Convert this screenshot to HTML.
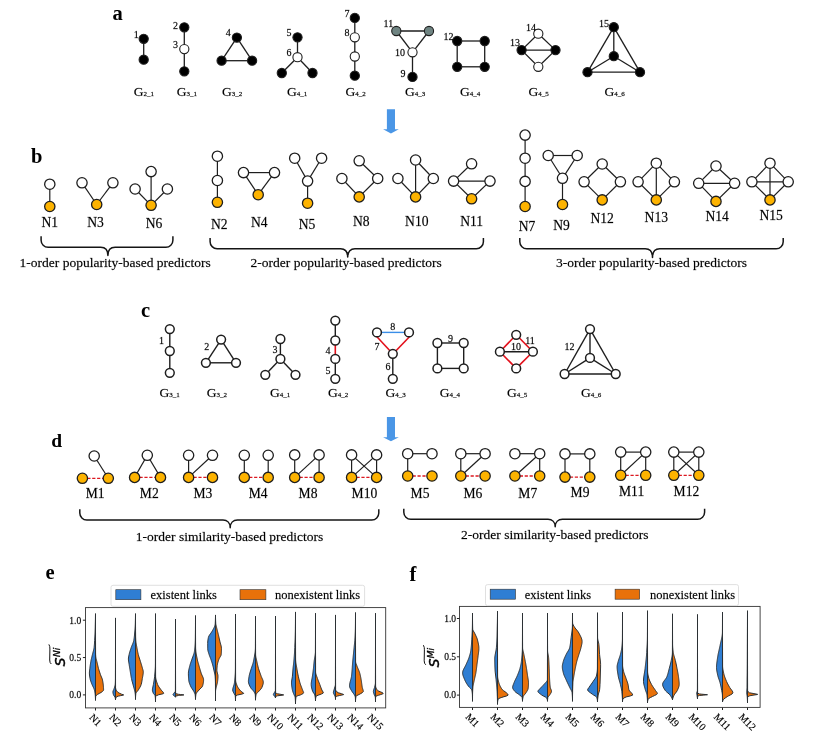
<!DOCTYPE html>
<html><head><meta charset="utf-8"><title>Figure</title>
<style>html,body{margin:0;padding:0;background:#fff;} svg{display:block;}</style></head>
<body><svg width="814" height="740" viewBox="0 0 814 740">
<rect width="814" height="740" fill="#fff"/>
<text x="112.5" y="19.7" font-size="20.5" text-anchor="start" font-weight="bold" font-family="'Liberation Serif', 'Times New Roman', serif"  >a</text>
<text x="31" y="163" font-size="20.5" text-anchor="start" font-weight="bold" font-family="'Liberation Serif', 'Times New Roman', serif"  >b</text>
<text x="141" y="316.5" font-size="20.5" text-anchor="start" font-weight="bold" font-family="'Liberation Serif', 'Times New Roman', serif"  >c</text>
<text x="51.2" y="446.6" font-size="19.5" text-anchor="start" font-weight="bold" font-family="'Liberation Serif', 'Times New Roman', serif"  >d</text>
<text x="45.5" y="579.2" font-size="20.5" text-anchor="start" font-weight="bold" font-family="'Liberation Serif', 'Times New Roman', serif"  >e</text>
<text x="409.5" y="580.9" font-size="20.5" text-anchor="start" font-weight="bold" font-family="'Liberation Serif', 'Times New Roman', serif"  >f</text>
<line x1="143.7" y1="38.8" x2="143.7" y2="59.7" stroke="#1e1e1e" stroke-width="1.3" />
<circle cx="143.7" cy="38.8" r="4.6" fill="#000" stroke="#1e1e1e" stroke-width="1.1"/>
<circle cx="143.7" cy="59.7" r="4.6" fill="#000" stroke="#1e1e1e" stroke-width="1.1"/>
<line x1="184.3" y1="27.3" x2="184.3" y2="49.1" stroke="#1e1e1e" stroke-width="1.3" />
<line x1="184.3" y1="49.1" x2="184.3" y2="71.3" stroke="#1e1e1e" stroke-width="1.3" />
<circle cx="184.3" cy="27.3" r="4.6" fill="#000" stroke="#1e1e1e" stroke-width="1.1"/>
<circle cx="184.3" cy="49.1" r="4.6" fill="#fff" stroke="#1e1e1e" stroke-width="1.1"/>
<circle cx="184.3" cy="71.3" r="4.6" fill="#000" stroke="#1e1e1e" stroke-width="1.1"/>
<line x1="236.9" y1="37.6" x2="221.6" y2="60.7" stroke="#1e1e1e" stroke-width="1.3" />
<line x1="236.9" y1="37.6" x2="252.1" y2="60.7" stroke="#1e1e1e" stroke-width="1.3" />
<line x1="221.6" y1="60.7" x2="252.1" y2="60.7" stroke="#1e1e1e" stroke-width="1.3" />
<circle cx="236.9" cy="37.6" r="4.6" fill="#000" stroke="#1e1e1e" stroke-width="1.1"/>
<circle cx="221.6" cy="60.7" r="4.6" fill="#000" stroke="#1e1e1e" stroke-width="1.1"/>
<circle cx="252.1" cy="60.7" r="4.6" fill="#000" stroke="#1e1e1e" stroke-width="1.1"/>
<line x1="297.5" y1="37.3" x2="297.5" y2="57.2" stroke="#1e1e1e" stroke-width="1.3" />
<line x1="297.5" y1="57.2" x2="281.8" y2="73" stroke="#1e1e1e" stroke-width="1.3" />
<line x1="297.5" y1="57.2" x2="312.5" y2="73" stroke="#1e1e1e" stroke-width="1.3" />
<circle cx="297.5" cy="37.3" r="4.6" fill="#000" stroke="#1e1e1e" stroke-width="1.1"/>
<circle cx="297.5" cy="57.2" r="4.6" fill="#fff" stroke="#1e1e1e" stroke-width="1.1"/>
<circle cx="281.8" cy="73" r="4.6" fill="#000" stroke="#1e1e1e" stroke-width="1.1"/>
<circle cx="312.5" cy="73" r="4.6" fill="#000" stroke="#1e1e1e" stroke-width="1.1"/>
<line x1="354.8" y1="17.9" x2="354.8" y2="37.3" stroke="#1e1e1e" stroke-width="1.3" />
<line x1="354.8" y1="37.3" x2="354.8" y2="56.5" stroke="#1e1e1e" stroke-width="1.3" />
<line x1="354.8" y1="56.5" x2="354.8" y2="75.7" stroke="#1e1e1e" stroke-width="1.3" />
<circle cx="354.8" cy="17.9" r="4.6" fill="#000" stroke="#1e1e1e" stroke-width="1.1"/>
<circle cx="354.8" cy="37.3" r="4.6" fill="#fff" stroke="#1e1e1e" stroke-width="1.1"/>
<circle cx="354.8" cy="56.5" r="4.6" fill="#fff" stroke="#1e1e1e" stroke-width="1.1"/>
<circle cx="354.8" cy="75.7" r="4.6" fill="#000" stroke="#1e1e1e" stroke-width="1.1"/>
<line x1="396.3" y1="31" x2="429" y2="31" stroke="#1e1e1e" stroke-width="1.3" />
<line x1="396.3" y1="31" x2="412.5" y2="52.3" stroke="#1e1e1e" stroke-width="1.3" />
<line x1="429" y1="31" x2="412.5" y2="52.3" stroke="#1e1e1e" stroke-width="1.3" />
<line x1="412.5" y1="52.3" x2="412.5" y2="76.9" stroke="#1e1e1e" stroke-width="1.3" />
<circle cx="396.3" cy="31" r="4.6" fill="#6f8482" stroke="#1e1e1e" stroke-width="1.1"/>
<circle cx="429" cy="31" r="4.6" fill="#6f8482" stroke="#1e1e1e" stroke-width="1.1"/>
<circle cx="412.5" cy="52.3" r="4.6" fill="#fff" stroke="#1e1e1e" stroke-width="1.1"/>
<circle cx="412.5" cy="76.9" r="4.6" fill="#000" stroke="#1e1e1e" stroke-width="1.1"/>
<line x1="457.2" y1="41" x2="484.7" y2="41" stroke="#1e1e1e" stroke-width="1.3" />
<line x1="457.2" y1="41" x2="457.2" y2="66.8" stroke="#1e1e1e" stroke-width="1.3" />
<line x1="484.7" y1="41" x2="484.7" y2="66.8" stroke="#1e1e1e" stroke-width="1.3" />
<line x1="457.2" y1="66.8" x2="484.7" y2="66.8" stroke="#1e1e1e" stroke-width="1.3" />
<circle cx="457.2" cy="41" r="4.6" fill="#000" stroke="#1e1e1e" stroke-width="1.1"/>
<circle cx="484.7" cy="41" r="4.6" fill="#000" stroke="#1e1e1e" stroke-width="1.1"/>
<circle cx="457.2" cy="66.8" r="4.6" fill="#000" stroke="#1e1e1e" stroke-width="1.1"/>
<circle cx="484.7" cy="66.8" r="4.6" fill="#000" stroke="#1e1e1e" stroke-width="1.1"/>
<line x1="538.3" y1="33.7" x2="521.6" y2="50.1" stroke="#1e1e1e" stroke-width="1.3" />
<line x1="538.3" y1="33.7" x2="555.5" y2="50.1" stroke="#1e1e1e" stroke-width="1.3" />
<line x1="521.6" y1="50.1" x2="555.5" y2="50.1" stroke="#1e1e1e" stroke-width="1.3" />
<line x1="521.6" y1="50.1" x2="538.3" y2="66.8" stroke="#1e1e1e" stroke-width="1.3" />
<line x1="555.5" y1="50.1" x2="538.3" y2="66.8" stroke="#1e1e1e" stroke-width="1.3" />
<circle cx="538.3" cy="33.7" r="4.6" fill="#fff" stroke="#1e1e1e" stroke-width="1.1"/>
<circle cx="521.6" cy="50.1" r="4.6" fill="#000" stroke="#1e1e1e" stroke-width="1.1"/>
<circle cx="555.5" cy="50.1" r="4.6" fill="#000" stroke="#1e1e1e" stroke-width="1.1"/>
<circle cx="538.3" cy="66.8" r="4.6" fill="#fff" stroke="#1e1e1e" stroke-width="1.1"/>
<line x1="613.8" y1="27.2" x2="613.8" y2="56.2" stroke="#1e1e1e" stroke-width="1.3" />
<line x1="613.8" y1="27.2" x2="587.5" y2="72.2" stroke="#1e1e1e" stroke-width="1.3" />
<line x1="613.8" y1="27.2" x2="640" y2="72.2" stroke="#1e1e1e" stroke-width="1.3" />
<line x1="613.8" y1="56.2" x2="587.5" y2="72.2" stroke="#1e1e1e" stroke-width="1.3" />
<line x1="613.8" y1="56.2" x2="640" y2="72.2" stroke="#1e1e1e" stroke-width="1.3" />
<line x1="587.5" y1="72.2" x2="640" y2="72.2" stroke="#1e1e1e" stroke-width="1.3" />
<circle cx="613.8" cy="27.2" r="4.6" fill="#000" stroke="#1e1e1e" stroke-width="1.1"/>
<circle cx="613.8" cy="56.2" r="4.6" fill="#000" stroke="#1e1e1e" stroke-width="1.1"/>
<circle cx="587.5" cy="72.2" r="4.6" fill="#000" stroke="#1e1e1e" stroke-width="1.1"/>
<circle cx="640" cy="72.2" r="4.6" fill="#000" stroke="#1e1e1e" stroke-width="1.1"/>
<text x="136.2" y="37.6" font-size="10" text-anchor="middle" font-weight="normal" font-family="'Liberation Serif', 'Times New Roman', serif" stroke="#000" stroke-width="0.28" stroke-opacity="0.55" >1</text>
<text x="175.6" y="28.5" font-size="10" text-anchor="middle" font-weight="normal" font-family="'Liberation Serif', 'Times New Roman', serif" stroke="#000" stroke-width="0.28" stroke-opacity="0.55" >2</text>
<text x="175.6" y="47.7" font-size="10" text-anchor="middle" font-weight="normal" font-family="'Liberation Serif', 'Times New Roman', serif" stroke="#000" stroke-width="0.28" stroke-opacity="0.55" >3</text>
<text x="228.3" y="36.2" font-size="10" text-anchor="middle" font-weight="normal" font-family="'Liberation Serif', 'Times New Roman', serif" stroke="#000" stroke-width="0.28" stroke-opacity="0.55" >4</text>
<text x="289" y="36.2" font-size="10" text-anchor="middle" font-weight="normal" font-family="'Liberation Serif', 'Times New Roman', serif" stroke="#000" stroke-width="0.28" stroke-opacity="0.55" >5</text>
<text x="289" y="55.8" font-size="10" text-anchor="middle" font-weight="normal" font-family="'Liberation Serif', 'Times New Roman', serif" stroke="#000" stroke-width="0.28" stroke-opacity="0.55" >6</text>
<text x="347" y="17" font-size="10" text-anchor="middle" font-weight="normal" font-family="'Liberation Serif', 'Times New Roman', serif" stroke="#000" stroke-width="0.28" stroke-opacity="0.55" >7</text>
<text x="347" y="35.5" font-size="10" text-anchor="middle" font-weight="normal" font-family="'Liberation Serif', 'Times New Roman', serif" stroke="#000" stroke-width="0.28" stroke-opacity="0.55" >8</text>
<text x="388.4" y="27.3" font-size="10" text-anchor="middle" font-weight="normal" font-family="'Liberation Serif', 'Times New Roman', serif" stroke="#000" stroke-width="0.28" stroke-opacity="0.55" >11</text>
<text x="400" y="55.8" font-size="10" text-anchor="middle" font-weight="normal" font-family="'Liberation Serif', 'Times New Roman', serif" stroke="#000" stroke-width="0.28" stroke-opacity="0.55" >10</text>
<text x="403" y="76.5" font-size="10" text-anchor="middle" font-weight="normal" font-family="'Liberation Serif', 'Times New Roman', serif" stroke="#000" stroke-width="0.28" stroke-opacity="0.55" >9</text>
<text x="448.6" y="39.5" font-size="10" text-anchor="middle" font-weight="normal" font-family="'Liberation Serif', 'Times New Roman', serif" stroke="#000" stroke-width="0.28" stroke-opacity="0.55" >12</text>
<text x="531" y="30.5" font-size="10" text-anchor="middle" font-weight="normal" font-family="'Liberation Serif', 'Times New Roman', serif" stroke="#000" stroke-width="0.28" stroke-opacity="0.55" >14</text>
<text x="515" y="45.8" font-size="10" text-anchor="middle" font-weight="normal" font-family="'Liberation Serif', 'Times New Roman', serif" stroke="#000" stroke-width="0.28" stroke-opacity="0.55" >13</text>
<text x="603.9" y="26.7" font-size="10" text-anchor="middle" font-weight="normal" font-family="'Liberation Serif', 'Times New Roman', serif" stroke="#000" stroke-width="0.28" stroke-opacity="0.55" >15</text>
<text x="133.8" y="95.7" font-family="'Liberation Serif', 'Times New Roman', serif" font-size="13.5" stroke="#000" stroke-width="0.28" stroke-opacity="0.55">G<tspan font-size="7">2_1</tspan></text>
<text x="176.7" y="95.7" font-family="'Liberation Serif', 'Times New Roman', serif" font-size="13.5" stroke="#000" stroke-width="0.28" stroke-opacity="0.55">G<tspan font-size="7">3_1</tspan></text>
<text x="222" y="95.7" font-family="'Liberation Serif', 'Times New Roman', serif" font-size="13.5" stroke="#000" stroke-width="0.28" stroke-opacity="0.55">G<tspan font-size="7">3_2</tspan></text>
<text x="287" y="95.7" font-family="'Liberation Serif', 'Times New Roman', serif" font-size="13.5" stroke="#000" stroke-width="0.28" stroke-opacity="0.55">G<tspan font-size="7">4_1</tspan></text>
<text x="345.5" y="95.7" font-family="'Liberation Serif', 'Times New Roman', serif" font-size="13.5" stroke="#000" stroke-width="0.28" stroke-opacity="0.55">G<tspan font-size="7">4_2</tspan></text>
<text x="405" y="95.7" font-family="'Liberation Serif', 'Times New Roman', serif" font-size="13.5" stroke="#000" stroke-width="0.28" stroke-opacity="0.55">G<tspan font-size="7">4_3</tspan></text>
<text x="460" y="95.7" font-family="'Liberation Serif', 'Times New Roman', serif" font-size="13.5" stroke="#000" stroke-width="0.28" stroke-opacity="0.55">G<tspan font-size="7">4_4</tspan></text>
<text x="528.5" y="95.7" font-family="'Liberation Serif', 'Times New Roman', serif" font-size="13.5" stroke="#000" stroke-width="0.28" stroke-opacity="0.55">G<tspan font-size="7">4_5</tspan></text>
<text x="604.4" y="95.7" font-family="'Liberation Serif', 'Times New Roman', serif" font-size="13.5" stroke="#000" stroke-width="0.28" stroke-opacity="0.55">G<tspan font-size="7">4_6</tspan></text>
<path d="M386.9,109.2 L395,109.2 L395,129.3 L398.8,129.3 L390.95,133.5 L383.1,129.3 L386.9,129.3 Z" fill="#4a96e6"/>
<path d="M386.9,417 L395,417 L395,437.2 L398.8,437.2 L390.95,441.2 L383.1,437.2 L386.9,437.2 Z" fill="#4a96e6"/>
<path d="M41.1,236.2 L41.1,240.3 C41.1,244.15 44.25,247.3 48.1,247.3 L100.7,247.3 C104.7,247.3 107.9,249.8 107.9,255.4 C107.9,249.8 111.1,247.3 115.1,247.3 L165.9,247.3 C169.75,247.3 172.9,244.15 172.9,240.3 L172.9,236.2" fill="none" stroke="#151515" stroke-width="1.5" stroke-linejoin="round"/>
<path d="M210.1,238 L210.1,241.7 C210.1,245.55 213.25,248.7 217.1,248.7 L340.5,248.7 C344.5,248.7 347.7,251.2 347.7,257.1 C347.7,251.2 350.9,248.7 354.9,248.7 L476.4,248.7 C480.25,248.7 483.4,245.55 483.4,241.7 L483.4,238" fill="none" stroke="#151515" stroke-width="1.5" stroke-linejoin="round"/>
<path d="M519.8,238 L519.8,241.8 C519.8,245.65 522.95,248.8 526.8,248.8 L645.3,248.8 C649.3,248.8 652.5,251.3 652.5,257.5 C652.5,251.3 655.7,248.8 659.7,248.8 L776.2,248.8 C780.05,248.8 783.2,245.65 783.2,241.8 L783.2,238" fill="none" stroke="#151515" stroke-width="1.5" stroke-linejoin="round"/>
<path d="M79.8,509.2 L79.8,513.1 C79.8,516.95 82.95,520.1 86.8,520.1 L223,520.1 C227,520.1 230.2,522.6 230.2,527.8 C230.2,522.6 233.4,520.1 237.4,520.1 L371.8,520.1 C375.65,520.1 378.8,516.95 378.8,513.1 L378.8,509.2" fill="none" stroke="#151515" stroke-width="1.5" stroke-linejoin="round"/>
<path d="M403.8,508.8 L403.8,512.3 C403.8,516.15 406.95,519.3 410.8,519.3 L548,519.3 C552,519.3 555.2,521.8 555.2,526.8 C555.2,521.8 558.4,519.3 562.4,519.3 L697.6,519.3 C701.45,519.3 704.6,516.15 704.6,512.3 L704.6,508.8" fill="none" stroke="#151515" stroke-width="1.5" stroke-linejoin="round"/>
<text x="115.2" y="266.5" font-size="13.5" text-anchor="middle" font-weight="normal" font-family="'Liberation Serif', 'Times New Roman', serif" stroke="#000" stroke-width="0.28" stroke-opacity="0.55" >1-order popularity-based predictors</text>
<text x="346.2" y="266.6" font-size="13.5" text-anchor="middle" font-weight="normal" font-family="'Liberation Serif', 'Times New Roman', serif" stroke="#000" stroke-width="0.28" stroke-opacity="0.55" >2-order popularity-based predictors</text>
<text x="651.5" y="266.8" font-size="13.5" text-anchor="middle" font-weight="normal" font-family="'Liberation Serif', 'Times New Roman', serif" stroke="#000" stroke-width="0.28" stroke-opacity="0.55" >3-order popularity-based predictors</text>
<text x="229.6" y="540.8" font-size="13.5" text-anchor="middle" font-weight="normal" font-family="'Liberation Serif', 'Times New Roman', serif" stroke="#000" stroke-width="0.28" stroke-opacity="0.55" >1-order similarity-based predictors</text>
<text x="554.8" y="539.4" font-size="13.5" text-anchor="middle" font-weight="normal" font-family="'Liberation Serif', 'Times New Roman', serif" stroke="#000" stroke-width="0.28" stroke-opacity="0.55" >2-order similarity-based predictors</text>
<line x1="49.8" y1="184.2" x2="49.8" y2="206.5" stroke="#1e1e1e" stroke-width="1.2" />
<circle cx="49.8" cy="184.2" r="5.15" fill="#fff" stroke="#1e1e1e" stroke-width="1.3"/>
<circle cx="49.8" cy="206.5" r="5.15" fill="#fdb300" stroke="#1e1e1e" stroke-width="1.3"/>
<line x1="96.7" y1="204.5" x2="82" y2="182.8" stroke="#1e1e1e" stroke-width="1.2" />
<line x1="96.7" y1="204.5" x2="112.9" y2="182.8" stroke="#1e1e1e" stroke-width="1.2" />
<circle cx="96.7" cy="204.5" r="5.15" fill="#fdb300" stroke="#1e1e1e" stroke-width="1.3"/>
<circle cx="82" cy="182.8" r="5.15" fill="#fff" stroke="#1e1e1e" stroke-width="1.3"/>
<circle cx="112.9" cy="182.8" r="5.15" fill="#fff" stroke="#1e1e1e" stroke-width="1.3"/>
<line x1="151.1" y1="205.3" x2="151.1" y2="171.6" stroke="#1e1e1e" stroke-width="1.2" />
<line x1="151.1" y1="205.3" x2="135.1" y2="189" stroke="#1e1e1e" stroke-width="1.2" />
<line x1="151.1" y1="205.3" x2="167.4" y2="189" stroke="#1e1e1e" stroke-width="1.2" />
<circle cx="151.1" cy="205.3" r="5.15" fill="#fdb300" stroke="#1e1e1e" stroke-width="1.3"/>
<circle cx="151.1" cy="171.6" r="5.15" fill="#fff" stroke="#1e1e1e" stroke-width="1.3"/>
<circle cx="135.1" cy="189" r="5.15" fill="#fff" stroke="#1e1e1e" stroke-width="1.3"/>
<circle cx="167.4" cy="189" r="5.15" fill="#fff" stroke="#1e1e1e" stroke-width="1.3"/>
<line x1="217.4" y1="156.2" x2="217.4" y2="180.5" stroke="#1e1e1e" stroke-width="1.2" />
<line x1="217.4" y1="180.5" x2="217.4" y2="202.3" stroke="#1e1e1e" stroke-width="1.2" />
<circle cx="217.4" cy="156.2" r="5.15" fill="#fff" stroke="#1e1e1e" stroke-width="1.3"/>
<circle cx="217.4" cy="180.5" r="5.15" fill="#fff" stroke="#1e1e1e" stroke-width="1.3"/>
<circle cx="217.4" cy="202.3" r="5.15" fill="#fdb300" stroke="#1e1e1e" stroke-width="1.3"/>
<line x1="243.5" y1="172.6" x2="274.5" y2="172.6" stroke="#1e1e1e" stroke-width="1.2" />
<line x1="243.5" y1="172.6" x2="258.2" y2="194.7" stroke="#1e1e1e" stroke-width="1.2" />
<line x1="274.5" y1="172.6" x2="258.2" y2="194.7" stroke="#1e1e1e" stroke-width="1.2" />
<circle cx="243.5" cy="172.6" r="5.15" fill="#fff" stroke="#1e1e1e" stroke-width="1.3"/>
<circle cx="274.5" cy="172.6" r="5.15" fill="#fff" stroke="#1e1e1e" stroke-width="1.3"/>
<circle cx="258.2" cy="194.7" r="5.15" fill="#fdb300" stroke="#1e1e1e" stroke-width="1.3"/>
<line x1="294.7" y1="158.2" x2="307.6" y2="181.1" stroke="#1e1e1e" stroke-width="1.2" />
<line x1="321.6" y1="158.2" x2="307.6" y2="181.1" stroke="#1e1e1e" stroke-width="1.2" />
<line x1="307.6" y1="181.1" x2="307.6" y2="203.2" stroke="#1e1e1e" stroke-width="1.2" />
<circle cx="294.7" cy="158.2" r="5.15" fill="#fff" stroke="#1e1e1e" stroke-width="1.3"/>
<circle cx="321.6" cy="158.2" r="5.15" fill="#fff" stroke="#1e1e1e" stroke-width="1.3"/>
<circle cx="307.6" cy="181.1" r="5.15" fill="#fff" stroke="#1e1e1e" stroke-width="1.3"/>
<circle cx="307.6" cy="203.2" r="5.15" fill="#fdb300" stroke="#1e1e1e" stroke-width="1.3"/>
<line x1="359.2" y1="196.9" x2="341.9" y2="178.5" stroke="#1e1e1e" stroke-width="1.2" />
<line x1="359.2" y1="196.9" x2="377.7" y2="178.5" stroke="#1e1e1e" stroke-width="1.2" />
<line x1="377.7" y1="178.5" x2="359.2" y2="160.8" stroke="#1e1e1e" stroke-width="1.2" />
<circle cx="359.2" cy="160.8" r="5.15" fill="#fff" stroke="#1e1e1e" stroke-width="1.3"/>
<circle cx="341.9" cy="178.5" r="5.15" fill="#fff" stroke="#1e1e1e" stroke-width="1.3"/>
<circle cx="377.7" cy="178.5" r="5.15" fill="#fff" stroke="#1e1e1e" stroke-width="1.3"/>
<circle cx="359.2" cy="196.9" r="5.15" fill="#fdb300" stroke="#1e1e1e" stroke-width="1.3"/>
<line x1="415.6" y1="196.9" x2="397.9" y2="178.5" stroke="#1e1e1e" stroke-width="1.2" />
<line x1="415.6" y1="196.9" x2="415.6" y2="160" stroke="#1e1e1e" stroke-width="1.2" />
<line x1="415.6" y1="196.9" x2="433.3" y2="178.5" stroke="#1e1e1e" stroke-width="1.2" />
<line x1="433.3" y1="178.5" x2="415.6" y2="160" stroke="#1e1e1e" stroke-width="1.2" />
<circle cx="415.6" cy="160" r="5.15" fill="#fff" stroke="#1e1e1e" stroke-width="1.3"/>
<circle cx="397.9" cy="178.5" r="5.15" fill="#fff" stroke="#1e1e1e" stroke-width="1.3"/>
<circle cx="433.3" cy="178.5" r="5.15" fill="#fff" stroke="#1e1e1e" stroke-width="1.3"/>
<circle cx="415.6" cy="196.9" r="5.15" fill="#fdb300" stroke="#1e1e1e" stroke-width="1.3"/>
<line x1="471.6" y1="163.8" x2="453.6" y2="181.1" stroke="#1e1e1e" stroke-width="1.2" />
<line x1="453.6" y1="181.1" x2="490" y2="181.1" stroke="#1e1e1e" stroke-width="1.2" />
<line x1="453.6" y1="181.1" x2="471.6" y2="198.8" stroke="#1e1e1e" stroke-width="1.2" />
<line x1="490" y1="181.1" x2="471.6" y2="198.8" stroke="#1e1e1e" stroke-width="1.2" />
<circle cx="471.6" cy="163.8" r="5.15" fill="#fff" stroke="#1e1e1e" stroke-width="1.3"/>
<circle cx="453.6" cy="181.1" r="5.15" fill="#fff" stroke="#1e1e1e" stroke-width="1.3"/>
<circle cx="490" cy="181.1" r="5.15" fill="#fff" stroke="#1e1e1e" stroke-width="1.3"/>
<circle cx="471.6" cy="198.8" r="5.15" fill="#fdb300" stroke="#1e1e1e" stroke-width="1.3"/>
<line x1="525.1" y1="135.1" x2="525.1" y2="158.2" stroke="#1e1e1e" stroke-width="1.2" />
<line x1="525.1" y1="158.2" x2="525.1" y2="181.4" stroke="#1e1e1e" stroke-width="1.2" />
<line x1="525.1" y1="181.4" x2="525.1" y2="206.5" stroke="#1e1e1e" stroke-width="1.2" />
<circle cx="525.1" cy="135.1" r="5.15" fill="#fff" stroke="#1e1e1e" stroke-width="1.3"/>
<circle cx="525.1" cy="158.2" r="5.15" fill="#fff" stroke="#1e1e1e" stroke-width="1.3"/>
<circle cx="525.1" cy="181.4" r="5.15" fill="#fff" stroke="#1e1e1e" stroke-width="1.3"/>
<circle cx="525.1" cy="206.5" r="5.15" fill="#fdb300" stroke="#1e1e1e" stroke-width="1.3"/>
<line x1="548.2" y1="155.5" x2="577.2" y2="155.5" stroke="#1e1e1e" stroke-width="1.2" />
<line x1="548.2" y1="155.5" x2="562.5" y2="178.3" stroke="#1e1e1e" stroke-width="1.2" />
<line x1="577.2" y1="155.5" x2="562.5" y2="178.3" stroke="#1e1e1e" stroke-width="1.2" />
<line x1="562.5" y1="178.3" x2="562.5" y2="204.5" stroke="#1e1e1e" stroke-width="1.2" />
<circle cx="548.2" cy="155.5" r="5.15" fill="#fff" stroke="#1e1e1e" stroke-width="1.3"/>
<circle cx="577.2" cy="155.5" r="5.15" fill="#fff" stroke="#1e1e1e" stroke-width="1.3"/>
<circle cx="562.5" cy="178.3" r="5.15" fill="#fff" stroke="#1e1e1e" stroke-width="1.3"/>
<circle cx="562.5" cy="204.5" r="5.15" fill="#fdb300" stroke="#1e1e1e" stroke-width="1.3"/>
<line x1="602.2" y1="164" x2="584.1" y2="181.8" stroke="#1e1e1e" stroke-width="1.2" />
<line x1="602.2" y1="164" x2="620.4" y2="181.8" stroke="#1e1e1e" stroke-width="1.2" />
<line x1="584.1" y1="181.8" x2="602.2" y2="199.9" stroke="#1e1e1e" stroke-width="1.2" />
<line x1="620.4" y1="181.8" x2="602.2" y2="199.9" stroke="#1e1e1e" stroke-width="1.2" />
<circle cx="602.2" cy="164" r="5.15" fill="#fff" stroke="#1e1e1e" stroke-width="1.3"/>
<circle cx="584.1" cy="181.8" r="5.15" fill="#fff" stroke="#1e1e1e" stroke-width="1.3"/>
<circle cx="620.4" cy="181.8" r="5.15" fill="#fff" stroke="#1e1e1e" stroke-width="1.3"/>
<circle cx="602.2" cy="199.9" r="5.15" fill="#fdb300" stroke="#1e1e1e" stroke-width="1.3"/>
<line x1="656.3" y1="163.2" x2="638.1" y2="181.8" stroke="#1e1e1e" stroke-width="1.2" />
<line x1="656.3" y1="163.2" x2="674.4" y2="181.8" stroke="#1e1e1e" stroke-width="1.2" />
<line x1="638.1" y1="181.8" x2="656.3" y2="199.9" stroke="#1e1e1e" stroke-width="1.2" />
<line x1="674.4" y1="181.8" x2="656.3" y2="199.9" stroke="#1e1e1e" stroke-width="1.2" />
<line x1="656.3" y1="163.2" x2="656.3" y2="199.9" stroke="#1e1e1e" stroke-width="1.2" />
<circle cx="656.3" cy="163.2" r="5.15" fill="#fff" stroke="#1e1e1e" stroke-width="1.3"/>
<circle cx="638.1" cy="181.8" r="5.15" fill="#fff" stroke="#1e1e1e" stroke-width="1.3"/>
<circle cx="674.4" cy="181.8" r="5.15" fill="#fff" stroke="#1e1e1e" stroke-width="1.3"/>
<circle cx="656.3" cy="199.9" r="5.15" fill="#fdb300" stroke="#1e1e1e" stroke-width="1.3"/>
<line x1="716" y1="166" x2="698.7" y2="183.3" stroke="#1e1e1e" stroke-width="1.2" />
<line x1="716" y1="166" x2="734.6" y2="183.3" stroke="#1e1e1e" stroke-width="1.2" />
<line x1="698.7" y1="183.3" x2="716" y2="201.4" stroke="#1e1e1e" stroke-width="1.2" />
<line x1="734.6" y1="183.3" x2="716" y2="201.4" stroke="#1e1e1e" stroke-width="1.2" />
<line x1="698.7" y1="183.3" x2="734.6" y2="183.3" stroke="#1e1e1e" stroke-width="1.2" />
<circle cx="716" cy="166" r="5.15" fill="#fff" stroke="#1e1e1e" stroke-width="1.3"/>
<circle cx="698.7" cy="183.3" r="5.15" fill="#fff" stroke="#1e1e1e" stroke-width="1.3"/>
<circle cx="734.6" cy="183.3" r="5.15" fill="#fff" stroke="#1e1e1e" stroke-width="1.3"/>
<circle cx="716" cy="201.4" r="5.15" fill="#fdb300" stroke="#1e1e1e" stroke-width="1.3"/>
<line x1="770" y1="163.2" x2="751.9" y2="181.8" stroke="#1e1e1e" stroke-width="1.2" />
<line x1="770" y1="163.2" x2="788.2" y2="181.8" stroke="#1e1e1e" stroke-width="1.2" />
<line x1="751.9" y1="181.8" x2="770" y2="199.9" stroke="#1e1e1e" stroke-width="1.2" />
<line x1="788.2" y1="181.8" x2="770" y2="199.9" stroke="#1e1e1e" stroke-width="1.2" />
<line x1="751.9" y1="181.8" x2="788.2" y2="181.8" stroke="#1e1e1e" stroke-width="1.2" />
<line x1="770" y1="163.2" x2="770" y2="199.9" stroke="#1e1e1e" stroke-width="1.2" />
<circle cx="770" cy="163.2" r="5.15" fill="#fff" stroke="#1e1e1e" stroke-width="1.3"/>
<circle cx="751.9" cy="181.8" r="5.15" fill="#fff" stroke="#1e1e1e" stroke-width="1.3"/>
<circle cx="788.2" cy="181.8" r="5.15" fill="#fff" stroke="#1e1e1e" stroke-width="1.3"/>
<circle cx="770" cy="199.9" r="5.15" fill="#fdb300" stroke="#1e1e1e" stroke-width="1.3"/>
<text x="49.7" y="226.7" font-size="13.6" text-anchor="middle" font-weight="normal" font-family="'Liberation Serif', 'Times New Roman', serif" stroke="#000" stroke-width="0.28" stroke-opacity="0.55" >N1</text>
<text x="95.5" y="227.2" font-size="13.6" text-anchor="middle" font-weight="normal" font-family="'Liberation Serif', 'Times New Roman', serif" stroke="#000" stroke-width="0.28" stroke-opacity="0.55" >N3</text>
<text x="154" y="227.6" font-size="13.6" text-anchor="middle" font-weight="normal" font-family="'Liberation Serif', 'Times New Roman', serif" stroke="#000" stroke-width="0.28" stroke-opacity="0.55" >N6</text>
<text x="219.3" y="229" font-size="13.6" text-anchor="middle" font-weight="normal" font-family="'Liberation Serif', 'Times New Roman', serif" stroke="#000" stroke-width="0.28" stroke-opacity="0.55" >N2</text>
<text x="259.3" y="227.3" font-size="13.6" text-anchor="middle" font-weight="normal" font-family="'Liberation Serif', 'Times New Roman', serif" stroke="#000" stroke-width="0.28" stroke-opacity="0.55" >N4</text>
<text x="307.1" y="229" font-size="13.6" text-anchor="middle" font-weight="normal" font-family="'Liberation Serif', 'Times New Roman', serif" stroke="#000" stroke-width="0.28" stroke-opacity="0.55" >N5</text>
<text x="361.2" y="225.8" font-size="13.6" text-anchor="middle" font-weight="normal" font-family="'Liberation Serif', 'Times New Roman', serif" stroke="#000" stroke-width="0.28" stroke-opacity="0.55" >N8</text>
<text x="416.8" y="225.9" font-size="13.6" text-anchor="middle" font-weight="normal" font-family="'Liberation Serif', 'Times New Roman', serif" stroke="#000" stroke-width="0.28" stroke-opacity="0.55" >N10</text>
<text x="471.6" y="225.9" font-size="13.6" text-anchor="middle" font-weight="normal" font-family="'Liberation Serif', 'Times New Roman', serif" stroke="#000" stroke-width="0.28" stroke-opacity="0.55" >N11</text>
<text x="527" y="231" font-size="13.6" text-anchor="middle" font-weight="normal" font-family="'Liberation Serif', 'Times New Roman', serif" stroke="#000" stroke-width="0.28" stroke-opacity="0.55" >N7</text>
<text x="561.5" y="229.6" font-size="13.6" text-anchor="middle" font-weight="normal" font-family="'Liberation Serif', 'Times New Roman', serif" stroke="#000" stroke-width="0.28" stroke-opacity="0.55" >N9</text>
<text x="602.2" y="222.6" font-size="13.6" text-anchor="middle" font-weight="normal" font-family="'Liberation Serif', 'Times New Roman', serif" stroke="#000" stroke-width="0.28" stroke-opacity="0.55" >N12</text>
<text x="656.3" y="221.7" font-size="13.6" text-anchor="middle" font-weight="normal" font-family="'Liberation Serif', 'Times New Roman', serif" stroke="#000" stroke-width="0.28" stroke-opacity="0.55" >N13</text>
<text x="717.2" y="221.3" font-size="13.6" text-anchor="middle" font-weight="normal" font-family="'Liberation Serif', 'Times New Roman', serif" stroke="#000" stroke-width="0.28" stroke-opacity="0.55" >N14</text>
<text x="771.2" y="220.3" font-size="13.6" text-anchor="middle" font-weight="normal" font-family="'Liberation Serif', 'Times New Roman', serif" stroke="#000" stroke-width="0.28" stroke-opacity="0.55" >N15</text>
<line x1="376.2" y1="336" x2="390.4" y2="351.3" stroke="#e3101b" stroke-width="1.6" />
<line x1="410.2" y1="336" x2="395.5" y2="351.3" stroke="#e3101b" stroke-width="1.6" />
<line x1="169.8" y1="329.1" x2="169.8" y2="351" stroke="#1e1e1e" stroke-width="1.4" />
<line x1="169.8" y1="351" x2="169.8" y2="372.8" stroke="#1e1e1e" stroke-width="1.4" />
<circle cx="169.8" cy="329.1" r="4.4" fill="#fff" stroke="#1e1e1e" stroke-width="1.5"/>
<circle cx="169.8" cy="351" r="4.4" fill="#fff" stroke="#1e1e1e" stroke-width="1.5"/>
<circle cx="169.8" cy="372.8" r="4.4" fill="#fff" stroke="#1e1e1e" stroke-width="1.5"/>
<line x1="221.1" y1="339.6" x2="205.9" y2="362.8" stroke="#1e1e1e" stroke-width="1.4" />
<line x1="221.1" y1="339.6" x2="236" y2="362.8" stroke="#1e1e1e" stroke-width="1.4" />
<line x1="205.9" y1="362.8" x2="236" y2="362.8" stroke="#1e1e1e" stroke-width="1.4" />
<circle cx="221.1" cy="339.6" r="4.4" fill="#fff" stroke="#1e1e1e" stroke-width="1.5"/>
<circle cx="205.9" cy="362.8" r="4.4" fill="#fff" stroke="#1e1e1e" stroke-width="1.5"/>
<circle cx="236" cy="362.8" r="4.4" fill="#fff" stroke="#1e1e1e" stroke-width="1.5"/>
<line x1="280.4" y1="339" x2="280.4" y2="358.9" stroke="#1e1e1e" stroke-width="1.4" />
<line x1="280.4" y1="358.9" x2="265.3" y2="374.8" stroke="#1e1e1e" stroke-width="1.4" />
<line x1="280.4" y1="358.9" x2="295.5" y2="374.8" stroke="#1e1e1e" stroke-width="1.4" />
<circle cx="280.4" cy="339" r="4.4" fill="#fff" stroke="#1e1e1e" stroke-width="1.5"/>
<circle cx="280.4" cy="358.9" r="4.4" fill="#fff" stroke="#1e1e1e" stroke-width="1.5"/>
<circle cx="265.3" cy="374.8" r="4.4" fill="#fff" stroke="#1e1e1e" stroke-width="1.5"/>
<circle cx="295.5" cy="374.8" r="4.4" fill="#fff" stroke="#1e1e1e" stroke-width="1.5"/>
<line x1="335.3" y1="320.6" x2="335.3" y2="340.5" stroke="#1e1e1e" stroke-width="1.4" />
<line x1="335.3" y1="340.5" x2="335.3" y2="358.9" stroke="#e3101b" stroke-width="1.6" />
<line x1="335.3" y1="358.9" x2="335.3" y2="378.8" stroke="#1e1e1e" stroke-width="1.4" />
<circle cx="335.3" cy="320.6" r="4.4" fill="#fff" stroke="#1e1e1e" stroke-width="1.5"/>
<circle cx="335.3" cy="340.5" r="4.4" fill="#fff" stroke="#1e1e1e" stroke-width="1.5"/>
<circle cx="335.3" cy="358.9" r="4.4" fill="#fff" stroke="#1e1e1e" stroke-width="1.5"/>
<circle cx="335.3" cy="378.8" r="4.4" fill="#fff" stroke="#1e1e1e" stroke-width="1.5"/>
<line x1="377" y1="332.4" x2="409" y2="332.4" stroke="#3a8ee8" stroke-width="1.4" />
<line x1="392.8" y1="353.8" x2="392.8" y2="378.8" stroke="#1e1e1e" stroke-width="1.4" />
<circle cx="377" cy="332.4" r="4.4" fill="#fff" stroke="#1e1e1e" stroke-width="1.5"/>
<circle cx="409" cy="332.4" r="4.4" fill="#fff" stroke="#1e1e1e" stroke-width="1.5"/>
<circle cx="392.8" cy="353.8" r="4.4" fill="#fff" stroke="#1e1e1e" stroke-width="1.5"/>
<circle cx="392.8" cy="378.8" r="4.4" fill="#fff" stroke="#1e1e1e" stroke-width="1.5"/>
<line x1="437.4" y1="343" x2="463.7" y2="343" stroke="#1e1e1e" stroke-width="1.4" />
<line x1="437.4" y1="343" x2="437.4" y2="368.4" stroke="#1e1e1e" stroke-width="1.4" />
<line x1="463.7" y1="343" x2="463.7" y2="368.4" stroke="#1e1e1e" stroke-width="1.4" />
<line x1="437.4" y1="368.4" x2="463.7" y2="368.4" stroke="#1e1e1e" stroke-width="1.4" />
<circle cx="437.4" cy="343" r="4.4" fill="#fff" stroke="#1e1e1e" stroke-width="1.5"/>
<circle cx="463.7" cy="343" r="4.4" fill="#fff" stroke="#1e1e1e" stroke-width="1.5"/>
<circle cx="437.4" cy="368.4" r="4.4" fill="#fff" stroke="#1e1e1e" stroke-width="1.5"/>
<circle cx="463.7" cy="368.4" r="4.4" fill="#fff" stroke="#1e1e1e" stroke-width="1.5"/>
<line x1="516.2" y1="334.8" x2="499.9" y2="351.7" stroke="#e3101b" stroke-width="1.6" />
<line x1="516.2" y1="334.8" x2="532.9" y2="351.7" stroke="#e3101b" stroke-width="1.6" />
<line x1="499.9" y1="351.7" x2="532.9" y2="351.7" stroke="#1e1e1e" stroke-width="1.4" />
<line x1="499.9" y1="351.7" x2="516.2" y2="368.4" stroke="#e3101b" stroke-width="1.6" />
<line x1="532.9" y1="351.7" x2="516.2" y2="368.4" stroke="#e3101b" stroke-width="1.6" />
<circle cx="516.2" cy="334.8" r="4.4" fill="#fff" stroke="#1e1e1e" stroke-width="1.5"/>
<circle cx="499.9" cy="351.7" r="4.4" fill="#fff" stroke="#1e1e1e" stroke-width="1.5"/>
<circle cx="532.9" cy="351.7" r="4.4" fill="#fff" stroke="#1e1e1e" stroke-width="1.5"/>
<circle cx="516.2" cy="368.4" r="4.4" fill="#fff" stroke="#1e1e1e" stroke-width="1.5"/>
<line x1="590" y1="329.1" x2="590" y2="357.9" stroke="#1e1e1e" stroke-width="1.4" />
<line x1="590" y1="329.1" x2="564.6" y2="374" stroke="#1e1e1e" stroke-width="1.4" />
<line x1="590" y1="329.1" x2="615.7" y2="374" stroke="#1e1e1e" stroke-width="1.4" />
<line x1="590" y1="357.9" x2="564.6" y2="374" stroke="#1e1e1e" stroke-width="1.4" />
<line x1="590" y1="357.9" x2="615.7" y2="374" stroke="#1e1e1e" stroke-width="1.4" />
<line x1="564.6" y1="374" x2="615.7" y2="374" stroke="#1e1e1e" stroke-width="1.4" />
<circle cx="590" cy="329.1" r="4.4" fill="#fff" stroke="#1e1e1e" stroke-width="1.5"/>
<circle cx="590" cy="357.9" r="4.4" fill="#fff" stroke="#1e1e1e" stroke-width="1.5"/>
<circle cx="564.6" cy="374" r="4.4" fill="#fff" stroke="#1e1e1e" stroke-width="1.5"/>
<circle cx="615.7" cy="374" r="4.4" fill="#fff" stroke="#1e1e1e" stroke-width="1.5"/>
<text x="161.6" y="344" font-size="10" text-anchor="middle" font-weight="normal" font-family="'Liberation Serif', 'Times New Roman', serif" stroke="#000" stroke-width="0.28" stroke-opacity="0.55" >1</text>
<text x="206.7" y="349.8" font-size="10" text-anchor="middle" font-weight="normal" font-family="'Liberation Serif', 'Times New Roman', serif" stroke="#000" stroke-width="0.28" stroke-opacity="0.55" >2</text>
<text x="274.9" y="352.5" font-size="10" text-anchor="middle" font-weight="normal" font-family="'Liberation Serif', 'Times New Roman', serif" stroke="#000" stroke-width="0.28" stroke-opacity="0.55" >3</text>
<text x="328" y="353.5" font-size="10" text-anchor="middle" font-weight="normal" font-family="'Liberation Serif', 'Times New Roman', serif" stroke="#000" stroke-width="0.28" stroke-opacity="0.55" >4</text>
<text x="328" y="373.5" font-size="10" text-anchor="middle" font-weight="normal" font-family="'Liberation Serif', 'Times New Roman', serif" stroke="#000" stroke-width="0.28" stroke-opacity="0.55" >5</text>
<text x="392.8" y="330.4" font-size="10" text-anchor="middle" font-weight="normal" font-family="'Liberation Serif', 'Times New Roman', serif" stroke="#000" stroke-width="0.28" stroke-opacity="0.55" >8</text>
<text x="377" y="349.5" font-size="10" text-anchor="middle" font-weight="normal" font-family="'Liberation Serif', 'Times New Roman', serif" stroke="#000" stroke-width="0.28" stroke-opacity="0.55" >7</text>
<text x="388" y="369.8" font-size="10" text-anchor="middle" font-weight="normal" font-family="'Liberation Serif', 'Times New Roman', serif" stroke="#000" stroke-width="0.28" stroke-opacity="0.55" >6</text>
<text x="450.4" y="341.5" font-size="10" text-anchor="middle" font-weight="normal" font-family="'Liberation Serif', 'Times New Roman', serif" stroke="#000" stroke-width="0.28" stroke-opacity="0.55" >9</text>
<text x="516" y="350.1" font-size="10" text-anchor="middle" font-weight="normal" font-family="'Liberation Serif', 'Times New Roman', serif" stroke="#000" stroke-width="0.28" stroke-opacity="0.55" >10</text>
<text x="530" y="343.5" font-size="10" text-anchor="middle" font-weight="normal" font-family="'Liberation Serif', 'Times New Roman', serif" stroke="#000" stroke-width="0.28" stroke-opacity="0.55" >11</text>
<text x="569.6" y="350.1" font-size="10" text-anchor="middle" font-weight="normal" font-family="'Liberation Serif', 'Times New Roman', serif" stroke="#000" stroke-width="0.28" stroke-opacity="0.55" >12</text>
<text x="159.5" y="397.2" font-family="'Liberation Serif', 'Times New Roman', serif" font-size="13.5" stroke="#000" stroke-width="0.28" stroke-opacity="0.55">G<tspan font-size="7">3_1</tspan></text>
<text x="206.7" y="397.2" font-family="'Liberation Serif', 'Times New Roman', serif" font-size="13.5" stroke="#000" stroke-width="0.28" stroke-opacity="0.55">G<tspan font-size="7">3_2</tspan></text>
<text x="270" y="397.2" font-family="'Liberation Serif', 'Times New Roman', serif" font-size="13.5" stroke="#000" stroke-width="0.28" stroke-opacity="0.55">G<tspan font-size="7">4_1</tspan></text>
<text x="328" y="397.2" font-family="'Liberation Serif', 'Times New Roman', serif" font-size="13.5" stroke="#000" stroke-width="0.28" stroke-opacity="0.55">G<tspan font-size="7">4_2</tspan></text>
<text x="385.4" y="397.2" font-family="'Liberation Serif', 'Times New Roman', serif" font-size="13.5" stroke="#000" stroke-width="0.28" stroke-opacity="0.55">G<tspan font-size="7">4_3</tspan></text>
<text x="439.7" y="397.2" font-family="'Liberation Serif', 'Times New Roman', serif" font-size="13.5" stroke="#000" stroke-width="0.28" stroke-opacity="0.55">G<tspan font-size="7">4_4</tspan></text>
<text x="507" y="397.2" font-family="'Liberation Serif', 'Times New Roman', serif" font-size="13.5" stroke="#000" stroke-width="0.28" stroke-opacity="0.55">G<tspan font-size="7">4_5</tspan></text>
<text x="581" y="397.2" font-family="'Liberation Serif', 'Times New Roman', serif" font-size="13.5" stroke="#000" stroke-width="0.28" stroke-opacity="0.55">G<tspan font-size="7">4_6</tspan></text>
<line x1="82.4" y1="478.3" x2="108.3" y2="478.3" stroke="#dc1820" stroke-width="1.3" stroke-dasharray="3.2,1.7"/>
<line x1="94.2" y1="456" x2="108.3" y2="478.3" stroke="#1e1e1e" stroke-width="1.2" />
<circle cx="94.2" cy="456" r="5.15" fill="#fff" stroke="#1e1e1e" stroke-width="1.3"/>
<circle cx="82.4" cy="478.3" r="5.15" fill="#fdb300" stroke="#1e1e1e" stroke-width="1.3"/>
<circle cx="108.3" cy="478.3" r="5.15" fill="#fdb300" stroke="#1e1e1e" stroke-width="1.3"/>
<line x1="134.6" y1="477.4" x2="160.5" y2="477.4" stroke="#dc1820" stroke-width="1.3" stroke-dasharray="3.2,1.7"/>
<line x1="147.3" y1="455.3" x2="134.6" y2="477.4" stroke="#1e1e1e" stroke-width="1.2" />
<line x1="147.3" y1="455.3" x2="160.5" y2="477.4" stroke="#1e1e1e" stroke-width="1.2" />
<circle cx="147.3" cy="455.3" r="5.15" fill="#fff" stroke="#1e1e1e" stroke-width="1.3"/>
<circle cx="134.6" cy="477.4" r="5.15" fill="#fdb300" stroke="#1e1e1e" stroke-width="1.3"/>
<circle cx="160.5" cy="477.4" r="5.15" fill="#fdb300" stroke="#1e1e1e" stroke-width="1.3"/>
<line x1="188.6" y1="477.4" x2="212.5" y2="477.4" stroke="#dc1820" stroke-width="1.3" stroke-dasharray="3.2,1.7"/>
<line x1="188.6" y1="455.3" x2="188.6" y2="477.4" stroke="#1e1e1e" stroke-width="1.2" />
<line x1="212.5" y1="455.3" x2="188.6" y2="477.4" stroke="#1e1e1e" stroke-width="1.2" />
<circle cx="188.6" cy="455.3" r="5.15" fill="#fff" stroke="#1e1e1e" stroke-width="1.3"/>
<circle cx="212.5" cy="455.3" r="5.15" fill="#fff" stroke="#1e1e1e" stroke-width="1.3"/>
<circle cx="188.6" cy="477.4" r="5.15" fill="#fdb300" stroke="#1e1e1e" stroke-width="1.3"/>
<circle cx="212.5" cy="477.4" r="5.15" fill="#fdb300" stroke="#1e1e1e" stroke-width="1.3"/>
<line x1="244.3" y1="477.4" x2="268.2" y2="477.4" stroke="#dc1820" stroke-width="1.3" stroke-dasharray="3.2,1.7"/>
<line x1="244.3" y1="455.3" x2="244.3" y2="477.4" stroke="#1e1e1e" stroke-width="1.2" />
<line x1="268.2" y1="455.3" x2="268.2" y2="477.4" stroke="#1e1e1e" stroke-width="1.2" />
<circle cx="244.3" cy="455.3" r="5.15" fill="#fff" stroke="#1e1e1e" stroke-width="1.3"/>
<circle cx="268.2" cy="455.3" r="5.15" fill="#fff" stroke="#1e1e1e" stroke-width="1.3"/>
<circle cx="244.3" cy="477.4" r="5.15" fill="#fdb300" stroke="#1e1e1e" stroke-width="1.3"/>
<circle cx="268.2" cy="477.4" r="5.15" fill="#fdb300" stroke="#1e1e1e" stroke-width="1.3"/>
<line x1="294.7" y1="477.4" x2="319.1" y2="477.4" stroke="#dc1820" stroke-width="1.3" stroke-dasharray="3.2,1.7"/>
<line x1="294.7" y1="454.9" x2="294.7" y2="477.4" stroke="#1e1e1e" stroke-width="1.2" />
<line x1="319.1" y1="454.9" x2="319.1" y2="477.4" stroke="#1e1e1e" stroke-width="1.2" />
<line x1="319.1" y1="454.9" x2="294.7" y2="477.4" stroke="#1e1e1e" stroke-width="1.2" />
<circle cx="294.7" cy="454.9" r="5.15" fill="#fff" stroke="#1e1e1e" stroke-width="1.3"/>
<circle cx="319.1" cy="454.9" r="5.15" fill="#fff" stroke="#1e1e1e" stroke-width="1.3"/>
<circle cx="294.7" cy="477.4" r="5.15" fill="#fdb300" stroke="#1e1e1e" stroke-width="1.3"/>
<circle cx="319.1" cy="477.4" r="5.15" fill="#fdb300" stroke="#1e1e1e" stroke-width="1.3"/>
<line x1="351.6" y1="477.4" x2="376.6" y2="477.4" stroke="#dc1820" stroke-width="1.3" stroke-dasharray="3.2,1.7"/>
<line x1="351.6" y1="454.9" x2="351.6" y2="477.4" stroke="#1e1e1e" stroke-width="1.2" />
<line x1="376.6" y1="454.9" x2="376.6" y2="477.4" stroke="#1e1e1e" stroke-width="1.2" />
<line x1="376.6" y1="454.9" x2="351.6" y2="477.4" stroke="#1e1e1e" stroke-width="1.2" />
<line x1="351.6" y1="454.9" x2="376.6" y2="477.4" stroke="#1e1e1e" stroke-width="1.2" />
<circle cx="351.6" cy="454.9" r="5.15" fill="#fff" stroke="#1e1e1e" stroke-width="1.3"/>
<circle cx="376.6" cy="454.9" r="5.15" fill="#fff" stroke="#1e1e1e" stroke-width="1.3"/>
<circle cx="351.6" cy="477.4" r="5.15" fill="#fdb300" stroke="#1e1e1e" stroke-width="1.3"/>
<circle cx="376.6" cy="477.4" r="5.15" fill="#fdb300" stroke="#1e1e1e" stroke-width="1.3"/>
<line x1="407.7" y1="476" x2="432" y2="476" stroke="#dc1820" stroke-width="1.3" stroke-dasharray="3.2,1.7"/>
<line x1="407.7" y1="453.7" x2="432" y2="453.7" stroke="#1e1e1e" stroke-width="1.2" />
<line x1="407.7" y1="453.7" x2="407.7" y2="476" stroke="#1e1e1e" stroke-width="1.2" />
<circle cx="407.7" cy="453.7" r="5.15" fill="#fff" stroke="#1e1e1e" stroke-width="1.3"/>
<circle cx="432" cy="453.7" r="5.15" fill="#fff" stroke="#1e1e1e" stroke-width="1.3"/>
<circle cx="407.7" cy="476" r="5.15" fill="#fdb300" stroke="#1e1e1e" stroke-width="1.3"/>
<circle cx="432" cy="476" r="5.15" fill="#fdb300" stroke="#1e1e1e" stroke-width="1.3"/>
<line x1="460.8" y1="476" x2="485.1" y2="476" stroke="#dc1820" stroke-width="1.3" stroke-dasharray="3.2,1.7"/>
<line x1="460.8" y1="453.7" x2="485.1" y2="453.7" stroke="#1e1e1e" stroke-width="1.2" />
<line x1="460.8" y1="453.7" x2="460.8" y2="476" stroke="#1e1e1e" stroke-width="1.2" />
<line x1="485.1" y1="453.7" x2="460.8" y2="476" stroke="#1e1e1e" stroke-width="1.2" />
<circle cx="460.8" cy="453.7" r="5.15" fill="#fff" stroke="#1e1e1e" stroke-width="1.3"/>
<circle cx="485.1" cy="453.7" r="5.15" fill="#fff" stroke="#1e1e1e" stroke-width="1.3"/>
<circle cx="460.8" cy="476" r="5.15" fill="#fdb300" stroke="#1e1e1e" stroke-width="1.3"/>
<circle cx="485.1" cy="476" r="5.15" fill="#fdb300" stroke="#1e1e1e" stroke-width="1.3"/>
<line x1="514.9" y1="476" x2="539.7" y2="476" stroke="#dc1820" stroke-width="1.3" stroke-dasharray="3.2,1.7"/>
<line x1="514.9" y1="453.7" x2="539.7" y2="453.7" stroke="#1e1e1e" stroke-width="1.2" />
<line x1="539.7" y1="453.7" x2="539.7" y2="476" stroke="#1e1e1e" stroke-width="1.2" />
<line x1="539.7" y1="453.7" x2="514.9" y2="476" stroke="#1e1e1e" stroke-width="1.2" />
<circle cx="514.9" cy="453.7" r="5.15" fill="#fff" stroke="#1e1e1e" stroke-width="1.3"/>
<circle cx="539.7" cy="453.7" r="5.15" fill="#fff" stroke="#1e1e1e" stroke-width="1.3"/>
<circle cx="514.9" cy="476" r="5.15" fill="#fdb300" stroke="#1e1e1e" stroke-width="1.3"/>
<circle cx="539.7" cy="476" r="5.15" fill="#fdb300" stroke="#1e1e1e" stroke-width="1.3"/>
<line x1="565" y1="477.1" x2="589.8" y2="477.1" stroke="#dc1820" stroke-width="1.3" stroke-dasharray="3.2,1.7"/>
<line x1="565" y1="453.9" x2="589.8" y2="453.9" stroke="#1e1e1e" stroke-width="1.2" />
<line x1="565" y1="453.9" x2="565" y2="477.1" stroke="#1e1e1e" stroke-width="1.2" />
<line x1="589.8" y1="453.9" x2="589.8" y2="477.1" stroke="#1e1e1e" stroke-width="1.2" />
<circle cx="565" cy="453.9" r="5.15" fill="#fff" stroke="#1e1e1e" stroke-width="1.3"/>
<circle cx="589.8" cy="453.9" r="5.15" fill="#fff" stroke="#1e1e1e" stroke-width="1.3"/>
<circle cx="565" cy="477.1" r="5.15" fill="#fdb300" stroke="#1e1e1e" stroke-width="1.3"/>
<circle cx="589.8" cy="477.1" r="5.15" fill="#fdb300" stroke="#1e1e1e" stroke-width="1.3"/>
<line x1="620.7" y1="475.3" x2="645.7" y2="475.3" stroke="#dc1820" stroke-width="1.3" stroke-dasharray="3.2,1.7"/>
<line x1="620.7" y1="452.1" x2="645.7" y2="452.1" stroke="#1e1e1e" stroke-width="1.2" />
<line x1="620.7" y1="452.1" x2="620.7" y2="475.3" stroke="#1e1e1e" stroke-width="1.2" />
<line x1="645.7" y1="452.1" x2="645.7" y2="475.3" stroke="#1e1e1e" stroke-width="1.2" />
<line x1="645.7" y1="452.1" x2="620.7" y2="475.3" stroke="#1e1e1e" stroke-width="1.2" />
<circle cx="620.7" cy="452.1" r="5.15" fill="#fff" stroke="#1e1e1e" stroke-width="1.3"/>
<circle cx="645.7" cy="452.1" r="5.15" fill="#fff" stroke="#1e1e1e" stroke-width="1.3"/>
<circle cx="620.7" cy="475.3" r="5.15" fill="#fdb300" stroke="#1e1e1e" stroke-width="1.3"/>
<circle cx="645.7" cy="475.3" r="5.15" fill="#fdb300" stroke="#1e1e1e" stroke-width="1.3"/>
<line x1="673.8" y1="475.3" x2="698.8" y2="475.3" stroke="#dc1820" stroke-width="1.3" stroke-dasharray="3.2,1.7"/>
<line x1="673.8" y1="452.1" x2="698.8" y2="452.1" stroke="#1e1e1e" stroke-width="1.2" />
<line x1="673.8" y1="452.1" x2="673.8" y2="475.3" stroke="#1e1e1e" stroke-width="1.2" />
<line x1="698.8" y1="452.1" x2="698.8" y2="475.3" stroke="#1e1e1e" stroke-width="1.2" />
<line x1="698.8" y1="452.1" x2="673.8" y2="475.3" stroke="#1e1e1e" stroke-width="1.2" />
<line x1="673.8" y1="452.1" x2="698.8" y2="475.3" stroke="#1e1e1e" stroke-width="1.2" />
<circle cx="673.8" cy="452.1" r="5.15" fill="#fff" stroke="#1e1e1e" stroke-width="1.3"/>
<circle cx="698.8" cy="452.1" r="5.15" fill="#fff" stroke="#1e1e1e" stroke-width="1.3"/>
<circle cx="673.8" cy="475.3" r="5.15" fill="#fdb300" stroke="#1e1e1e" stroke-width="1.3"/>
<circle cx="698.8" cy="475.3" r="5.15" fill="#fdb300" stroke="#1e1e1e" stroke-width="1.3"/>
<text x="95.2" y="498" font-size="13.6" text-anchor="middle" font-weight="normal" font-family="'Liberation Serif', 'Times New Roman', serif" stroke="#000" stroke-width="0.28" stroke-opacity="0.55" >M1</text>
<text x="149.3" y="498" font-size="13.6" text-anchor="middle" font-weight="normal" font-family="'Liberation Serif', 'Times New Roman', serif" stroke="#000" stroke-width="0.28" stroke-opacity="0.55" >M2</text>
<text x="202.9" y="498" font-size="13.6" text-anchor="middle" font-weight="normal" font-family="'Liberation Serif', 'Times New Roman', serif" stroke="#000" stroke-width="0.28" stroke-opacity="0.55" >M3</text>
<text x="258.2" y="498.4" font-size="13.6" text-anchor="middle" font-weight="normal" font-family="'Liberation Serif', 'Times New Roman', serif" stroke="#000" stroke-width="0.28" stroke-opacity="0.55" >M4</text>
<text x="308" y="498.4" font-size="13.6" text-anchor="middle" font-weight="normal" font-family="'Liberation Serif', 'Times New Roman', serif" stroke="#000" stroke-width="0.28" stroke-opacity="0.55" >M8</text>
<text x="364.4" y="498.4" font-size="13.6" text-anchor="middle" font-weight="normal" font-family="'Liberation Serif', 'Times New Roman', serif" stroke="#000" stroke-width="0.28" stroke-opacity="0.55" >M10</text>
<text x="420" y="498.2" font-size="13.6" text-anchor="middle" font-weight="normal" font-family="'Liberation Serif', 'Times New Roman', serif" stroke="#000" stroke-width="0.28" stroke-opacity="0.55" >M5</text>
<text x="472.9" y="498.2" font-size="13.6" text-anchor="middle" font-weight="normal" font-family="'Liberation Serif', 'Times New Roman', serif" stroke="#000" stroke-width="0.28" stroke-opacity="0.55" >M6</text>
<text x="527.8" y="498.2" font-size="13.6" text-anchor="middle" font-weight="normal" font-family="'Liberation Serif', 'Times New Roman', serif" stroke="#000" stroke-width="0.28" stroke-opacity="0.55" >M7</text>
<text x="580" y="497.2" font-size="13.6" text-anchor="middle" font-weight="normal" font-family="'Liberation Serif', 'Times New Roman', serif" stroke="#000" stroke-width="0.28" stroke-opacity="0.55" >M9</text>
<text x="631.6" y="495.9" font-size="13.6" text-anchor="middle" font-weight="normal" font-family="'Liberation Serif', 'Times New Roman', serif" stroke="#000" stroke-width="0.28" stroke-opacity="0.55" >M11</text>
<text x="686.4" y="495.9" font-size="13.6" text-anchor="middle" font-weight="normal" font-family="'Liberation Serif', 'Times New Roman', serif" stroke="#000" stroke-width="0.28" stroke-opacity="0.55" >M12</text>
<path d="M95.50,700.28 L95.50,700.28 L95.49,699.31 L95.45,698.33 L95.40,697.36 L95.34,696.39 L95.30,695.80 L95.27,695.42 L95.18,694.45 L95.05,693.47 L94.90,692.50 L94.72,691.53 L94.52,690.56 L94.40,690.04 L94.28,689.59 L93.93,688.62 L93.50,687.64 L93.02,686.67 L92.54,685.70 L92.11,684.73 L92.00,684.44 L91.74,683.76 L91.36,682.78 L90.99,681.81 L90.65,680.84 L90.35,679.87 L90.12,678.90 L90.10,678.76 L89.95,677.92 L89.78,676.95 L89.63,675.98 L89.51,675.01 L89.43,674.04 L89.40,673.09 L89.40,673.06 L89.43,672.09 L89.52,671.12 L89.63,670.15 L89.75,669.18 L89.80,668.75 L89.86,668.20 L89.98,667.23 L90.10,666.26 L90.23,665.29 L90.37,664.32 L90.52,663.34 L90.68,662.37 L90.80,661.66 L90.85,661.40 L91.03,660.43 L91.24,659.46 L91.47,658.49 L91.70,657.51 L91.94,656.54 L92.18,655.57 L92.40,654.64 L92.41,654.60 L92.65,653.63 L92.92,652.65 L93.19,651.68 L93.45,650.71 L93.70,649.74 L93.91,648.77 L94.07,647.79 L94.10,647.54 L94.18,646.82 L94.28,645.85 L94.36,644.88 L94.44,643.91 L94.50,642.93 L94.57,641.96 L94.62,640.99 L94.65,640.52 L94.68,640.02 L94.73,639.05 L94.78,638.07 L94.83,637.10 L94.88,636.13 L94.92,635.16 L94.97,634.19 L95.01,633.21 L95.05,632.24 L95.08,631.27 L95.12,630.30 L95.15,629.33 L95.18,628.35 L95.20,627.67 L95.21,627.38 L95.24,626.41 L95.26,625.44 L95.29,624.47 L95.31,623.50 L95.34,622.52 L95.36,621.55 L95.38,620.58 L95.41,619.61 L95.43,618.64 L95.44,617.66 L95.46,616.69 L95.48,615.72 L95.49,614.75 L95.50,613.78 L95.50,613.78 Z" fill="#2f7ed3" stroke="#2b3034" stroke-width="1.0" stroke-linejoin="round"/>
<path d="M95.50,700.28 L95.50,700.28 L95.51,699.31 L95.55,698.33 L95.61,697.36 L95.70,696.39 L95.70,696.39 L96.35,695.42 L96.90,694.90 L97.48,694.45 L99.22,693.47 L101.05,692.50 L101.90,691.91 L102.36,691.53 L103.40,690.56 L103.60,690.04 L103.60,689.59 L103.56,688.62 L103.51,687.64 L103.50,687.43 L103.45,686.67 L103.37,685.70 L103.27,684.73 L103.15,683.76 L103.01,682.78 L102.85,681.81 L102.67,680.84 L102.50,679.96 L102.48,679.87 L102.21,678.90 L101.84,677.92 L101.42,676.95 L100.99,675.98 L100.60,675.01 L100.50,674.73 L100.26,674.04 L99.93,673.06 L99.61,672.09 L99.30,671.12 L99.00,670.15 L98.72,669.18 L98.60,668.75 L98.45,668.20 L98.20,667.23 L97.97,666.26 L97.74,665.29 L97.52,664.32 L97.30,663.34 L97.07,662.37 L96.90,661.66 L96.84,661.40 L96.57,660.43 L96.30,659.46 L96.06,658.49 L95.90,657.55 L95.90,657.51 L95.78,656.54 L95.69,655.57 L95.62,654.60 L95.60,653.82 L95.60,653.63 L95.59,652.65 L95.59,651.68 L95.58,650.71 L95.58,649.74 L95.57,648.77 L95.57,647.79 L95.56,646.82 L95.56,645.85 L95.55,644.88 L95.55,643.91 L95.54,642.93 L95.54,641.96 L95.54,640.99 L95.53,640.02 L95.53,639.05 L95.53,638.07 L95.53,637.10 L95.52,636.13 L95.52,635.16 L95.52,634.19 L95.52,633.21 L95.51,632.24 L95.51,631.27 L95.51,630.30 L95.51,629.33 L95.51,628.35 L95.51,627.38 L95.51,626.41 L95.50,625.44 L95.50,624.47 L95.50,623.50 L95.50,622.52 L95.50,621.55 L95.50,620.58 L95.50,619.61 L95.50,618.64 L95.50,617.66 L95.50,616.69 L95.50,615.72 L95.50,614.75 L95.50,613.78 L95.50,613.78 Z" fill="#e8710a" stroke="#2b3034" stroke-width="1.0" stroke-linejoin="round"/>
<line x1="95.50" y1="707.90" x2="95.50" y2="710.50" stroke="#222" stroke-width="1.0"/>
<text transform="translate(95.50,719.98) rotate(45)" font-family="'Liberation Serif', 'Times New Roman', serif" font-size="10.2" text-anchor="middle" dominant-baseline="central" stroke="#000" stroke-width="0.28" stroke-opacity="0.55">N1</text>
<path d="M115.50,699.76 L115.50,699.76 L115.42,698.84 L115.22,697.92 L115.00,697.14 L114.95,697.00 L114.30,696.08 L113.61,695.16 L113.50,694.90 L113.30,694.24 L113.06,693.32 L112.92,692.40 L112.90,691.91 L112.94,691.48 L113.26,690.56 L113.71,689.65 L114.00,688.92 L114.06,688.73 L114.37,687.81 L114.67,686.89 L114.93,685.97 L115.13,685.05 L115.20,684.44 L115.22,684.13 L115.29,683.21 L115.34,682.29 L115.37,681.37 L115.40,680.46 L115.40,679.96 L115.40,679.54 L115.41,678.62 L115.41,677.70 L115.41,676.78 L115.42,675.86 L115.42,674.94 L115.42,674.02 L115.43,673.10 L115.43,672.18 L115.43,671.26 L115.44,670.35 L115.44,669.43 L115.44,668.51 L115.44,667.59 L115.45,666.67 L115.45,665.75 L115.45,664.83 L115.45,663.91 L115.46,662.99 L115.46,662.07 L115.46,661.15 L115.46,660.24 L115.46,659.32 L115.47,658.40 L115.47,657.48 L115.47,656.56 L115.47,655.64 L115.47,654.72 L115.48,653.80 L115.48,652.88 L115.48,651.96 L115.48,651.05 L115.48,650.13 L115.48,649.21 L115.48,648.29 L115.49,647.37 L115.49,646.45 L115.49,645.53 L115.49,644.61 L115.49,643.69 L115.49,642.77 L115.49,641.85 L115.49,640.94 L115.49,640.02 L115.49,639.10 L115.49,638.18 L115.49,637.26 L115.50,636.34 L115.50,635.42 L115.50,634.50 L115.50,633.58 L115.50,632.66 L115.50,631.74 L115.50,630.83 L115.50,629.91 L115.50,628.99 L115.50,628.07 L115.50,627.15 L115.50,626.23 L115.50,625.31 L115.50,624.39 L115.50,623.47 L115.50,622.55 L115.50,621.64 L115.50,620.72 L115.50,619.80 L115.50,618.88 L115.50,617.96 L115.50,617.96 Z" fill="#2f7ed3" stroke="#2b3034" stroke-width="1.0" stroke-linejoin="round"/>
<path d="M115.50,699.76 L115.50,699.76 L115.59,698.84 L115.87,697.92 L116.35,697.00 L116.50,696.77 L118.61,696.08 L120.50,695.65 L123.04,695.16 L123.70,694.90 L121.74,694.24 L121.50,694.15 L119.67,693.32 L118.06,692.40 L117.50,691.91 L117.14,691.48 L116.50,690.56 L116.03,689.65 L115.80,688.92 L115.75,688.73 L115.57,687.81 L115.55,687.43 L115.55,686.89 L115.55,685.97 L115.55,685.05 L115.54,684.13 L115.54,683.21 L115.54,682.29 L115.54,681.37 L115.54,680.46 L115.54,679.54 L115.53,678.62 L115.53,677.70 L115.53,676.78 L115.53,675.86 L115.53,674.94 L115.53,674.02 L115.53,673.10 L115.52,672.18 L115.52,671.26 L115.52,670.35 L115.52,669.43 L115.52,668.51 L115.52,667.59 L115.52,666.67 L115.52,665.75 L115.52,664.83 L115.52,663.91 L115.51,662.99 L115.51,662.07 L115.51,661.15 L115.51,660.24 L115.51,659.32 L115.51,658.40 L115.51,657.48 L115.51,656.56 L115.51,655.64 L115.51,654.72 L115.51,653.80 L115.51,652.88 L115.51,651.96 L115.51,651.05 L115.51,650.13 L115.51,649.21 L115.50,648.29 L115.50,647.37 L115.50,646.45 L115.50,645.53 L115.50,644.61 L115.50,643.69 L115.50,642.77 L115.50,641.85 L115.50,640.94 L115.50,640.02 L115.50,639.10 L115.50,638.18 L115.50,637.26 L115.50,636.34 L115.50,635.42 L115.50,634.50 L115.50,633.58 L115.50,632.66 L115.50,631.74 L115.50,630.83 L115.50,629.91 L115.50,628.99 L115.50,628.07 L115.50,627.15 L115.50,626.23 L115.50,625.31 L115.50,624.39 L115.50,623.47 L115.50,622.55 L115.50,621.64 L115.50,620.72 L115.50,619.80 L115.50,618.88 L115.50,617.96 L115.50,617.96 Z" fill="#e8710a" stroke="#2b3034" stroke-width="1.0" stroke-linejoin="round"/>
<line x1="115.50" y1="707.90" x2="115.50" y2="710.50" stroke="#222" stroke-width="1.0"/>
<text transform="translate(115.50,719.98) rotate(45)" font-family="'Liberation Serif', 'Times New Roman', serif" font-size="10.2" text-anchor="middle" dominant-baseline="central" stroke="#000" stroke-width="0.28" stroke-opacity="0.55">N2</text>
<path d="M135.50,699.38 L135.50,699.38 L135.49,698.42 L135.47,697.46 L135.44,696.50 L135.40,695.65 L135.39,695.53 L135.32,694.57 L135.20,693.61 L135.10,692.88 L135.07,692.65 L134.89,691.69 L134.68,690.73 L134.44,689.76 L134.18,688.80 L133.91,687.84 L133.65,686.88 L133.40,685.94 L133.39,685.92 L133.14,684.95 L132.87,683.99 L132.60,683.03 L132.33,682.07 L132.06,681.11 L131.82,680.14 L131.59,679.18 L131.50,678.76 L131.39,678.22 L131.21,677.26 L131.04,676.30 L130.88,675.34 L130.72,674.37 L130.57,673.41 L130.42,672.45 L130.30,671.74 L130.26,671.49 L130.10,670.53 L129.94,669.56 L129.78,668.60 L129.62,667.64 L129.47,666.68 L129.32,665.72 L129.17,664.75 L129.10,664.27 L129.03,663.79 L128.86,662.83 L128.69,661.87 L128.54,660.91 L128.44,659.95 L128.40,659.04 L128.40,658.98 L128.46,658.02 L128.59,657.06 L128.78,656.10 L128.98,655.14 L129.10,654.56 L129.18,654.17 L129.41,653.21 L129.67,652.25 L129.96,651.29 L130.27,650.33 L130.59,649.36 L130.91,648.40 L131.20,647.54 L131.23,647.44 L131.58,646.48 L131.97,645.52 L132.38,644.56 L132.79,643.59 L133.16,642.63 L133.49,641.67 L133.74,640.71 L133.80,640.37 L133.90,639.75 L134.05,638.78 L134.19,637.82 L134.31,636.86 L134.42,635.90 L134.52,634.94 L134.62,633.98 L134.70,633.01 L134.78,632.05 L134.86,631.09 L134.93,630.13 L135.00,629.17 L135.00,629.16 L135.07,628.20 L135.13,627.24 L135.19,626.28 L135.24,625.32 L135.29,624.36 L135.30,623.94 L135.32,623.39 L135.35,622.43 L135.37,621.47 L135.40,620.51 L135.42,619.55 L135.45,618.59 L135.46,617.62 L135.48,616.66 L135.49,615.70 L135.50,614.74 L135.50,613.78 L135.50,613.78 Z" fill="#2f7ed3" stroke="#2b3034" stroke-width="1.0" stroke-linejoin="round"/>
<path d="M135.50,699.38 L135.50,699.38 L135.51,698.42 L135.54,697.46 L135.59,696.50 L135.67,695.53 L135.76,694.57 L135.87,693.61 L135.90,693.41 L136.19,692.65 L136.93,691.69 L137.80,690.73 L138.30,690.04 L138.47,689.76 L139.06,688.80 L139.64,687.84 L140.18,686.88 L140.65,685.92 L141.04,684.95 L141.20,684.44 L141.32,683.99 L141.55,683.03 L141.75,682.07 L141.92,681.11 L142.08,680.14 L142.23,679.18 L142.30,678.76 L142.39,678.22 L142.57,677.26 L142.76,676.30 L142.93,675.34 L143.09,674.37 L143.21,673.41 L143.28,672.45 L143.30,671.74 L143.29,671.49 L143.12,670.53 L142.84,669.56 L142.60,668.75 L142.56,668.60 L142.30,667.64 L142.03,666.68 L141.74,665.72 L141.45,664.75 L141.16,663.79 L140.86,662.83 L140.56,661.87 L140.50,661.66 L140.27,660.91 L139.95,659.95 L139.64,658.98 L139.32,658.02 L139.01,657.06 L138.71,656.10 L138.45,655.14 L138.30,654.56 L138.21,654.17 L137.99,653.21 L137.78,652.25 L137.59,651.29 L137.40,650.33 L137.22,649.36 L137.05,648.40 L136.90,647.54 L136.88,647.44 L136.71,646.48 L136.53,645.52 L136.35,644.56 L136.19,643.59 L136.04,642.63 L135.91,641.67 L135.82,640.71 L135.80,640.37 L135.76,639.75 L135.71,638.78 L135.67,637.82 L135.64,636.86 L135.61,635.90 L135.60,635.14 L135.60,634.94 L135.59,633.98 L135.58,633.01 L135.57,632.05 L135.56,631.09 L135.56,630.13 L135.55,629.17 L135.54,628.20 L135.54,627.24 L135.53,626.28 L135.53,625.32 L135.52,624.36 L135.52,623.39 L135.52,622.43 L135.51,621.47 L135.51,620.51 L135.51,619.55 L135.50,618.59 L135.50,617.62 L135.50,616.66 L135.50,615.70 L135.50,614.74 L135.50,613.78 L135.50,613.78 Z" fill="#e8710a" stroke="#2b3034" stroke-width="1.0" stroke-linejoin="round"/>
<line x1="135.50" y1="707.90" x2="135.50" y2="710.50" stroke="#222" stroke-width="1.0"/>
<text transform="translate(135.50,719.98) rotate(45)" font-family="'Liberation Serif', 'Times New Roman', serif" font-size="10.2" text-anchor="middle" dominant-baseline="central" stroke="#000" stroke-width="0.28" stroke-opacity="0.55">N3</text>
<path d="M155.50,701.62 L155.50,701.62 L155.49,700.64 L155.46,699.65 L155.41,698.66 L155.33,697.67 L155.23,696.69 L155.11,695.70 L155.10,695.65 L154.52,694.71 L153.59,693.73 L153.40,693.41 L153.11,692.74 L152.72,691.75 L152.46,690.77 L152.40,690.04 L152.40,689.78 L152.49,688.79 L152.66,687.80 L152.88,686.82 L153.12,685.83 L153.33,684.84 L153.40,684.44 L153.50,683.86 L153.67,682.87 L153.84,681.88 L154.01,680.90 L154.17,679.91 L154.32,678.92 L154.46,677.93 L154.58,676.95 L154.65,676.23 L154.67,675.96 L154.76,674.97 L154.85,673.99 L154.94,673.00 L155.02,672.01 L155.10,671.02 L155.17,670.04 L155.23,669.05 L155.29,668.06 L155.33,667.08 L155.37,666.09 L155.39,665.10 L155.40,664.27 L155.40,664.12 L155.41,663.13 L155.41,662.14 L155.41,661.15 L155.42,660.17 L155.42,659.18 L155.43,658.19 L155.43,657.21 L155.43,656.22 L155.44,655.23 L155.44,654.24 L155.44,653.26 L155.45,652.27 L155.45,651.28 L155.45,650.30 L155.46,649.31 L155.46,648.32 L155.46,647.34 L155.46,646.35 L155.47,645.36 L155.47,644.37 L155.47,643.39 L155.47,642.40 L155.48,641.41 L155.48,640.43 L155.48,639.44 L155.48,638.45 L155.48,637.46 L155.48,636.48 L155.49,635.49 L155.49,634.50 L155.49,633.52 L155.49,632.53 L155.49,631.54 L155.49,630.56 L155.49,629.57 L155.49,628.58 L155.49,627.59 L155.50,626.61 L155.50,625.62 L155.50,624.63 L155.50,623.65 L155.50,622.66 L155.50,621.67 L155.50,620.69 L155.50,619.70 L155.50,618.71 L155.50,617.72 L155.50,616.74 L155.50,615.75 L155.50,614.76 L155.50,613.78 L155.50,613.78 Z" fill="#2f7ed3" stroke="#2b3034" stroke-width="1.0" stroke-linejoin="round"/>
<path d="M155.50,701.62 L155.50,701.62 L155.50,700.64 L155.52,699.65 L155.55,698.66 L155.60,697.67 L155.67,696.69 L155.70,696.39 L156.47,695.70 L158.30,694.90 L158.87,694.71 L163.19,693.73 L163.70,693.41 L163.52,692.74 L162.77,691.75 L161.80,690.77 L161.20,690.04 L161.01,689.78 L160.30,688.79 L159.57,687.80 L158.88,686.82 L158.26,685.83 L157.76,684.84 L157.60,684.44 L157.39,683.86 L157.04,682.87 L156.70,681.88 L156.39,680.90 L156.12,679.91 L155.89,678.92 L155.73,677.93 L155.63,676.95 L155.60,676.23 L155.60,675.96 L155.59,674.97 L155.59,673.99 L155.59,673.00 L155.58,672.01 L155.58,671.02 L155.58,670.04 L155.57,669.05 L155.57,668.06 L155.57,667.08 L155.56,666.09 L155.56,665.10 L155.56,664.12 L155.55,663.13 L155.55,662.14 L155.55,661.15 L155.55,660.17 L155.54,659.18 L155.54,658.19 L155.54,657.21 L155.54,656.22 L155.53,655.23 L155.53,654.24 L155.53,653.26 L155.53,652.27 L155.53,651.28 L155.52,650.30 L155.52,649.31 L155.52,648.32 L155.52,647.34 L155.52,646.35 L155.52,645.36 L155.52,644.37 L155.51,643.39 L155.51,642.40 L155.51,641.41 L155.51,640.43 L155.51,639.44 L155.51,638.45 L155.51,637.46 L155.51,636.48 L155.51,635.49 L155.51,634.50 L155.51,633.52 L155.50,632.53 L155.50,631.54 L155.50,630.56 L155.50,629.57 L155.50,628.58 L155.50,627.59 L155.50,626.61 L155.50,625.62 L155.50,624.63 L155.50,623.65 L155.50,622.66 L155.50,621.67 L155.50,620.69 L155.50,619.70 L155.50,618.71 L155.50,617.72 L155.50,616.74 L155.50,615.75 L155.50,614.76 L155.50,613.78 L155.50,613.78 Z" fill="#e8710a" stroke="#2b3034" stroke-width="1.0" stroke-linejoin="round"/>
<line x1="155.50" y1="707.90" x2="155.50" y2="710.50" stroke="#222" stroke-width="1.0"/>
<text transform="translate(155.50,719.98) rotate(45)" font-family="'Liberation Serif', 'Times New Roman', serif" font-size="10.2" text-anchor="middle" dominant-baseline="central" stroke="#000" stroke-width="0.28" stroke-opacity="0.55">N4</text>
<path d="M175.50,697.14 L175.50,697.14 L174.75,696.27 L174.50,696.02 L173.48,695.39 L173.00,694.90 L173.07,694.51 L173.58,693.64 L174.00,693.03 L174.20,692.76 L175.04,691.89 L175.40,691.16 L175.40,691.01 L175.40,690.14 L175.41,689.26 L175.41,688.39 L175.41,687.51 L175.42,686.64 L175.42,685.76 L175.42,684.89 L175.43,684.01 L175.43,683.13 L175.43,682.26 L175.43,681.38 L175.44,680.51 L175.44,679.63 L175.44,678.76 L175.44,677.88 L175.45,677.01 L175.45,676.13 L175.45,675.26 L175.45,674.38 L175.46,673.50 L175.46,672.63 L175.46,671.75 L175.46,670.88 L175.46,670.00 L175.47,669.13 L175.47,668.25 L175.47,667.38 L175.47,666.50 L175.47,665.63 L175.47,664.75 L175.47,663.88 L175.48,663.00 L175.48,662.12 L175.48,661.25 L175.48,660.37 L175.48,659.50 L175.48,658.62 L175.48,657.75 L175.48,656.87 L175.49,656.00 L175.49,655.12 L175.49,654.25 L175.49,653.37 L175.49,652.49 L175.49,651.62 L175.49,650.74 L175.49,649.87 L175.49,648.99 L175.49,648.12 L175.49,647.24 L175.49,646.37 L175.49,645.49 L175.49,644.62 L175.50,643.74 L175.50,642.87 L175.50,641.99 L175.50,641.11 L175.50,640.24 L175.50,639.36 L175.50,638.49 L175.50,637.61 L175.50,636.74 L175.50,635.86 L175.50,634.99 L175.50,634.11 L175.50,633.24 L175.50,632.36 L175.50,631.48 L175.50,630.61 L175.50,629.73 L175.50,628.86 L175.50,627.98 L175.50,627.11 L175.50,626.23 L175.50,625.36 L175.50,624.48 L175.50,623.61 L175.50,622.73 L175.50,621.86 L175.50,620.98 L175.50,620.10 L175.50,619.23 L175.50,619.23 Z" fill="#2f7ed3" stroke="#2b3034" stroke-width="1.0" stroke-linejoin="round"/>
<path d="M175.50,697.14 L175.50,697.14 L175.68,696.27 L175.80,696.02 L178.50,695.50 L179.43,695.39 L183.90,694.90 L180.50,694.51 L178.50,694.30 L175.87,693.64 L175.60,693.41 L175.60,692.76 L175.59,691.89 L175.59,691.01 L175.59,690.14 L175.58,689.26 L175.58,688.39 L175.58,687.51 L175.58,686.64 L175.57,685.76 L175.57,684.89 L175.57,684.01 L175.56,683.13 L175.56,682.26 L175.56,681.38 L175.56,680.51 L175.55,679.63 L175.55,678.76 L175.55,677.88 L175.55,677.01 L175.55,676.13 L175.54,675.26 L175.54,674.38 L175.54,673.50 L175.54,672.63 L175.54,671.75 L175.53,670.88 L175.53,670.00 L175.53,669.13 L175.53,668.25 L175.53,667.38 L175.53,666.50 L175.53,665.63 L175.52,664.75 L175.52,663.88 L175.52,663.00 L175.52,662.12 L175.52,661.25 L175.52,660.37 L175.52,659.50 L175.52,658.62 L175.51,657.75 L175.51,656.87 L175.51,656.00 L175.51,655.12 L175.51,654.25 L175.51,653.37 L175.51,652.49 L175.51,651.62 L175.51,650.74 L175.51,649.87 L175.51,648.99 L175.51,648.12 L175.51,647.24 L175.51,646.37 L175.50,645.49 L175.50,644.62 L175.50,643.74 L175.50,642.87 L175.50,641.99 L175.50,641.11 L175.50,640.24 L175.50,639.36 L175.50,638.49 L175.50,637.61 L175.50,636.74 L175.50,635.86 L175.50,634.99 L175.50,634.11 L175.50,633.24 L175.50,632.36 L175.50,631.48 L175.50,630.61 L175.50,629.73 L175.50,628.86 L175.50,627.98 L175.50,627.11 L175.50,626.23 L175.50,625.36 L175.50,624.48 L175.50,623.61 L175.50,622.73 L175.50,621.86 L175.50,620.98 L175.50,620.10 L175.50,619.23 L175.50,619.23 Z" fill="#e8710a" stroke="#2b3034" stroke-width="1.0" stroke-linejoin="round"/>
<line x1="175.50" y1="707.90" x2="175.50" y2="710.50" stroke="#222" stroke-width="1.0"/>
<text transform="translate(175.50,719.98) rotate(45)" font-family="'Liberation Serif', 'Times New Roman', serif" font-size="10.2" text-anchor="middle" dominant-baseline="central" stroke="#000" stroke-width="0.28" stroke-opacity="0.55">N5</text>
<path d="M195.50,699.38 L195.50,699.38 L195.48,698.44 L195.44,697.50 L195.37,696.56 L195.28,695.62 L195.20,694.90 L195.17,694.68 L194.89,693.74 L194.47,692.80 L194.00,691.86 L193.80,691.46 L193.52,690.92 L192.95,689.98 L192.33,689.04 L191.70,688.10 L191.11,687.16 L190.62,686.22 L190.50,685.94 L190.24,685.28 L189.86,684.34 L189.51,683.40 L189.20,682.46 L188.95,681.52 L188.77,680.58 L188.70,679.96 L188.68,679.64 L188.61,678.70 L188.55,677.76 L188.49,676.82 L188.45,675.88 L188.42,674.94 L188.40,674.00 L188.40,673.24 L188.40,673.06 L188.45,672.12 L188.56,671.18 L188.72,670.24 L188.92,669.30 L189.15,668.36 L189.38,667.42 L189.62,666.48 L189.80,665.77 L189.86,665.54 L190.11,664.60 L190.40,663.66 L190.72,662.72 L191.05,661.78 L191.38,660.84 L191.71,659.90 L192.00,659.04 L192.03,658.96 L192.35,658.02 L192.71,657.08 L193.07,656.14 L193.42,655.20 L193.75,654.26 L194.03,653.32 L194.26,652.38 L194.40,651.57 L194.42,651.44 L194.54,650.50 L194.65,649.56 L194.76,648.62 L194.86,647.68 L194.95,646.74 L195.03,645.80 L195.10,644.86 L195.16,643.92 L195.21,642.98 L195.25,642.04 L195.28,641.10 L195.30,640.37 L195.30,640.16 L195.32,639.22 L195.33,638.28 L195.35,637.34 L195.36,636.40 L195.37,635.46 L195.38,634.52 L195.40,633.58 L195.41,632.64 L195.42,631.70 L195.43,630.76 L195.44,629.82 L195.44,628.88 L195.45,627.94 L195.46,627.00 L195.47,626.06 L195.47,625.12 L195.48,624.18 L195.48,623.24 L195.49,622.30 L195.49,621.36 L195.49,620.42 L195.50,619.48 L195.50,618.54 L195.50,617.60 L195.50,616.66 L195.50,615.72 L195.50,615.72 Z" fill="#2f7ed3" stroke="#2b3034" stroke-width="1.0" stroke-linejoin="round"/>
<path d="M195.50,699.38 L195.50,699.38 L195.52,698.44 L195.57,697.50 L195.66,696.56 L195.77,695.62 L195.91,694.68 L196.00,694.15 L196.11,693.74 L196.63,692.80 L197.39,691.86 L198.24,690.92 L199.00,690.04 L199.05,689.98 L199.94,689.04 L200.94,688.10 L201.86,687.16 L202.49,686.22 L202.60,685.94 L202.79,685.28 L203.03,684.34 L203.23,683.40 L203.40,682.46 L203.52,681.52 L203.59,680.58 L203.60,679.96 L203.59,679.64 L203.44,678.70 L203.15,677.76 L202.77,676.82 L202.34,675.88 L201.89,674.94 L201.48,674.00 L201.20,673.24 L201.14,673.06 L200.85,672.12 L200.56,671.18 L200.28,670.24 L200.00,669.30 L199.73,668.36 L199.46,667.42 L199.20,666.48 L199.00,665.77 L198.94,665.54 L198.66,664.60 L198.39,663.66 L198.11,662.72 L197.85,661.78 L197.60,660.84 L197.38,659.90 L197.20,659.04 L197.18,658.96 L197.00,658.02 L196.82,657.08 L196.64,656.14 L196.47,655.20 L196.30,654.26 L196.14,653.32 L196.00,652.38 L195.87,651.44 L195.77,650.50 L195.69,649.56 L195.63,648.62 L195.60,647.68 L195.60,647.54 L195.59,646.74 L195.59,645.80 L195.58,644.86 L195.58,643.92 L195.57,642.98 L195.56,642.04 L195.56,641.10 L195.55,640.16 L195.55,639.22 L195.55,638.28 L195.54,637.34 L195.54,636.40 L195.53,635.46 L195.53,634.52 L195.53,633.58 L195.52,632.64 L195.52,631.70 L195.52,630.76 L195.52,629.82 L195.51,628.88 L195.51,627.94 L195.51,627.00 L195.51,626.06 L195.51,625.12 L195.51,624.18 L195.50,623.24 L195.50,622.30 L195.50,621.36 L195.50,620.42 L195.50,619.48 L195.50,618.54 L195.50,617.60 L195.50,616.66 L195.50,615.72 L195.50,615.72 Z" fill="#e8710a" stroke="#2b3034" stroke-width="1.0" stroke-linejoin="round"/>
<line x1="195.50" y1="707.90" x2="195.50" y2="710.50" stroke="#222" stroke-width="1.0"/>
<text transform="translate(195.50,719.98) rotate(45)" font-family="'Liberation Serif', 'Times New Roman', serif" font-size="10.2" text-anchor="middle" dominant-baseline="central" stroke="#000" stroke-width="0.28" stroke-opacity="0.55">N6</text>
<path d="M215.50,700.88 L215.50,700.88 L215.50,699.91 L215.50,698.95 L215.50,697.98 L215.50,697.02 L215.50,696.05 L215.49,695.08 L215.49,694.12 L215.49,693.15 L215.49,692.19 L215.49,691.22 L215.48,690.26 L215.48,689.29 L215.47,688.33 L215.47,687.36 L215.47,686.40 L215.46,685.43 L215.45,684.47 L215.45,683.69 L215.45,683.50 L215.43,682.54 L215.41,681.57 L215.37,680.61 L215.33,679.64 L215.27,678.68 L215.21,677.71 L215.14,676.75 L215.10,676.23 L215.06,675.78 L214.92,674.81 L214.74,673.85 L214.53,672.88 L214.30,671.92 L214.10,671.00 L214.09,670.95 L213.89,669.99 L213.67,669.02 L213.46,668.06 L213.23,667.09 L212.99,666.13 L212.74,665.16 L212.70,665.02 L212.47,664.20 L212.18,663.23 L211.88,662.27 L211.57,661.30 L211.24,660.34 L210.91,659.37 L210.80,659.04 L210.57,658.41 L210.18,657.44 L209.79,656.48 L209.41,655.51 L209.10,654.56 L209.10,654.55 L208.80,653.58 L208.49,652.61 L208.20,651.65 L207.96,650.68 L207.78,649.72 L207.70,648.75 L207.70,648.59 L207.70,647.79 L207.70,646.82 L207.70,645.86 L207.70,644.89 L207.70,643.93 L207.70,643.36 L207.70,642.96 L207.75,642.00 L207.83,641.03 L207.94,640.07 L208.09,639.10 L208.26,638.14 L208.40,637.38 L208.45,637.17 L208.81,636.21 L209.36,635.24 L210.02,634.28 L210.73,633.31 L211.42,632.35 L212.00,631.41 L212.01,631.38 L212.56,630.41 L213.11,629.45 L213.65,628.48 L214.14,627.52 L214.55,626.55 L214.80,625.80 L214.86,625.59 L215.10,624.62 L215.20,623.94 L215.22,623.66 L215.28,622.69 L215.33,621.73 L215.38,620.76 L215.42,619.80 L215.45,618.83 L215.47,617.87 L215.49,616.90 L215.50,615.94 L215.50,614.97 L215.50,614.97 Z" fill="#2f7ed3" stroke="#2b3034" stroke-width="1.0" stroke-linejoin="round"/>
<path d="M215.50,700.88 L215.50,700.88 L215.50,699.91 L215.50,698.95 L215.50,697.98 L215.51,697.02 L215.51,696.05 L215.52,695.08 L215.52,694.12 L215.53,693.15 L215.54,692.19 L215.55,691.22 L215.55,691.16 L215.62,690.26 L215.79,689.29 L216.00,688.33 L216.20,687.43 L216.21,687.36 L216.43,686.40 L216.69,685.43 L216.96,684.47 L217.21,683.50 L217.43,682.54 L217.59,681.57 L217.60,681.45 L217.70,680.61 L217.80,679.64 L217.89,678.68 L217.96,677.71 L217.99,676.75 L218.00,676.23 L217.98,675.78 L217.85,674.81 L217.62,673.85 L217.35,672.88 L217.11,671.92 L216.94,670.95 L216.90,670.25 L216.90,669.99 L216.93,669.02 L216.99,668.06 L217.07,667.09 L217.16,666.13 L217.20,665.77 L217.28,665.16 L217.44,664.20 L217.67,663.23 L217.93,662.27 L218.23,661.30 L218.55,660.34 L218.88,659.37 L219.00,659.04 L219.28,658.41 L219.84,657.44 L220.45,656.48 L220.95,655.51 L221.20,654.56 L221.20,654.55 L221.29,653.58 L221.36,652.61 L221.42,651.65 L221.46,650.68 L221.49,649.72 L221.50,648.75 L221.50,648.59 L221.46,647.79 L221.32,646.82 L221.11,645.86 L220.85,644.89 L220.56,643.93 L220.28,642.96 L220.03,642.00 L220.00,641.86 L219.81,641.03 L219.60,640.07 L219.38,639.10 L219.16,638.14 L218.94,637.17 L218.72,636.21 L218.50,635.24 L218.30,634.39 L218.27,634.28 L218.04,633.31 L217.80,632.35 L217.56,631.38 L217.32,630.41 L217.08,629.45 L216.84,628.48 L216.60,627.52 L216.37,626.55 L216.20,625.80 L216.15,625.59 L215.91,624.62 L215.80,623.94 L215.78,623.66 L215.72,622.69 L215.67,621.73 L215.62,620.76 L215.58,619.80 L215.55,618.83 L215.53,617.87 L215.51,616.90 L215.50,615.94 L215.50,614.97 L215.50,614.97 Z" fill="#e8710a" stroke="#2b3034" stroke-width="1.0" stroke-linejoin="round"/>
<line x1="215.50" y1="707.90" x2="215.50" y2="710.50" stroke="#222" stroke-width="1.0"/>
<text transform="translate(215.50,719.98) rotate(45)" font-family="'Liberation Serif', 'Times New Roman', serif" font-size="10.2" text-anchor="middle" dominant-baseline="central" stroke="#000" stroke-width="0.28" stroke-opacity="0.55">N7</text>
<path d="M235.50,700.88 L235.50,700.88 L235.49,699.90 L235.46,698.93 L235.41,697.96 L235.33,696.98 L235.24,696.01 L235.20,695.65 L235.00,695.03 L234.38,694.06 L234.00,693.41 L233.85,693.09 L233.35,692.11 L232.91,691.14 L232.70,690.17 L232.70,690.04 L232.76,689.19 L232.94,688.22 L233.21,687.25 L233.52,686.27 L233.84,685.30 L234.13,684.32 L234.34,683.35 L234.40,682.95 L234.47,682.38 L234.57,681.40 L234.68,680.43 L234.78,679.46 L234.87,678.48 L234.96,677.51 L235.04,676.54 L235.12,675.56 L235.19,674.59 L235.25,673.61 L235.30,672.64 L235.34,671.67 L235.37,670.69 L235.39,669.72 L235.40,668.75 L235.40,668.75 L235.40,667.77 L235.41,666.80 L235.41,665.83 L235.42,664.85 L235.42,663.88 L235.42,662.90 L235.43,661.93 L235.43,660.96 L235.43,659.98 L235.44,659.01 L235.44,658.04 L235.44,657.06 L235.45,656.09 L235.45,655.12 L235.45,654.14 L235.45,653.17 L235.46,652.20 L235.46,651.22 L235.46,650.25 L235.46,649.27 L235.47,648.30 L235.47,647.33 L235.47,646.35 L235.47,645.38 L235.47,644.41 L235.48,643.43 L235.48,642.46 L235.48,641.49 L235.48,640.51 L235.48,639.54 L235.48,638.56 L235.49,637.59 L235.49,636.62 L235.49,635.64 L235.49,634.67 L235.49,633.70 L235.49,632.72 L235.49,631.75 L235.49,630.78 L235.49,629.80 L235.49,628.83 L235.50,627.85 L235.50,626.88 L235.50,625.91 L235.50,624.93 L235.50,623.96 L235.50,622.99 L235.50,622.01 L235.50,621.04 L235.50,620.07 L235.50,619.09 L235.50,618.12 L235.50,617.14 L235.50,616.17 L235.50,615.20 L235.50,614.22 L235.50,614.22 Z" fill="#2f7ed3" stroke="#2b3034" stroke-width="1.0" stroke-linejoin="round"/>
<path d="M235.50,700.88 L235.50,700.88 L235.51,699.90 L235.53,698.93 L235.57,697.96 L235.64,696.98 L235.70,696.39 L235.91,696.01 L236.90,695.27 L237.49,695.03 L242.01,694.06 L243.70,693.41 L243.56,693.09 L242.13,692.11 L241.20,691.46 L240.89,691.14 L240.00,690.17 L239.18,689.19 L238.46,688.22 L237.84,687.25 L237.34,686.27 L237.20,685.94 L236.95,685.30 L236.58,684.32 L236.24,683.35 L235.95,682.38 L235.73,681.40 L235.62,680.43 L235.60,679.96 L235.60,679.46 L235.59,678.48 L235.59,677.51 L235.59,676.54 L235.58,675.56 L235.58,674.59 L235.58,673.61 L235.57,672.64 L235.57,671.67 L235.57,670.69 L235.56,669.72 L235.56,668.75 L235.56,667.77 L235.55,666.80 L235.55,665.83 L235.55,664.85 L235.55,663.88 L235.54,662.90 L235.54,661.93 L235.54,660.96 L235.54,659.98 L235.54,659.01 L235.53,658.04 L235.53,657.06 L235.53,656.09 L235.53,655.12 L235.53,654.14 L235.52,653.17 L235.52,652.20 L235.52,651.22 L235.52,650.25 L235.52,649.27 L235.52,648.30 L235.52,647.33 L235.51,646.35 L235.51,645.38 L235.51,644.41 L235.51,643.43 L235.51,642.46 L235.51,641.49 L235.51,640.51 L235.51,639.54 L235.51,638.56 L235.51,637.59 L235.51,636.62 L235.51,635.64 L235.50,634.67 L235.50,633.70 L235.50,632.72 L235.50,631.75 L235.50,630.78 L235.50,629.80 L235.50,628.83 L235.50,627.85 L235.50,626.88 L235.50,625.91 L235.50,624.93 L235.50,623.96 L235.50,622.99 L235.50,622.01 L235.50,621.04 L235.50,620.07 L235.50,619.09 L235.50,618.12 L235.50,617.14 L235.50,616.17 L235.50,615.20 L235.50,614.22 L235.50,614.22 Z" fill="#e8710a" stroke="#2b3034" stroke-width="1.0" stroke-linejoin="round"/>
<line x1="235.50" y1="707.90" x2="235.50" y2="710.50" stroke="#222" stroke-width="1.0"/>
<text transform="translate(235.50,719.98) rotate(45)" font-family="'Liberation Serif', 'Times New Roman', serif" font-size="10.2" text-anchor="middle" dominant-baseline="central" stroke="#000" stroke-width="0.28" stroke-opacity="0.55">N8</text>
<path d="M255.50,700.13 L255.50,700.13 L255.49,699.19 L255.47,698.25 L255.44,697.31 L255.40,696.37 L255.34,695.43 L255.30,694.90 L255.24,694.49 L254.93,693.55 L254.47,692.61 L254.10,691.91 L253.96,691.67 L253.26,690.73 L252.40,689.79 L251.52,688.85 L250.78,687.91 L250.50,687.43 L250.27,686.97 L249.80,686.03 L249.35,685.09 L248.96,684.15 L248.66,683.21 L248.46,682.27 L248.40,681.45 L248.40,681.33 L248.44,680.39 L248.55,679.45 L248.69,678.51 L248.85,677.57 L249.03,676.63 L249.10,676.23 L249.20,675.69 L249.41,674.75 L249.66,673.81 L249.93,672.87 L250.21,671.93 L250.51,670.99 L250.81,670.05 L251.09,669.11 L251.20,668.75 L251.38,668.17 L251.69,667.23 L252.01,666.29 L252.33,665.35 L252.65,664.41 L252.94,663.47 L253.20,662.53 L253.40,661.66 L253.41,661.59 L253.61,660.65 L253.80,659.71 L253.98,658.77 L254.17,657.83 L254.35,656.89 L254.52,655.95 L254.68,655.01 L254.83,654.07 L254.96,653.13 L255.09,652.19 L255.19,651.25 L255.28,650.31 L255.34,649.37 L255.38,648.43 L255.40,647.54 L255.40,647.49 L255.41,646.55 L255.41,645.61 L255.42,644.67 L255.43,643.73 L255.43,642.79 L255.44,641.85 L255.44,640.91 L255.45,639.97 L255.45,639.03 L255.45,638.09 L255.46,637.15 L255.46,636.21 L255.47,635.27 L255.47,634.33 L255.47,633.39 L255.48,632.45 L255.48,631.51 L255.48,630.57 L255.48,629.63 L255.49,628.69 L255.49,627.75 L255.49,626.81 L255.49,625.87 L255.49,624.93 L255.50,623.99 L255.50,623.05 L255.50,622.11 L255.50,621.17 L255.50,620.23 L255.50,619.29 L255.50,618.35 L255.50,617.41 L255.50,616.47 L255.50,616.47 Z" fill="#2f7ed3" stroke="#2b3034" stroke-width="1.0" stroke-linejoin="round"/>
<path d="M255.50,700.13 L255.50,700.13 L255.52,699.19 L255.57,698.25 L255.65,697.31 L255.78,696.37 L255.93,695.43 L256.12,694.49 L256.20,694.15 L256.55,693.55 L257.56,692.61 L258.30,691.91 L258.52,691.67 L259.39,690.73 L260.26,689.79 L261.04,688.85 L261.67,687.91 L261.90,687.43 L262.09,686.97 L262.45,686.03 L262.78,685.09 L263.05,684.15 L263.23,683.21 L263.30,682.27 L263.30,682.20 L263.22,681.33 L262.97,680.39 L262.61,679.45 L262.19,678.51 L261.75,677.57 L261.35,676.63 L261.20,676.23 L261.01,675.69 L260.67,674.75 L260.32,673.81 L259.98,672.87 L259.63,671.93 L259.31,670.99 L258.99,670.05 L258.70,669.11 L258.60,668.75 L258.44,668.17 L258.18,667.23 L257.95,666.29 L257.72,665.35 L257.50,664.41 L257.29,663.47 L257.08,662.53 L256.90,661.66 L256.89,661.59 L256.67,660.65 L256.45,659.71 L256.22,658.77 L256.01,657.83 L255.83,656.89 L255.69,655.95 L255.61,655.01 L255.60,654.56 L255.60,654.07 L255.59,653.13 L255.58,652.19 L255.58,651.25 L255.57,650.31 L255.57,649.37 L255.56,648.43 L255.56,647.49 L255.56,646.55 L255.55,645.61 L255.55,644.67 L255.54,643.73 L255.54,642.79 L255.54,641.85 L255.53,640.91 L255.53,639.97 L255.53,639.03 L255.52,638.09 L255.52,637.15 L255.52,636.21 L255.52,635.27 L255.52,634.33 L255.51,633.39 L255.51,632.45 L255.51,631.51 L255.51,630.57 L255.51,629.63 L255.51,628.69 L255.51,627.75 L255.50,626.81 L255.50,625.87 L255.50,624.93 L255.50,623.99 L255.50,623.05 L255.50,622.11 L255.50,621.17 L255.50,620.23 L255.50,619.29 L255.50,618.35 L255.50,617.41 L255.50,616.47 L255.50,616.47 Z" fill="#e8710a" stroke="#2b3034" stroke-width="1.0" stroke-linejoin="round"/>
<line x1="255.50" y1="707.90" x2="255.50" y2="710.50" stroke="#222" stroke-width="1.0"/>
<text transform="translate(255.50,719.98) rotate(45)" font-family="'Liberation Serif', 'Times New Roman', serif" font-size="10.2" text-anchor="middle" dominant-baseline="central" stroke="#000" stroke-width="0.28" stroke-opacity="0.55">N9</text>
<path d="M275.50,697.89 L275.50,697.89 L275.03,696.97 L274.70,696.39 L274.45,696.05 L273.64,695.13 L273.40,694.53 L273.45,694.21 L273.92,693.29 L274.30,692.66 L274.45,692.37 L275.04,691.45 L275.39,690.54 L275.40,690.42 L275.40,689.62 L275.41,688.70 L275.41,687.78 L275.41,686.86 L275.42,685.94 L275.42,685.02 L275.42,684.10 L275.43,683.18 L275.43,682.26 L275.43,681.34 L275.43,680.43 L275.44,679.51 L275.44,678.59 L275.44,677.67 L275.44,676.75 L275.45,675.83 L275.45,674.91 L275.45,673.99 L275.45,673.07 L275.46,672.15 L275.46,671.24 L275.46,670.32 L275.46,669.40 L275.46,668.48 L275.47,667.56 L275.47,666.64 L275.47,665.72 L275.47,664.80 L275.47,663.88 L275.47,662.96 L275.47,662.04 L275.48,661.13 L275.48,660.21 L275.48,659.29 L275.48,658.37 L275.48,657.45 L275.48,656.53 L275.48,655.61 L275.48,654.69 L275.49,653.77 L275.49,652.85 L275.49,651.93 L275.49,651.02 L275.49,650.10 L275.49,649.18 L275.49,648.26 L275.49,647.34 L275.49,646.42 L275.49,645.50 L275.49,644.58 L275.49,643.66 L275.49,642.74 L275.50,641.83 L275.50,640.91 L275.50,639.99 L275.50,639.07 L275.50,638.15 L275.50,637.23 L275.50,636.31 L275.50,635.39 L275.50,634.47 L275.50,633.55 L275.50,632.63 L275.50,631.72 L275.50,630.80 L275.50,629.88 L275.50,628.96 L275.50,628.04 L275.50,627.12 L275.50,626.20 L275.50,625.28 L275.50,624.36 L275.50,623.44 L275.50,622.52 L275.50,621.61 L275.50,620.69 L275.50,619.77 L275.50,618.85 L275.50,617.93 L275.50,617.01 L275.50,616.09 L275.50,616.09 Z" fill="#2f7ed3" stroke="#2b3034" stroke-width="1.0" stroke-linejoin="round"/>
<path d="M275.50,697.89 L275.50,697.89 L275.57,696.97 L275.60,696.77 L276.76,696.05 L277.50,695.80 L282.81,695.13 L283.70,694.90 L279.98,694.21 L277.50,693.78 L276.33,693.29 L275.60,692.66 L275.60,692.37 L275.60,691.45 L275.59,690.54 L275.59,689.62 L275.59,688.70 L275.58,687.78 L275.58,686.86 L275.58,685.94 L275.57,685.02 L275.57,684.10 L275.57,683.18 L275.57,682.26 L275.56,681.34 L275.56,680.43 L275.56,679.51 L275.55,678.59 L275.55,677.67 L275.55,676.75 L275.55,675.83 L275.55,674.91 L275.54,673.99 L275.54,673.07 L275.54,672.15 L275.54,671.24 L275.54,670.32 L275.53,669.40 L275.53,668.48 L275.53,667.56 L275.53,666.64 L275.53,665.72 L275.53,664.80 L275.53,663.88 L275.52,662.96 L275.52,662.04 L275.52,661.13 L275.52,660.21 L275.52,659.29 L275.52,658.37 L275.52,657.45 L275.52,656.53 L275.51,655.61 L275.51,654.69 L275.51,653.77 L275.51,652.85 L275.51,651.93 L275.51,651.02 L275.51,650.10 L275.51,649.18 L275.51,648.26 L275.51,647.34 L275.51,646.42 L275.51,645.50 L275.51,644.58 L275.51,643.66 L275.50,642.74 L275.50,641.83 L275.50,640.91 L275.50,639.99 L275.50,639.07 L275.50,638.15 L275.50,637.23 L275.50,636.31 L275.50,635.39 L275.50,634.47 L275.50,633.55 L275.50,632.63 L275.50,631.72 L275.50,630.80 L275.50,629.88 L275.50,628.96 L275.50,628.04 L275.50,627.12 L275.50,626.20 L275.50,625.28 L275.50,624.36 L275.50,623.44 L275.50,622.52 L275.50,621.61 L275.50,620.69 L275.50,619.77 L275.50,618.85 L275.50,617.93 L275.50,617.01 L275.50,616.09 L275.50,616.09 Z" fill="#e8710a" stroke="#2b3034" stroke-width="1.0" stroke-linejoin="round"/>
<line x1="275.50" y1="707.90" x2="275.50" y2="710.50" stroke="#222" stroke-width="1.0"/>
<text transform="translate(275.50,721.78) rotate(45)" font-family="'Liberation Serif', 'Times New Roman', serif" font-size="10.2" text-anchor="middle" dominant-baseline="central" stroke="#000" stroke-width="0.28" stroke-opacity="0.55">N10</text>
<path d="M295.50,703.86 L295.50,703.86 L295.49,702.83 L295.46,701.80 L295.42,700.77 L295.35,699.73 L295.27,698.70 L295.16,697.67 L295.10,697.14 L294.97,696.64 L294.45,695.61 L294.10,694.90 L293.97,694.57 L293.55,693.54 L293.14,692.51 L292.77,691.48 L292.48,690.44 L292.40,690.04 L292.28,689.41 L292.09,688.38 L291.91,687.35 L291.75,686.31 L291.63,685.28 L291.54,684.25 L291.50,683.22 L291.50,682.95 L291.52,682.18 L291.62,681.15 L291.77,680.12 L291.95,679.09 L292.14,678.05 L292.30,677.02 L292.40,676.23 L292.42,675.99 L292.52,674.96 L292.60,673.93 L292.68,672.89 L292.75,671.86 L292.83,670.83 L292.91,669.80 L293.00,668.76 L293.00,668.75 L293.10,667.73 L293.22,666.70 L293.35,665.67 L293.47,664.63 L293.60,663.60 L293.71,662.57 L293.80,661.66 L293.81,661.54 L293.90,660.50 L293.99,659.47 L294.08,658.44 L294.16,657.41 L294.25,656.37 L294.33,655.34 L294.40,654.31 L294.48,653.28 L294.55,652.25 L294.61,651.21 L294.67,650.18 L294.73,649.15 L294.77,648.12 L294.80,647.54 L294.82,647.08 L294.86,646.05 L294.90,645.02 L294.95,643.99 L294.98,642.95 L295.02,641.92 L295.06,640.89 L295.10,639.86 L295.13,638.82 L295.16,637.79 L295.20,636.76 L295.23,635.73 L295.25,634.70 L295.28,633.66 L295.30,632.63 L295.33,631.60 L295.35,630.57 L295.36,629.53 L295.38,628.50 L295.39,627.47 L295.40,626.92 L295.41,626.44 L295.42,625.40 L295.43,624.37 L295.44,623.34 L295.45,622.31 L295.46,621.27 L295.46,620.24 L295.47,619.21 L295.48,618.18 L295.48,617.14 L295.49,616.11 L295.49,615.08 L295.50,614.05 L295.50,613.02 L295.50,611.98 L295.50,611.98 Z" fill="#2f7ed3" stroke="#2b3034" stroke-width="1.0" stroke-linejoin="round"/>
<path d="M295.50,703.86 L295.50,703.86 L295.51,702.83 L295.54,701.80 L295.59,700.77 L295.67,699.73 L295.79,698.70 L295.94,697.67 L296.15,696.64 L296.20,696.39 L298.17,695.61 L300.50,694.90 L301.19,694.57 L303.12,693.54 L303.60,692.88 L303.57,692.51 L303.23,691.48 L302.76,690.44 L302.60,690.04 L302.37,689.41 L301.98,688.38 L301.58,687.35 L301.18,686.31 L300.79,685.28 L300.42,684.25 L300.08,683.22 L300.00,682.95 L299.78,682.18 L299.49,681.15 L299.22,680.12 L298.96,679.09 L298.71,678.05 L298.47,677.02 L298.30,676.23 L298.25,675.99 L298.03,674.96 L297.82,673.93 L297.62,672.89 L297.43,671.86 L297.24,670.83 L297.07,669.80 L296.90,668.76 L296.90,668.75 L296.73,667.73 L296.55,666.70 L296.37,665.67 L296.19,664.63 L296.02,663.60 L295.87,662.57 L295.75,661.54 L295.66,660.50 L295.61,659.47 L295.60,659.04 L295.60,658.44 L295.59,657.41 L295.59,656.37 L295.58,655.34 L295.58,654.31 L295.57,653.28 L295.57,652.25 L295.56,651.21 L295.56,650.18 L295.56,649.15 L295.55,648.12 L295.55,647.08 L295.55,646.05 L295.54,645.02 L295.54,643.99 L295.54,642.95 L295.53,641.92 L295.53,640.89 L295.53,639.86 L295.53,638.82 L295.52,637.79 L295.52,636.76 L295.52,635.73 L295.52,634.70 L295.52,633.66 L295.51,632.63 L295.51,631.60 L295.51,630.57 L295.51,629.53 L295.51,628.50 L295.51,627.47 L295.51,626.44 L295.51,625.40 L295.50,624.37 L295.50,623.34 L295.50,622.31 L295.50,621.27 L295.50,620.24 L295.50,619.21 L295.50,618.18 L295.50,617.14 L295.50,616.11 L295.50,615.08 L295.50,614.05 L295.50,613.02 L295.50,611.98 L295.50,611.98 Z" fill="#e8710a" stroke="#2b3034" stroke-width="1.0" stroke-linejoin="round"/>
<line x1="295.50" y1="707.90" x2="295.50" y2="710.50" stroke="#222" stroke-width="1.0"/>
<text transform="translate(295.50,721.67) rotate(45)" font-family="'Liberation Serif', 'Times New Roman', serif" font-size="10.2" text-anchor="middle" dominant-baseline="central" stroke="#000" stroke-width="0.28" stroke-opacity="0.55">N11</text>
<path d="M315.50,700.88 L315.50,700.88 L315.48,699.89 L315.41,698.91 L315.31,697.93 L315.18,696.95 L315.01,695.97 L314.82,694.98 L314.80,694.90 L314.40,694.00 L313.68,693.02 L312.97,692.04 L312.70,691.46 L312.56,691.06 L312.25,690.07 L311.95,689.09 L311.69,688.11 L311.48,687.13 L311.32,686.15 L311.22,685.16 L311.20,684.44 L311.20,684.18 L311.25,683.20 L311.35,682.22 L311.50,681.24 L311.67,680.25 L311.86,679.27 L312.05,678.29 L312.23,677.31 L312.39,676.33 L312.40,676.23 L312.52,675.34 L312.66,674.36 L312.80,673.38 L312.94,672.40 L313.07,671.42 L313.20,670.43 L313.32,669.45 L313.40,668.75 L313.43,668.47 L313.54,667.49 L313.63,666.51 L313.72,665.52 L313.81,664.54 L313.91,663.56 L314.00,662.58 L314.10,661.66 L314.11,661.60 L314.23,660.61 L314.38,659.63 L314.54,658.65 L314.71,657.67 L314.87,656.69 L315.03,655.70 L315.16,654.72 L315.28,653.74 L315.36,652.76 L315.40,651.78 L315.40,651.57 L315.40,650.79 L315.41,649.81 L315.42,648.83 L315.42,647.85 L315.43,646.87 L315.43,645.88 L315.44,644.90 L315.44,643.92 L315.45,642.94 L315.45,641.96 L315.45,640.97 L315.46,639.99 L315.46,639.01 L315.46,638.03 L315.47,637.05 L315.47,636.06 L315.47,635.08 L315.48,634.10 L315.48,633.12 L315.48,632.14 L315.48,631.15 L315.49,630.17 L315.49,629.19 L315.49,628.21 L315.49,627.23 L315.49,626.24 L315.49,625.26 L315.49,624.28 L315.50,623.30 L315.50,622.32 L315.50,621.33 L315.50,620.35 L315.50,619.37 L315.50,618.39 L315.50,617.41 L315.50,616.42 L315.50,615.44 L315.50,614.46 L315.50,613.48 L315.50,613.48 Z" fill="#2f7ed3" stroke="#2b3034" stroke-width="1.0" stroke-linejoin="round"/>
<path d="M315.50,700.88 L315.50,700.88 L315.52,699.89 L315.59,698.91 L315.73,697.93 L315.93,696.95 L316.20,696.02 L316.23,695.97 L318.79,694.98 L319.00,694.90 L321.44,694.00 L323.26,693.02 L323.30,692.88 L323.08,692.04 L322.49,691.06 L321.91,690.07 L321.90,690.04 L321.51,689.09 L321.13,688.11 L320.77,687.13 L320.42,686.15 L320.07,685.16 L319.80,684.44 L319.70,684.18 L319.31,683.20 L318.91,682.22 L318.52,681.24 L318.13,680.25 L317.77,679.27 L317.60,678.76 L317.44,678.29 L317.08,677.31 L316.70,676.33 L316.35,675.34 L316.03,674.36 L315.78,673.38 L315.63,672.40 L315.60,671.74 L315.60,671.42 L315.59,670.43 L315.59,669.45 L315.59,668.47 L315.58,667.49 L315.58,666.51 L315.57,665.52 L315.57,664.54 L315.57,663.56 L315.56,662.58 L315.56,661.60 L315.56,660.61 L315.55,659.63 L315.55,658.65 L315.55,657.67 L315.55,656.69 L315.54,655.70 L315.54,654.72 L315.54,653.74 L315.54,652.76 L315.53,651.78 L315.53,650.79 L315.53,649.81 L315.53,648.83 L315.53,647.85 L315.52,646.87 L315.52,645.88 L315.52,644.90 L315.52,643.92 L315.52,642.94 L315.52,641.96 L315.51,640.97 L315.51,639.99 L315.51,639.01 L315.51,638.03 L315.51,637.05 L315.51,636.06 L315.51,635.08 L315.51,634.10 L315.51,633.12 L315.51,632.14 L315.50,631.15 L315.50,630.17 L315.50,629.19 L315.50,628.21 L315.50,627.23 L315.50,626.24 L315.50,625.26 L315.50,624.28 L315.50,623.30 L315.50,622.32 L315.50,621.33 L315.50,620.35 L315.50,619.37 L315.50,618.39 L315.50,617.41 L315.50,616.42 L315.50,615.44 L315.50,614.46 L315.50,613.48 L315.50,613.48 Z" fill="#e8710a" stroke="#2b3034" stroke-width="1.0" stroke-linejoin="round"/>
<line x1="315.50" y1="707.90" x2="315.50" y2="710.50" stroke="#222" stroke-width="1.0"/>
<text transform="translate(315.50,721.78) rotate(45)" font-family="'Liberation Serif', 'Times New Roman', serif" font-size="10.2" text-anchor="middle" dominant-baseline="central" stroke="#000" stroke-width="0.28" stroke-opacity="0.55">N12</text>
<path d="M335.50,699.38 L335.50,699.38 L335.46,698.43 L335.35,697.49 L335.30,697.14 L335.12,696.54 L334.64,695.59 L334.30,694.90 L334.18,694.64 L333.69,693.69 L333.40,692.74 L333.40,692.66 L333.48,691.79 L333.72,690.85 L334.02,689.90 L334.29,688.95 L334.30,688.92 L334.56,688.00 L334.87,687.05 L335.15,686.10 L335.35,685.16 L335.40,684.44 L335.40,684.21 L335.40,683.26 L335.41,682.31 L335.41,681.36 L335.42,680.41 L335.42,679.46 L335.42,678.52 L335.43,677.57 L335.43,676.62 L335.43,675.67 L335.43,674.72 L335.44,673.77 L335.44,672.83 L335.44,671.88 L335.45,670.93 L335.45,669.98 L335.45,669.03 L335.45,668.08 L335.45,667.14 L335.46,666.19 L335.46,665.24 L335.46,664.29 L335.46,663.34 L335.47,662.39 L335.47,661.44 L335.47,660.50 L335.47,659.55 L335.47,658.60 L335.47,657.65 L335.48,656.70 L335.48,655.75 L335.48,654.81 L335.48,653.86 L335.48,652.91 L335.48,651.96 L335.48,651.01 L335.48,650.06 L335.49,649.11 L335.49,648.17 L335.49,647.22 L335.49,646.27 L335.49,645.32 L335.49,644.37 L335.49,643.42 L335.49,642.48 L335.49,641.53 L335.49,640.58 L335.49,639.63 L335.49,638.68 L335.50,637.73 L335.50,636.79 L335.50,635.84 L335.50,634.89 L335.50,633.94 L335.50,632.99 L335.50,632.04 L335.50,631.09 L335.50,630.15 L335.50,629.20 L335.50,628.25 L335.50,627.30 L335.50,626.35 L335.50,625.40 L335.50,624.46 L335.50,623.51 L335.50,622.56 L335.50,621.61 L335.50,620.66 L335.50,619.71 L335.50,618.76 L335.50,617.82 L335.50,616.87 L335.50,615.92 L335.50,614.97 L335.50,614.97 Z" fill="#2f7ed3" stroke="#2b3034" stroke-width="1.0" stroke-linejoin="round"/>
<path d="M335.50,699.38 L335.50,699.38 L335.52,698.43 L335.57,697.49 L335.60,697.14 L336.32,696.54 L337.50,696.02 L339.27,695.59 L343.62,694.64 L343.70,694.53 L341.57,693.69 L338.14,692.74 L338.00,692.66 L336.93,691.79 L336.05,690.85 L335.62,689.90 L335.60,689.67 L335.60,688.95 L335.59,688.00 L335.59,687.05 L335.59,686.10 L335.58,685.16 L335.58,684.21 L335.58,683.26 L335.57,682.31 L335.57,681.36 L335.57,680.41 L335.57,679.46 L335.56,678.52 L335.56,677.57 L335.56,676.62 L335.56,675.67 L335.55,674.72 L335.55,673.77 L335.55,672.83 L335.55,671.88 L335.54,670.93 L335.54,669.98 L335.54,669.03 L335.54,668.08 L335.54,667.14 L335.53,666.19 L335.53,665.24 L335.53,664.29 L335.53,663.34 L335.53,662.39 L335.53,661.44 L335.52,660.50 L335.52,659.55 L335.52,658.60 L335.52,657.65 L335.52,656.70 L335.52,655.75 L335.52,654.81 L335.52,653.86 L335.51,652.91 L335.51,651.96 L335.51,651.01 L335.51,650.06 L335.51,649.11 L335.51,648.17 L335.51,647.22 L335.51,646.27 L335.51,645.32 L335.51,644.37 L335.51,643.42 L335.51,642.48 L335.51,641.53 L335.50,640.58 L335.50,639.63 L335.50,638.68 L335.50,637.73 L335.50,636.79 L335.50,635.84 L335.50,634.89 L335.50,633.94 L335.50,632.99 L335.50,632.04 L335.50,631.09 L335.50,630.15 L335.50,629.20 L335.50,628.25 L335.50,627.30 L335.50,626.35 L335.50,625.40 L335.50,624.46 L335.50,623.51 L335.50,622.56 L335.50,621.61 L335.50,620.66 L335.50,619.71 L335.50,618.76 L335.50,617.82 L335.50,616.87 L335.50,615.92 L335.50,614.97 L335.50,614.97 Z" fill="#e8710a" stroke="#2b3034" stroke-width="1.0" stroke-linejoin="round"/>
<line x1="335.50" y1="707.90" x2="335.50" y2="710.50" stroke="#222" stroke-width="1.0"/>
<text transform="translate(335.50,721.78) rotate(45)" font-family="'Liberation Serif', 'Times New Roman', serif" font-size="10.2" text-anchor="middle" dominant-baseline="central" stroke="#000" stroke-width="0.28" stroke-opacity="0.55">N13</text>
<path d="M355.50,701.62 L355.50,701.62 L355.49,700.62 L355.46,699.63 L355.41,698.63 L355.34,697.63 L355.30,697.14 L355.20,696.63 L354.78,695.63 L354.40,694.90 L354.25,694.63 L353.57,693.63 L352.80,692.63 L352.10,691.64 L352.00,691.46 L351.51,690.64 L350.90,689.64 L350.33,688.64 L349.86,687.64 L349.57,686.64 L349.50,685.94 L349.50,685.64 L349.58,684.64 L349.73,683.64 L349.94,682.65 L350.20,681.65 L350.47,680.65 L350.76,679.65 L351.02,678.65 L351.26,677.65 L351.44,676.65 L351.50,676.23 L351.57,675.65 L351.68,674.66 L351.78,673.66 L351.87,672.66 L351.95,671.66 L352.03,670.66 L352.11,669.66 L352.18,668.66 L352.25,667.66 L352.31,666.67 L352.38,665.67 L352.46,664.67 L352.53,663.67 L352.61,662.67 L352.70,661.67 L352.70,661.66 L352.79,660.67 L352.88,659.67 L352.98,658.67 L353.08,657.68 L353.18,656.68 L353.28,655.68 L353.38,654.68 L353.48,653.68 L353.58,652.68 L353.68,651.68 L353.78,650.68 L353.89,649.69 L353.99,648.69 L354.09,647.69 L354.10,647.54 L354.19,646.69 L354.29,645.69 L354.40,644.69 L354.51,643.69 L354.61,642.69 L354.70,641.70 L354.78,640.70 L354.80,640.37 L354.84,639.70 L354.90,638.70 L354.97,637.70 L355.02,636.70 L355.08,635.70 L355.13,634.70 L355.18,633.70 L355.23,632.71 L355.27,631.71 L355.31,630.71 L355.34,629.71 L355.37,628.71 L355.39,627.71 L355.40,626.92 L355.40,626.71 L355.41,625.71 L355.43,624.72 L355.44,623.72 L355.45,622.72 L355.46,621.72 L355.46,620.72 L355.47,619.72 L355.48,618.72 L355.49,617.72 L355.49,616.73 L355.49,615.73 L355.50,614.73 L355.50,613.73 L355.50,612.73 L355.50,612.73 Z" fill="#2f7ed3" stroke="#2b3034" stroke-width="1.0" stroke-linejoin="round"/>
<path d="M355.50,701.62 L355.50,701.62 L355.52,700.62 L355.58,699.63 L355.68,698.63 L355.84,697.63 L356.04,696.63 L356.20,696.02 L356.57,695.63 L358.82,694.63 L359.80,694.15 L360.67,693.63 L362.34,692.63 L363.28,691.64 L363.30,691.46 L363.22,690.64 L362.96,689.64 L362.63,688.64 L362.34,687.64 L362.30,687.43 L362.16,686.64 L362.00,685.64 L361.86,684.64 L361.73,683.64 L361.60,682.65 L361.46,681.65 L361.31,680.65 L361.20,679.96 L361.15,679.65 L360.97,678.65 L360.79,677.65 L360.59,676.65 L360.38,675.65 L360.16,674.66 L359.91,673.66 L359.80,673.24 L359.63,672.66 L359.29,671.66 L358.91,670.66 L358.49,669.66 L358.06,668.66 L357.63,667.66 L357.23,666.67 L356.90,665.77 L356.86,665.67 L356.47,664.67 L356.06,663.67 L355.74,662.67 L355.60,661.67 L355.60,661.66 L355.59,660.67 L355.59,659.67 L355.58,658.67 L355.58,657.68 L355.57,656.68 L355.57,655.68 L355.57,654.68 L355.56,653.68 L355.56,652.68 L355.55,651.68 L355.55,650.68 L355.55,649.69 L355.54,648.69 L355.54,647.69 L355.54,646.69 L355.53,645.69 L355.53,644.69 L355.53,643.69 L355.53,642.69 L355.52,641.70 L355.52,640.70 L355.52,639.70 L355.52,638.70 L355.52,637.70 L355.51,636.70 L355.51,635.70 L355.51,634.70 L355.51,633.70 L355.51,632.71 L355.51,631.71 L355.51,630.71 L355.51,629.71 L355.51,628.71 L355.50,627.71 L355.50,626.71 L355.50,625.71 L355.50,624.72 L355.50,623.72 L355.50,622.72 L355.50,621.72 L355.50,620.72 L355.50,619.72 L355.50,618.72 L355.50,617.72 L355.50,616.73 L355.50,615.73 L355.50,614.73 L355.50,613.73 L355.50,612.73 L355.50,612.73 Z" fill="#e8710a" stroke="#2b3034" stroke-width="1.0" stroke-linejoin="round"/>
<line x1="355.50" y1="707.90" x2="355.50" y2="710.50" stroke="#222" stroke-width="1.0"/>
<text transform="translate(355.50,721.78) rotate(45)" font-family="'Liberation Serif', 'Times New Roman', serif" font-size="10.2" text-anchor="middle" dominant-baseline="central" stroke="#000" stroke-width="0.28" stroke-opacity="0.55">N14</text>
<path d="M375.50,701.62 L375.50,701.62 L375.49,700.63 L375.46,699.64 L375.41,698.65 L375.34,697.66 L375.30,697.14 L375.19,696.67 L374.68,695.68 L374.30,694.90 L374.23,694.69 L373.88,693.70 L373.57,692.71 L373.41,691.72 L373.40,691.46 L373.47,690.73 L373.73,689.74 L374.09,688.75 L374.42,687.76 L374.50,687.43 L374.66,686.77 L374.93,685.78 L375.17,684.79 L375.34,683.80 L375.40,682.95 L375.40,682.81 L375.40,681.81 L375.41,680.82 L375.41,679.83 L375.42,678.84 L375.42,677.85 L375.42,676.86 L375.43,675.87 L375.43,674.88 L375.43,673.89 L375.44,672.90 L375.44,671.91 L375.44,670.92 L375.44,669.93 L375.45,668.94 L375.45,667.95 L375.45,666.96 L375.45,665.97 L375.46,664.98 L375.46,663.99 L375.46,663.00 L375.46,662.01 L375.46,661.02 L375.47,660.03 L375.47,659.04 L375.47,658.05 L375.47,657.05 L375.47,656.06 L375.48,655.07 L375.48,654.08 L375.48,653.09 L375.48,652.10 L375.48,651.11 L375.48,650.12 L375.48,649.13 L375.48,648.14 L375.49,647.15 L375.49,646.16 L375.49,645.17 L375.49,644.18 L375.49,643.19 L375.49,642.20 L375.49,641.21 L375.49,640.22 L375.49,639.23 L375.49,638.24 L375.49,637.25 L375.49,636.26 L375.50,635.27 L375.50,634.28 L375.50,633.29 L375.50,632.29 L375.50,631.30 L375.50,630.31 L375.50,629.32 L375.50,628.33 L375.50,627.34 L375.50,626.35 L375.50,625.36 L375.50,624.37 L375.50,623.38 L375.50,622.39 L375.50,621.40 L375.50,620.41 L375.50,619.42 L375.50,618.43 L375.50,617.44 L375.50,616.45 L375.50,615.46 L375.50,614.47 L375.50,613.48 L375.50,613.48 Z" fill="#2f7ed3" stroke="#2b3034" stroke-width="1.0" stroke-linejoin="round"/>
<path d="M375.50,701.62 L375.50,701.62 L375.50,700.63 L375.52,699.64 L375.55,698.65 L375.60,697.66 L375.67,696.67 L375.70,696.39 L377.25,695.68 L378.50,695.27 L380.31,694.69 L383.08,693.70 L383.30,693.41 L382.59,692.71 L380.14,691.72 L377.86,690.73 L377.50,690.42 L377.03,689.74 L376.43,688.75 L375.97,687.76 L375.68,686.77 L375.60,685.94 L375.60,685.78 L375.60,684.79 L375.59,683.80 L375.59,682.81 L375.58,681.81 L375.58,680.82 L375.58,679.83 L375.57,678.84 L375.57,677.85 L375.57,676.86 L375.57,675.87 L375.56,674.88 L375.56,673.89 L375.56,672.90 L375.55,671.91 L375.55,670.92 L375.55,669.93 L375.55,668.94 L375.55,667.95 L375.54,666.96 L375.54,665.97 L375.54,664.98 L375.54,663.99 L375.53,663.00 L375.53,662.01 L375.53,661.02 L375.53,660.03 L375.53,659.04 L375.53,658.05 L375.52,657.05 L375.52,656.06 L375.52,655.07 L375.52,654.08 L375.52,653.09 L375.52,652.10 L375.52,651.11 L375.52,650.12 L375.51,649.13 L375.51,648.14 L375.51,647.15 L375.51,646.16 L375.51,645.17 L375.51,644.18 L375.51,643.19 L375.51,642.20 L375.51,641.21 L375.51,640.22 L375.51,639.23 L375.51,638.24 L375.50,637.25 L375.50,636.26 L375.50,635.27 L375.50,634.28 L375.50,633.29 L375.50,632.29 L375.50,631.30 L375.50,630.31 L375.50,629.32 L375.50,628.33 L375.50,627.34 L375.50,626.35 L375.50,625.36 L375.50,624.37 L375.50,623.38 L375.50,622.39 L375.50,621.40 L375.50,620.41 L375.50,619.42 L375.50,618.43 L375.50,617.44 L375.50,616.45 L375.50,615.46 L375.50,614.47 L375.50,613.48 L375.50,613.48 Z" fill="#e8710a" stroke="#2b3034" stroke-width="1.0" stroke-linejoin="round"/>
<line x1="375.50" y1="707.90" x2="375.50" y2="710.50" stroke="#222" stroke-width="1.0"/>
<text transform="translate(375.50,721.78) rotate(45)" font-family="'Liberation Serif', 'Times New Roman', serif" font-size="10.2" text-anchor="middle" dominant-baseline="central" stroke="#000" stroke-width="0.28" stroke-opacity="0.55">N15</text>
<rect x="85.50" y="607.60" width="300.20" height="100.30" fill="none" stroke="#333" stroke-width="0.9"/>
<line x1="82.90" y1="694.90" x2="85.50" y2="694.90" stroke="#222" stroke-width="1.0"/>
<text x="81.2" y="698.2" font-size="9.5" text-anchor="end" font-weight="normal" font-family="'Liberation Serif', 'Times New Roman', serif" stroke="#000" stroke-width="0.28" stroke-opacity="0.55" >0.0</text>
<line x1="82.90" y1="657.55" x2="85.50" y2="657.55" stroke="#222" stroke-width="1.0"/>
<text x="81.2" y="660.85" font-size="9.5" text-anchor="end" font-weight="normal" font-family="'Liberation Serif', 'Times New Roman', serif" stroke="#000" stroke-width="0.28" stroke-opacity="0.55" >0.5</text>
<line x1="82.90" y1="620.20" x2="85.50" y2="620.20" stroke="#222" stroke-width="1.0"/>
<text x="81.2" y="623.5" font-size="9.5" text-anchor="end" font-weight="normal" font-family="'Liberation Serif', 'Times New Roman', serif" stroke="#000" stroke-width="0.28" stroke-opacity="0.55" >1.0</text>
<g transform="translate(64.50,657.00) rotate(-90)"><text x="-5" y="0" font-family="'DejaVu Sans', sans-serif" font-style="italic" font-size="13.7" text-anchor="middle" stroke="#000" stroke-width="0.45">S</text><text x="4.6" y="-5" font-family="'DejaVu Sans', sans-serif" font-style="italic" font-size="9" text-anchor="middle" stroke="#000" stroke-width="0.3">Ni</text><path d="M-7,-13.2 Q-6,-14.8 -3,-14.8 L8,-14.6 Q10.5,-14.4 12.6,-15.6" fill="none" stroke="#111" stroke-width="1.0"/></g>
<rect x="111" y="585.3" width="253.60000000000002" height="21.0" rx="2" fill="#fff" stroke="#d8d8d8" stroke-width="0.8"/>
<rect x="115.8" y="589.7" width="25.1" height="10" fill="#2f7ed3" stroke="#333" stroke-width="0.6"/>
<text x="150.5" y="599.3" font-size="12.5" text-anchor="start" font-weight="normal" font-family="'Liberation Serif', 'Times New Roman', serif" stroke="#000" stroke-width="0.28" stroke-opacity="0.55" >existent links</text>
<rect x="240" y="589.7" width="25.9" height="10" fill="#e8710a" stroke="#333" stroke-width="0.6"/>
<text x="275" y="599.3" font-size="12.5" text-anchor="start" font-weight="normal" font-family="'Liberation Serif', 'Times New Roman', serif" stroke="#000" stroke-width="0.28" stroke-opacity="0.55" >nonexistent links</text>
<path d="M472.50,701.23 L472.50,701.23 L472.50,700.24 L472.49,699.25 L472.47,698.26 L472.46,697.27 L472.43,696.28 L472.41,695.29 L472.40,695.10 L472.36,694.30 L472.28,693.31 L472.17,692.32 L472.01,691.33 L471.81,690.34 L471.80,690.27 L471.36,689.35 L470.52,688.36 L469.51,687.37 L468.56,686.38 L468.20,685.91 L467.85,685.39 L467.20,684.40 L466.57,683.41 L465.99,682.42 L465.46,681.43 L464.98,680.44 L464.70,679.78 L464.57,679.45 L464.15,678.46 L463.74,677.47 L463.36,676.48 L463.03,675.49 L462.78,674.50 L462.63,673.51 L462.60,672.89 L462.61,672.52 L462.77,671.53 L463.06,670.54 L463.48,669.56 L463.97,668.57 L464.50,667.58 L465.05,666.59 L465.57,665.60 L466.04,664.61 L466.10,664.46 L466.46,663.62 L466.90,662.63 L467.35,661.64 L467.79,660.65 L468.22,659.66 L468.61,658.67 L468.96,657.68 L469.00,657.57 L469.28,656.69 L469.59,655.70 L469.89,654.71 L470.17,653.72 L470.42,652.73 L470.63,651.74 L470.79,650.75 L470.80,650.67 L470.92,649.76 L471.04,648.77 L471.15,647.78 L471.24,646.79 L471.33,645.80 L471.42,644.81 L471.49,643.82 L471.57,642.83 L471.63,641.84 L471.70,640.85 L471.76,639.86 L471.80,639.18 L471.82,638.87 L471.88,637.88 L471.94,636.89 L472.00,635.90 L472.06,634.91 L472.11,633.92 L472.16,632.93 L472.21,631.94 L472.26,630.95 L472.30,629.96 L472.33,628.97 L472.36,627.98 L472.39,626.99 L472.40,626.16 L472.40,626.01 L472.41,625.02 L472.43,624.03 L472.44,623.04 L472.45,622.05 L472.46,621.06 L472.47,620.07 L472.48,619.08 L472.48,618.09 L472.49,617.10 L472.49,616.11 L472.50,615.12 L472.50,614.13 L472.50,613.14 L472.50,613.14 Z" fill="#2f7ed3" stroke="#2b3034" stroke-width="1.0" stroke-linejoin="round"/>
<path d="M472.50,701.23 L472.50,701.23 L472.50,700.24 L472.51,699.25 L472.51,698.26 L472.52,697.27 L472.53,696.28 L472.55,695.29 L472.55,695.10 L472.56,694.30 L472.59,693.31 L472.62,692.32 L472.66,691.33 L472.71,690.34 L472.77,689.35 L472.83,688.36 L472.90,687.44 L472.91,687.37 L473.01,686.38 L473.17,685.39 L473.36,684.40 L473.57,683.41 L473.79,682.42 L474.01,681.43 L474.20,680.55 L474.22,680.44 L474.43,679.45 L474.65,678.46 L474.88,677.47 L475.11,676.48 L475.33,675.49 L475.55,674.50 L475.75,673.51 L475.93,672.52 L476.00,672.12 L476.09,671.53 L476.24,670.54 L476.37,669.56 L476.50,668.57 L476.62,667.58 L476.74,666.59 L476.86,665.60 L476.98,664.61 L477.00,664.46 L477.11,663.62 L477.24,662.63 L477.38,661.64 L477.51,660.65 L477.65,659.66 L477.78,658.67 L477.91,657.68 L478.03,656.69 L478.15,655.70 L478.20,655.27 L478.27,654.71 L478.40,653.72 L478.53,652.73 L478.66,651.74 L478.77,650.75 L478.85,649.76 L478.90,648.77 L478.90,648.37 L478.89,647.78 L478.83,646.79 L478.72,645.80 L478.57,644.81 L478.39,643.82 L478.18,642.83 L477.96,641.84 L477.72,640.85 L477.50,639.95 L477.48,639.86 L477.19,638.87 L476.83,637.88 L476.41,636.89 L475.96,635.90 L475.49,634.91 L475.01,633.92 L474.60,633.05 L474.54,632.93 L473.96,631.94 L473.33,630.95 L472.85,629.96 L472.70,629.22 L472.69,628.97 L472.66,627.98 L472.64,626.99 L472.62,626.01 L472.60,625.02 L472.58,624.03 L472.56,623.04 L472.55,622.05 L472.54,621.06 L472.53,620.07 L472.52,619.08 L472.51,618.09 L472.51,617.10 L472.50,616.11 L472.50,615.12 L472.50,614.13 L472.50,613.14 L472.50,613.14 Z" fill="#e8710a" stroke="#2b3034" stroke-width="1.0" stroke-linejoin="round"/>
<line x1="472.50" y1="707.40" x2="472.50" y2="710.00" stroke="#222" stroke-width="1.0"/>
<text transform="translate(472.50,720.09) rotate(45)" font-family="'Liberation Serif', 'Times New Roman', serif" font-size="10.2" text-anchor="middle" dominant-baseline="central" stroke="#000" stroke-width="0.28" stroke-opacity="0.55">M1</text>
<path d="M497.50,704.29 L497.50,704.29 L497.50,703.25 L497.49,702.20 L497.47,701.16 L497.45,700.12 L497.42,699.07 L497.39,698.03 L497.36,696.98 L497.32,695.94 L497.28,694.90 L497.24,693.85 L497.20,692.81 L497.20,692.80 L497.15,691.76 L497.07,690.72 L496.99,689.68 L496.90,688.63 L496.81,687.59 L496.80,687.44 L496.73,686.54 L496.64,685.50 L496.54,684.46 L496.45,683.41 L496.35,682.37 L496.25,681.32 L496.15,680.28 L496.10,679.78 L496.05,679.24 L495.93,678.19 L495.81,677.15 L495.69,676.10 L495.56,675.06 L495.44,674.02 L495.32,672.97 L495.21,671.93 L495.12,670.88 L495.04,669.84 L495.00,669.06 L494.99,668.80 L494.94,667.75 L494.89,666.71 L494.85,665.66 L494.81,664.62 L494.78,663.58 L494.75,662.53 L494.72,661.49 L494.71,660.44 L494.70,659.40 L494.70,659.10 L494.72,658.36 L494.79,657.31 L494.92,656.27 L495.09,655.22 L495.28,654.18 L495.49,653.14 L495.70,652.09 L495.91,651.05 L496.10,650.00 L496.26,648.96 L496.37,647.92 L496.40,647.61 L496.45,646.87 L496.53,645.83 L496.59,644.78 L496.66,643.74 L496.71,642.70 L496.77,641.65 L496.82,640.61 L496.87,639.56 L496.91,638.52 L496.96,637.48 L496.99,636.43 L497.03,635.39 L497.06,634.34 L497.09,633.30 L497.10,633.05 L497.12,632.26 L497.15,631.21 L497.18,630.17 L497.21,629.12 L497.23,628.08 L497.26,627.04 L497.29,625.99 L497.31,624.95 L497.34,623.90 L497.36,622.86 L497.38,621.82 L497.40,620.77 L497.42,619.73 L497.44,618.68 L497.45,617.64 L497.47,616.60 L497.48,615.55 L497.49,614.51 L497.49,613.46 L497.50,612.42 L497.50,611.38 L497.50,611.38 Z" fill="#2f7ed3" stroke="#2b3034" stroke-width="1.0" stroke-linejoin="round"/>
<path d="M497.50,704.29 L497.50,704.29 L497.52,703.25 L497.59,702.20 L497.71,701.16 L497.90,700.12 L498.16,699.07 L498.20,698.93 L499.97,698.03 L501.80,697.40 L503.04,696.98 L506.68,695.94 L508.10,695.10 L508.08,694.90 L507.55,693.85 L506.46,692.81 L505.07,691.76 L503.62,690.72 L502.39,689.68 L501.80,688.97 L501.58,688.63 L500.95,687.59 L500.38,686.54 L499.87,685.50 L499.43,684.46 L499.07,683.41 L498.90,682.84 L498.77,682.37 L498.49,681.32 L498.22,680.28 L497.99,679.24 L497.79,678.19 L497.66,677.15 L497.60,676.10 L497.60,675.95 L497.60,675.06 L497.59,674.02 L497.59,672.97 L497.58,671.93 L497.58,670.88 L497.58,669.84 L497.57,668.80 L497.57,667.75 L497.57,666.71 L497.56,665.66 L497.56,664.62 L497.56,663.58 L497.55,662.53 L497.55,661.49 L497.55,660.44 L497.55,659.40 L497.54,658.36 L497.54,657.31 L497.54,656.27 L497.54,655.22 L497.53,654.18 L497.53,653.14 L497.53,652.09 L497.53,651.05 L497.53,650.00 L497.52,648.96 L497.52,647.92 L497.52,646.87 L497.52,645.83 L497.52,644.78 L497.52,643.74 L497.52,642.70 L497.51,641.65 L497.51,640.61 L497.51,639.56 L497.51,638.52 L497.51,637.48 L497.51,636.43 L497.51,635.39 L497.51,634.34 L497.51,633.30 L497.51,632.26 L497.50,631.21 L497.50,630.17 L497.50,629.12 L497.50,628.08 L497.50,627.04 L497.50,625.99 L497.50,624.95 L497.50,623.90 L497.50,622.86 L497.50,621.82 L497.50,620.77 L497.50,619.73 L497.50,618.68 L497.50,617.64 L497.50,616.60 L497.50,615.55 L497.50,614.51 L497.50,613.46 L497.50,612.42 L497.50,611.38 L497.50,611.38 Z" fill="#e8710a" stroke="#2b3034" stroke-width="1.0" stroke-linejoin="round"/>
<line x1="497.50" y1="707.40" x2="497.50" y2="710.00" stroke="#222" stroke-width="1.0"/>
<text transform="translate(497.50,720.09) rotate(45)" font-family="'Liberation Serif', 'Times New Roman', serif" font-size="10.2" text-anchor="middle" dominant-baseline="central" stroke="#000" stroke-width="0.28" stroke-opacity="0.55">M2</text>
<path d="M522.50,701.23 L522.50,701.23 L522.47,700.24 L522.39,699.25 L522.26,698.26 L522.10,697.40 L522.06,697.27 L521.21,696.28 L519.93,695.29 L519.70,695.10 L518.66,694.30 L517.20,693.31 L515.81,692.32 L514.75,691.33 L514.70,691.27 L513.98,690.34 L513.28,689.35 L512.78,688.36 L512.60,687.44 L512.60,687.37 L512.72,686.38 L513.00,685.39 L513.38,684.40 L513.78,683.41 L514.00,682.84 L514.16,682.42 L514.56,681.43 L515.01,680.44 L515.49,679.45 L515.98,678.46 L516.47,677.47 L516.94,676.48 L517.37,675.49 L517.50,675.18 L517.78,674.50 L518.18,673.51 L518.57,672.52 L518.95,671.53 L519.31,670.54 L519.64,669.56 L519.93,668.57 L520.00,668.29 L520.18,667.58 L520.43,666.59 L520.66,665.60 L520.88,664.61 L521.07,663.62 L521.24,662.63 L521.37,661.64 L521.40,661.40 L521.48,660.65 L521.59,659.66 L521.70,658.67 L521.80,657.68 L521.89,656.69 L521.98,655.70 L522.07,654.71 L522.14,653.72 L522.21,652.73 L522.27,651.74 L522.32,650.75 L522.36,649.76 L522.38,648.77 L522.40,647.78 L522.40,647.61 L522.41,646.79 L522.41,645.80 L522.42,644.81 L522.42,643.82 L522.43,642.83 L522.43,641.84 L522.44,640.85 L522.44,639.86 L522.45,638.87 L522.45,637.88 L522.46,636.89 L522.46,635.90 L522.46,634.91 L522.47,633.92 L522.47,632.93 L522.47,631.94 L522.48,630.95 L522.48,629.96 L522.48,628.97 L522.48,627.98 L522.49,626.99 L522.49,626.01 L522.49,625.02 L522.49,624.03 L522.49,623.04 L522.49,622.05 L522.50,621.06 L522.50,620.07 L522.50,619.08 L522.50,618.09 L522.50,617.10 L522.50,616.11 L522.50,615.12 L522.50,614.13 L522.50,613.14 L522.50,613.14 Z" fill="#2f7ed3" stroke="#2b3034" stroke-width="1.0" stroke-linejoin="round"/>
<path d="M522.50,701.23 L522.50,701.23 L522.54,700.24 L522.65,699.25 L522.82,698.26 L523.04,697.27 L523.20,696.63 L523.32,696.28 L523.96,695.29 L524.82,694.30 L525.66,693.31 L526.00,692.80 L526.29,692.32 L526.90,691.33 L527.46,690.34 L527.92,689.35 L528.18,688.36 L528.20,688.21 L528.28,687.37 L528.36,686.38 L528.43,685.39 L528.47,684.40 L528.50,683.41 L528.50,682.84 L528.49,682.42 L528.44,681.43 L528.34,680.44 L528.20,679.45 L528.04,678.46 L527.87,677.47 L527.70,676.48 L527.54,675.49 L527.50,675.18 L527.41,674.50 L527.27,673.51 L527.13,672.52 L526.99,671.53 L526.84,670.54 L526.70,669.56 L526.54,668.57 L526.50,668.29 L526.39,667.58 L526.22,666.59 L526.06,665.60 L525.88,664.61 L525.71,663.62 L525.53,662.63 L525.35,661.64 L525.30,661.40 L525.16,660.65 L524.96,659.66 L524.76,658.67 L524.55,657.68 L524.34,656.69 L524.14,655.70 L523.94,654.71 L523.90,654.50 L523.73,653.72 L523.50,652.73 L523.25,651.74 L523.02,650.75 L522.82,649.76 L522.67,648.77 L522.60,647.78 L522.60,647.61 L522.59,646.79 L522.59,645.80 L522.58,644.81 L522.57,643.82 L522.57,642.83 L522.56,641.84 L522.56,640.85 L522.55,639.86 L522.55,638.87 L522.54,637.88 L522.54,636.89 L522.54,635.90 L522.53,634.91 L522.53,633.92 L522.53,632.93 L522.52,631.94 L522.52,630.95 L522.52,629.96 L522.52,628.97 L522.51,627.98 L522.51,626.99 L522.51,626.01 L522.51,625.02 L522.51,624.03 L522.51,623.04 L522.50,622.05 L522.50,621.06 L522.50,620.07 L522.50,619.08 L522.50,618.09 L522.50,617.10 L522.50,616.11 L522.50,615.12 L522.50,614.13 L522.50,613.14 L522.50,613.14 Z" fill="#e8710a" stroke="#2b3034" stroke-width="1.0" stroke-linejoin="round"/>
<line x1="522.50" y1="707.40" x2="522.50" y2="710.00" stroke="#222" stroke-width="1.0"/>
<text transform="translate(522.50,720.09) rotate(45)" font-family="'Liberation Serif', 'Times New Roman', serif" font-size="10.2" text-anchor="middle" dominant-baseline="central" stroke="#000" stroke-width="0.28" stroke-opacity="0.55">M3</text>
<path d="M547.50,701.23 L547.50,701.23 L547.41,700.24 L547.18,699.25 L546.84,698.26 L546.80,698.16 L545.82,697.27 L543.90,696.28 L542.06,695.29 L541.80,695.10 L540.73,694.30 L539.40,693.31 L538.35,692.32 L537.90,691.33 L537.90,691.27 L538.36,690.34 L539.35,689.35 L539.70,688.97 L540.24,688.36 L541.18,687.37 L542.15,686.38 L543.10,685.39 L543.98,684.40 L544.00,684.38 L544.88,683.41 L545.85,682.42 L546.71,681.43 L547.27,680.44 L547.40,679.78 L547.40,679.45 L547.41,678.46 L547.41,677.47 L547.41,676.48 L547.42,675.49 L547.42,674.50 L547.42,673.51 L547.43,672.52 L547.43,671.53 L547.43,670.54 L547.44,669.56 L547.44,668.57 L547.44,667.58 L547.45,666.59 L547.45,665.60 L547.45,664.61 L547.45,663.62 L547.46,662.63 L547.46,661.64 L547.46,660.65 L547.46,659.66 L547.47,658.67 L547.47,657.68 L547.47,656.69 L547.47,655.70 L547.47,654.71 L547.47,653.72 L547.48,652.73 L547.48,651.74 L547.48,650.75 L547.48,649.76 L547.48,648.77 L547.48,647.78 L547.48,646.79 L547.49,645.80 L547.49,644.81 L547.49,643.82 L547.49,642.83 L547.49,641.84 L547.49,640.85 L547.49,639.86 L547.49,638.87 L547.49,637.88 L547.49,636.89 L547.49,635.90 L547.50,634.91 L547.50,633.92 L547.50,632.93 L547.50,631.94 L547.50,630.95 L547.50,629.96 L547.50,628.97 L547.50,627.98 L547.50,626.99 L547.50,626.01 L547.50,625.02 L547.50,624.03 L547.50,623.04 L547.50,622.05 L547.50,621.06 L547.50,620.07 L547.50,619.08 L547.50,618.09 L547.50,617.10 L547.50,616.11 L547.50,615.12 L547.50,614.13 L547.50,613.14 L547.50,613.14 Z" fill="#2f7ed3" stroke="#2b3034" stroke-width="1.0" stroke-linejoin="round"/>
<path d="M547.50,701.23 L547.50,701.23 L547.53,700.24 L547.61,699.25 L547.75,698.26 L547.90,697.40 L547.93,697.27 L548.61,696.28 L549.47,695.29 L549.60,695.10 L550.12,694.30 L550.76,693.31 L551.28,692.32 L551.50,691.33 L551.50,691.27 L551.35,690.34 L550.97,689.35 L550.55,688.36 L550.30,687.44 L550.29,687.37 L550.16,686.38 L550.05,685.39 L549.95,684.40 L549.87,683.41 L549.80,682.42 L549.73,681.43 L549.68,680.44 L549.62,679.45 L549.60,679.01 L549.57,678.46 L549.53,677.47 L549.49,676.48 L549.45,675.49 L549.42,674.50 L549.39,673.51 L549.35,672.52 L549.32,671.53 L549.29,670.54 L549.25,669.56 L549.21,668.57 L549.20,668.29 L549.17,667.58 L549.12,666.59 L549.08,665.60 L549.03,664.61 L548.99,663.62 L548.94,662.63 L548.88,661.64 L548.82,660.65 L548.76,659.66 L548.69,658.67 L548.61,657.68 L548.60,657.57 L548.50,656.69 L548.34,655.70 L548.15,654.71 L547.96,653.72 L547.78,652.73 L547.66,651.74 L547.60,650.75 L547.60,650.67 L547.59,649.76 L547.59,648.77 L547.58,647.78 L547.58,646.79 L547.57,645.80 L547.57,644.81 L547.56,643.82 L547.56,642.83 L547.55,641.84 L547.55,640.85 L547.54,639.86 L547.54,638.87 L547.54,637.88 L547.53,636.89 L547.53,635.90 L547.53,634.91 L547.52,633.92 L547.52,632.93 L547.52,631.94 L547.52,630.95 L547.51,629.96 L547.51,628.97 L547.51,627.98 L547.51,626.99 L547.51,626.01 L547.51,625.02 L547.51,624.03 L547.50,623.04 L547.50,622.05 L547.50,621.06 L547.50,620.07 L547.50,619.08 L547.50,618.09 L547.50,617.10 L547.50,616.11 L547.50,615.12 L547.50,614.13 L547.50,613.14 L547.50,613.14 Z" fill="#e8710a" stroke="#2b3034" stroke-width="1.0" stroke-linejoin="round"/>
<line x1="547.50" y1="707.40" x2="547.50" y2="710.00" stroke="#222" stroke-width="1.0"/>
<text transform="translate(547.50,720.09) rotate(45)" font-family="'Liberation Serif', 'Times New Roman', serif" font-size="10.2" text-anchor="middle" dominant-baseline="central" stroke="#000" stroke-width="0.28" stroke-opacity="0.55">M4</text>
<path d="M572.50,701.23 L572.50,701.23 L572.49,700.24 L572.48,699.25 L572.45,698.26 L572.41,697.27 L572.36,696.28 L572.30,695.29 L572.23,694.30 L572.15,693.31 L572.10,692.80 L572.03,692.32 L571.72,691.33 L571.26,690.34 L570.72,689.35 L570.17,688.36 L569.70,687.44 L569.67,687.37 L569.21,686.38 L568.74,685.39 L568.26,684.40 L567.78,683.41 L567.31,682.42 L566.84,681.43 L566.39,680.44 L566.10,679.78 L565.96,679.45 L565.50,678.46 L565.04,677.47 L564.59,676.48 L564.16,675.49 L563.78,674.50 L563.46,673.51 L563.30,672.89 L563.22,672.52 L562.99,671.53 L562.77,670.54 L562.57,669.56 L562.42,668.57 L562.33,667.58 L562.30,666.76 L562.30,666.59 L562.37,665.60 L562.52,664.61 L562.74,663.62 L562.98,662.63 L563.24,661.64 L563.30,661.40 L563.51,660.65 L563.84,659.66 L564.22,658.67 L564.64,657.68 L565.09,656.69 L565.55,655.70 L566.01,654.71 L566.10,654.50 L566.49,653.72 L567.06,652.73 L567.67,651.74 L568.28,650.75 L568.84,649.76 L569.32,648.77 L569.66,647.78 L569.70,647.61 L569.88,646.79 L570.07,645.80 L570.23,644.81 L570.38,643.82 L570.50,642.83 L570.62,641.84 L570.73,640.85 L570.84,639.86 L570.95,638.87 L571.07,637.88 L571.10,637.65 L571.20,636.89 L571.34,635.90 L571.48,634.91 L571.62,633.92 L571.77,632.93 L571.90,631.94 L572.03,630.95 L572.15,629.96 L572.25,628.97 L572.32,627.98 L572.38,626.99 L572.40,626.16 L572.40,626.01 L572.42,625.02 L572.43,624.03 L572.44,623.04 L572.45,622.05 L572.46,621.06 L572.47,620.07 L572.48,619.08 L572.48,618.09 L572.49,617.10 L572.49,616.11 L572.50,615.12 L572.50,614.13 L572.50,613.14 L572.50,613.14 Z" fill="#2f7ed3" stroke="#2b3034" stroke-width="1.0" stroke-linejoin="round"/>
<path d="M572.50,701.23 L572.50,701.23 L572.50,700.24 L572.50,699.25 L572.51,698.26 L572.52,697.27 L572.53,696.28 L572.54,695.29 L572.56,694.30 L572.58,693.31 L572.60,692.32 L572.62,691.33 L572.64,690.34 L572.67,689.35 L572.70,688.36 L572.73,687.37 L572.76,686.38 L572.80,685.39 L572.84,684.40 L572.88,683.41 L572.90,682.84 L572.92,682.42 L573.01,681.43 L573.13,680.44 L573.29,679.45 L573.46,678.46 L573.64,677.47 L573.81,676.48 L573.90,675.95 L573.97,675.49 L574.14,674.50 L574.31,673.51 L574.49,672.52 L574.67,671.53 L574.86,670.54 L575.05,669.56 L575.25,668.57 L575.30,668.29 L575.44,667.58 L575.64,666.59 L575.84,665.60 L576.05,664.61 L576.27,663.62 L576.50,662.63 L576.74,661.64 L576.80,661.40 L577.00,660.65 L577.28,659.66 L577.58,658.67 L577.89,657.68 L578.21,656.69 L578.53,655.70 L578.84,654.71 L578.90,654.50 L579.14,653.72 L579.47,652.73 L579.79,651.74 L580.12,650.75 L580.43,649.76 L580.71,648.77 L580.96,647.78 L581.00,647.61 L581.19,646.79 L581.43,645.80 L581.66,644.81 L581.87,643.82 L582.02,642.83 L582.09,641.84 L582.10,641.48 L582.07,640.85 L581.92,639.86 L581.65,638.87 L581.29,637.88 L580.86,636.89 L580.38,635.90 L579.87,634.91 L579.35,633.92 L578.90,633.05 L578.84,632.93 L578.24,631.94 L577.51,630.95 L576.71,629.96 L575.89,628.97 L575.10,627.98 L574.39,626.99 L573.90,626.16 L573.82,626.01 L573.26,625.02 L572.80,624.03 L572.60,623.10 L572.60,623.04 L572.58,622.05 L572.56,621.06 L572.54,620.07 L572.53,619.08 L572.52,618.09 L572.51,617.10 L572.51,616.11 L572.50,615.12 L572.50,614.13 L572.50,613.14 L572.50,613.14 Z" fill="#e8710a" stroke="#2b3034" stroke-width="1.0" stroke-linejoin="round"/>
<line x1="572.50" y1="707.40" x2="572.50" y2="710.00" stroke="#222" stroke-width="1.0"/>
<text transform="translate(572.50,720.09) rotate(45)" font-family="'Liberation Serif', 'Times New Roman', serif" font-size="10.2" text-anchor="middle" dominant-baseline="central" stroke="#000" stroke-width="0.28" stroke-opacity="0.55">M5</text>
<path d="M597.50,701.99 L597.50,701.99 L597.46,700.99 L597.36,699.99 L597.19,698.99 L596.96,697.99 L596.80,697.40 L596.56,696.98 L595.21,695.98 L593.46,694.98 L592.50,694.33 L592.05,693.98 L590.65,692.98 L589.27,691.98 L588.18,690.97 L587.62,689.97 L587.60,689.74 L587.86,688.97 L588.61,687.97 L589.00,687.44 L589.31,686.97 L589.98,685.96 L590.69,684.96 L591.40,683.96 L592.10,682.96 L592.78,681.96 L593.20,681.31 L593.43,680.96 L594.14,679.95 L594.86,678.95 L595.52,677.95 L596.06,676.95 L596.40,675.95 L596.40,675.95 L596.62,674.94 L596.81,673.94 L596.99,672.94 L597.13,671.94 L597.25,670.94 L597.34,669.94 L597.39,668.93 L597.40,668.29 L597.40,667.93 L597.41,666.93 L597.41,665.93 L597.42,664.93 L597.42,663.92 L597.42,662.92 L597.43,661.92 L597.43,660.92 L597.43,659.92 L597.44,658.92 L597.44,657.91 L597.44,656.91 L597.45,655.91 L597.45,654.91 L597.45,653.91 L597.46,652.90 L597.46,651.90 L597.46,650.90 L597.46,649.90 L597.47,648.90 L597.47,647.90 L597.47,646.89 L597.47,645.89 L597.48,644.89 L597.48,643.89 L597.48,642.89 L597.48,641.88 L597.48,640.88 L597.48,639.88 L597.49,638.88 L597.49,637.88 L597.49,636.88 L597.49,635.87 L597.49,634.87 L597.49,633.87 L597.49,632.87 L597.49,631.87 L597.49,630.86 L597.49,629.86 L597.50,628.86 L597.50,627.86 L597.50,626.86 L597.50,625.86 L597.50,624.85 L597.50,623.85 L597.50,622.85 L597.50,621.85 L597.50,620.85 L597.50,619.84 L597.50,618.84 L597.50,617.84 L597.50,616.84 L597.50,615.84 L597.50,614.84 L597.50,613.83 L597.50,612.83 L597.50,612.83 Z" fill="#2f7ed3" stroke="#2b3034" stroke-width="1.0" stroke-linejoin="round"/>
<path d="M597.50,701.99 L597.50,701.99 L597.53,700.99 L597.59,699.99 L597.68,698.99 L597.80,697.99 L597.93,696.98 L598.07,695.98 L598.20,695.10 L598.22,694.98 L598.44,693.98 L598.74,692.98 L599.06,691.98 L599.36,690.97 L599.57,689.97 L599.60,689.74 L599.68,688.97 L599.77,687.97 L599.85,686.97 L599.91,685.96 L599.97,684.96 L600.00,684.38 L600.02,683.96 L600.07,682.96 L600.11,681.96 L600.14,680.96 L600.18,679.95 L600.21,678.95 L600.24,677.95 L600.27,676.95 L600.30,675.95 L600.30,675.95 L600.33,674.94 L600.37,673.94 L600.40,672.94 L600.44,671.94 L600.47,670.94 L600.50,669.94 L600.53,668.93 L600.56,667.93 L600.58,666.93 L600.59,665.93 L600.60,664.93 L600.60,664.46 L600.59,663.92 L600.55,662.92 L600.48,661.92 L600.38,660.92 L600.26,659.92 L600.13,658.92 L599.99,657.91 L599.86,656.91 L599.74,655.91 L599.64,654.91 L599.60,654.50 L599.55,653.91 L599.48,652.90 L599.42,651.90 L599.36,650.90 L599.30,649.90 L599.24,648.90 L599.18,647.90 L599.11,646.89 L599.03,645.89 L598.94,644.89 L598.90,644.54 L598.81,643.89 L598.61,642.89 L598.37,641.88 L598.11,640.88 L597.88,639.88 L597.70,638.88 L597.61,637.88 L597.60,637.65 L597.59,636.88 L597.58,635.87 L597.58,634.87 L597.57,633.87 L597.56,632.87 L597.55,631.87 L597.55,630.86 L597.54,629.86 L597.54,628.86 L597.53,627.86 L597.53,626.86 L597.52,625.86 L597.52,624.85 L597.52,623.85 L597.51,622.85 L597.51,621.85 L597.51,620.85 L597.51,619.84 L597.50,618.84 L597.50,617.84 L597.50,616.84 L597.50,615.84 L597.50,614.84 L597.50,613.83 L597.50,612.83 L597.50,612.83 Z" fill="#e8710a" stroke="#2b3034" stroke-width="1.0" stroke-linejoin="round"/>
<line x1="597.50" y1="707.40" x2="597.50" y2="710.00" stroke="#222" stroke-width="1.0"/>
<text transform="translate(597.50,720.09) rotate(45)" font-family="'Liberation Serif', 'Times New Roman', serif" font-size="10.2" text-anchor="middle" dominant-baseline="central" stroke="#000" stroke-width="0.28" stroke-opacity="0.55">M6</text>
<path d="M622.50,701.99 L622.50,701.99 L622.49,700.99 L622.47,699.98 L622.43,698.97 L622.37,697.97 L622.31,696.96 L622.24,695.95 L622.15,694.95 L622.06,693.94 L621.97,692.93 L621.87,691.92 L621.80,691.27 L621.76,690.92 L621.62,689.91 L621.43,688.90 L621.22,687.90 L620.99,686.89 L620.75,685.88 L620.52,684.88 L620.40,684.38 L620.28,683.87 L620.02,682.86 L619.73,681.85 L619.44,680.85 L619.14,679.84 L618.85,678.83 L618.59,677.83 L618.36,676.82 L618.20,675.95 L618.18,675.81 L618.01,674.81 L617.84,673.80 L617.68,672.79 L617.52,671.78 L617.38,670.78 L617.27,669.77 L617.18,668.76 L617.12,667.76 L617.10,666.76 L617.10,666.75 L617.16,665.74 L617.33,664.74 L617.57,663.73 L617.85,662.72 L618.12,661.71 L618.20,661.40 L618.38,660.71 L618.69,659.70 L619.04,658.69 L619.39,657.69 L619.74,656.68 L620.07,655.67 L620.36,654.67 L620.40,654.50 L620.61,653.66 L620.86,652.65 L621.09,651.64 L621.31,650.64 L621.51,649.63 L621.67,648.62 L621.80,647.62 L621.80,647.61 L621.91,646.61 L622.01,645.60 L622.10,644.60 L622.19,643.59 L622.26,642.58 L622.32,641.57 L622.37,640.57 L622.40,639.56 L622.40,639.18 L622.41,638.55 L622.41,637.55 L622.42,636.54 L622.43,635.53 L622.43,634.53 L622.44,633.52 L622.45,632.51 L622.45,631.50 L622.46,630.50 L622.46,629.49 L622.47,628.48 L622.47,627.48 L622.48,626.47 L622.48,625.46 L622.48,624.46 L622.49,623.45 L622.49,622.44 L622.49,621.43 L622.49,620.43 L622.49,619.42 L622.50,618.41 L622.50,617.41 L622.50,616.40 L622.50,615.39 L622.50,614.39 L622.50,613.38 L622.50,612.37 L622.50,612.37 Z" fill="#2f7ed3" stroke="#2b3034" stroke-width="1.0" stroke-linejoin="round"/>
<path d="M622.50,701.99 L622.50,701.99 L622.54,700.99 L622.67,699.98 L622.89,698.97 L622.90,698.93 L623.99,697.97 L626.00,697.01 L626.13,696.96 L630.37,695.95 L632.70,695.10 L632.69,694.95 L632.29,693.94 L631.47,692.93 L630.47,691.92 L629.55,690.92 L628.95,689.91 L628.90,689.74 L628.73,688.90 L628.58,687.90 L628.46,686.89 L628.33,685.88 L628.20,685.14 L628.14,684.88 L627.90,683.87 L627.60,682.86 L627.27,681.85 L626.92,680.85 L626.55,679.84 L626.20,678.83 L626.00,678.25 L625.86,677.83 L625.49,676.82 L625.10,675.81 L624.70,674.81 L624.33,673.80 L623.99,672.79 L623.70,671.78 L623.60,671.35 L623.47,670.78 L623.24,669.77 L623.03,668.76 L622.84,667.76 L622.70,666.75 L622.61,665.74 L622.60,665.23 L622.60,664.74 L622.59,663.73 L622.59,662.72 L622.58,661.71 L622.58,660.71 L622.57,659.70 L622.57,658.69 L622.57,657.69 L622.56,656.68 L622.56,655.67 L622.56,654.67 L622.55,653.66 L622.55,652.65 L622.55,651.64 L622.54,650.64 L622.54,649.63 L622.54,648.62 L622.53,647.62 L622.53,646.61 L622.53,645.60 L622.53,644.60 L622.53,643.59 L622.52,642.58 L622.52,641.57 L622.52,640.57 L622.52,639.56 L622.52,638.55 L622.51,637.55 L622.51,636.54 L622.51,635.53 L622.51,634.53 L622.51,633.52 L622.51,632.51 L622.51,631.50 L622.51,630.50 L622.51,629.49 L622.50,628.48 L622.50,627.48 L622.50,626.47 L622.50,625.46 L622.50,624.46 L622.50,623.45 L622.50,622.44 L622.50,621.43 L622.50,620.43 L622.50,619.42 L622.50,618.41 L622.50,617.41 L622.50,616.40 L622.50,615.39 L622.50,614.39 L622.50,613.38 L622.50,612.37 L622.50,612.37 Z" fill="#e8710a" stroke="#2b3034" stroke-width="1.0" stroke-linejoin="round"/>
<line x1="622.50" y1="707.40" x2="622.50" y2="710.00" stroke="#222" stroke-width="1.0"/>
<text transform="translate(622.50,720.09) rotate(45)" font-family="'Liberation Serif', 'Times New Roman', serif" font-size="10.2" text-anchor="middle" dominant-baseline="central" stroke="#000" stroke-width="0.28" stroke-opacity="0.55">M7</text>
<path d="M647.50,702.76 L647.50,702.76 L647.49,701.73 L647.46,700.69 L647.40,699.66 L647.33,698.63 L647.25,697.60 L647.15,696.56 L647.05,695.53 L647.00,695.10 L646.91,694.50 L646.65,693.46 L646.30,692.43 L645.92,691.40 L645.53,690.37 L645.20,689.33 L645.10,688.97 L644.92,688.30 L644.64,687.27 L644.35,686.24 L644.07,685.20 L643.83,684.17 L643.65,683.14 L643.53,682.10 L643.50,681.31 L643.50,681.07 L643.53,680.04 L643.60,679.01 L643.69,677.97 L643.81,676.94 L643.95,675.91 L644.11,674.87 L644.27,673.84 L644.44,672.81 L644.61,671.78 L644.77,670.74 L644.92,669.71 L645.06,668.68 L645.10,668.29 L645.17,667.64 L645.29,666.61 L645.41,665.58 L645.53,664.55 L645.65,663.51 L645.77,662.48 L645.89,661.45 L646.00,660.41 L646.11,659.38 L646.22,658.35 L646.32,657.32 L646.42,656.28 L646.51,655.25 L646.59,654.22 L646.66,653.19 L646.70,652.59 L646.73,652.15 L646.79,651.12 L646.85,650.09 L646.92,649.05 L646.98,648.02 L647.04,646.99 L647.09,645.96 L647.15,644.92 L647.20,643.89 L647.24,642.86 L647.28,641.82 L647.32,640.79 L647.35,639.76 L647.37,638.73 L647.39,637.69 L647.40,636.88 L647.40,636.66 L647.41,635.63 L647.42,634.59 L647.42,633.56 L647.43,632.53 L647.44,631.50 L647.44,630.46 L647.45,629.43 L647.45,628.40 L647.46,627.36 L647.46,626.33 L647.47,625.30 L647.47,624.27 L647.48,623.23 L647.48,622.20 L647.48,621.17 L647.49,620.14 L647.49,619.10 L647.49,618.07 L647.49,617.04 L647.50,616.00 L647.50,614.97 L647.50,613.94 L647.50,612.91 L647.50,611.87 L647.50,610.84 L647.50,610.84 Z" fill="#2f7ed3" stroke="#2b3034" stroke-width="1.0" stroke-linejoin="round"/>
<path d="M647.50,702.76 L647.50,702.76 L647.56,701.73 L647.74,700.69 L648.03,699.66 L648.30,698.93 L648.52,698.63 L650.32,697.60 L652.30,696.63 L652.42,696.56 L654.57,695.53 L656.61,694.50 L657.40,693.57 L657.40,693.46 L656.98,692.43 L656.18,691.40 L655.50,690.50 L655.41,690.37 L654.73,689.33 L654.01,688.30 L653.30,687.27 L652.61,686.24 L651.96,685.20 L651.50,684.38 L651.39,684.17 L650.85,683.14 L650.32,682.10 L649.83,681.07 L649.39,680.04 L649.02,679.01 L648.80,678.25 L648.73,677.97 L648.47,676.94 L648.22,675.91 L648.00,674.87 L647.82,673.84 L647.68,672.81 L647.61,671.78 L647.60,671.35 L647.60,670.74 L647.59,669.71 L647.59,668.68 L647.58,667.64 L647.58,666.61 L647.58,665.58 L647.57,664.55 L647.57,663.51 L647.57,662.48 L647.56,661.45 L647.56,660.41 L647.56,659.38 L647.55,658.35 L647.55,657.32 L647.55,656.28 L647.54,655.25 L647.54,654.22 L647.54,653.19 L647.54,652.15 L647.53,651.12 L647.53,650.09 L647.53,649.05 L647.53,648.02 L647.53,646.99 L647.52,645.96 L647.52,644.92 L647.52,643.89 L647.52,642.86 L647.52,641.82 L647.52,640.79 L647.51,639.76 L647.51,638.73 L647.51,637.69 L647.51,636.66 L647.51,635.63 L647.51,634.59 L647.51,633.56 L647.51,632.53 L647.51,631.50 L647.51,630.46 L647.51,629.43 L647.50,628.40 L647.50,627.36 L647.50,626.33 L647.50,625.30 L647.50,624.27 L647.50,623.23 L647.50,622.20 L647.50,621.17 L647.50,620.14 L647.50,619.10 L647.50,618.07 L647.50,617.04 L647.50,616.00 L647.50,614.97 L647.50,613.94 L647.50,612.91 L647.50,611.87 L647.50,610.84 L647.50,610.84 Z" fill="#e8710a" stroke="#2b3034" stroke-width="1.0" stroke-linejoin="round"/>
<line x1="647.50" y1="707.40" x2="647.50" y2="710.00" stroke="#222" stroke-width="1.0"/>
<text transform="translate(647.50,720.09) rotate(45)" font-family="'Liberation Serif', 'Times New Roman', serif" font-size="10.2" text-anchor="middle" dominant-baseline="central" stroke="#000" stroke-width="0.28" stroke-opacity="0.55">M8</text>
<path d="M672.50,699.70 L672.50,699.70 L672.18,698.73 L671.74,697.77 L671.21,696.80 L670.60,695.84 L670.10,695.10 L669.93,694.88 L668.99,693.91 L667.84,692.95 L666.68,691.98 L665.69,691.02 L665.30,690.50 L665.02,690.06 L664.41,689.09 L663.83,688.13 L663.33,687.16 L662.93,686.20 L662.68,685.24 L662.60,684.38 L662.60,684.27 L662.78,683.31 L663.20,682.34 L663.79,681.38 L664.48,680.42 L665.22,679.45 L665.92,678.49 L666.52,677.53 L666.90,676.72 L666.96,676.56 L667.30,675.60 L667.61,674.63 L667.90,673.67 L668.17,672.71 L668.42,671.74 L668.67,670.78 L668.91,669.81 L669.15,668.85 L669.30,668.29 L669.41,667.89 L669.67,666.92 L669.93,665.96 L670.19,664.99 L670.44,664.03 L670.67,663.07 L670.90,662.10 L671.10,661.14 L671.20,660.63 L671.29,660.17 L671.48,659.21 L671.67,658.25 L671.86,657.28 L672.03,656.32 L672.18,655.35 L672.30,654.39 L672.37,653.43 L672.40,652.59 L672.40,652.46 L672.41,651.50 L672.41,650.53 L672.42,649.57 L672.42,648.61 L672.43,647.64 L672.43,646.68 L672.44,645.71 L672.44,644.75 L672.45,643.79 L672.45,642.82 L672.45,641.86 L672.46,640.89 L672.46,639.93 L672.47,638.97 L672.47,638.00 L672.47,637.04 L672.47,636.07 L672.48,635.11 L672.48,634.15 L672.48,633.18 L672.48,632.22 L672.49,631.26 L672.49,630.29 L672.49,629.33 L672.49,628.36 L672.49,627.40 L672.49,626.44 L672.49,625.47 L672.50,624.51 L672.50,623.54 L672.50,622.58 L672.50,621.62 L672.50,620.65 L672.50,619.69 L672.50,618.72 L672.50,617.76 L672.50,616.80 L672.50,615.83 L672.50,614.87 L672.50,613.90 L672.50,613.90 Z" fill="#2f7ed3" stroke="#2b3034" stroke-width="1.0" stroke-linejoin="round"/>
<path d="M672.50,699.70 L672.50,699.70 L672.71,698.73 L673.00,697.77 L673.36,696.80 L673.76,695.84 L674.10,695.10 L674.21,694.88 L674.83,693.91 L675.60,692.95 L676.37,691.98 L677.03,691.02 L677.30,690.50 L677.50,690.06 L677.92,689.09 L678.32,688.13 L678.68,687.16 L678.96,686.20 L679.14,685.24 L679.20,684.38 L679.20,684.27 L679.18,683.31 L679.13,682.34 L679.05,681.38 L678.95,680.42 L678.84,679.45 L678.72,678.49 L678.60,677.53 L678.50,676.72 L678.48,676.56 L678.35,675.60 L678.20,674.63 L678.04,673.67 L677.86,672.71 L677.68,671.74 L677.49,670.78 L677.30,669.81 L677.11,668.85 L677.00,668.29 L676.92,667.89 L676.73,666.92 L676.54,665.96 L676.35,664.99 L676.15,664.03 L675.94,663.07 L675.73,662.10 L675.52,661.14 L675.40,660.63 L675.29,660.17 L675.03,659.21 L674.75,658.25 L674.45,657.28 L674.16,656.32 L673.89,655.35 L673.64,654.39 L673.43,653.43 L673.30,652.59 L673.28,652.46 L673.16,651.50 L673.04,650.53 L672.93,649.57 L672.83,648.61 L672.74,647.64 L672.68,646.68 L672.63,645.71 L672.60,644.75 L672.60,644.54 L672.59,643.79 L672.59,642.82 L672.58,641.86 L672.57,640.89 L672.57,639.93 L672.56,638.97 L672.56,638.00 L672.55,637.04 L672.55,636.07 L672.54,635.11 L672.54,634.15 L672.53,633.18 L672.53,632.22 L672.53,631.26 L672.52,630.29 L672.52,629.33 L672.52,628.36 L672.52,627.40 L672.51,626.44 L672.51,625.47 L672.51,624.51 L672.51,623.54 L672.51,622.58 L672.50,621.62 L672.50,620.65 L672.50,619.69 L672.50,618.72 L672.50,617.76 L672.50,616.80 L672.50,615.83 L672.50,614.87 L672.50,613.90 L672.50,613.90 Z" fill="#e8710a" stroke="#2b3034" stroke-width="1.0" stroke-linejoin="round"/>
<line x1="672.50" y1="707.40" x2="672.50" y2="710.00" stroke="#222" stroke-width="1.0"/>
<text transform="translate(672.50,720.09) rotate(45)" font-family="'Liberation Serif', 'Times New Roman', serif" font-size="10.2" text-anchor="middle" dominant-baseline="central" stroke="#000" stroke-width="0.28" stroke-opacity="0.55">M9</text>
<path d="M697.50,698.93 L697.50,698.93 L697.39,697.98 L697.27,697.04 L697.14,696.09 L697.01,695.14 L697.00,695.10 L696.83,694.20 L696.70,693.25 L696.70,693.19 L696.88,692.30 L697.23,691.36 L697.40,690.50 L697.40,690.41 L697.40,689.46 L697.41,688.52 L697.41,687.57 L697.41,686.62 L697.42,685.68 L697.42,684.73 L697.42,683.78 L697.43,682.84 L697.43,681.89 L697.43,680.94 L697.43,680.00 L697.44,679.05 L697.44,678.10 L697.44,677.15 L697.44,676.21 L697.45,675.26 L697.45,674.31 L697.45,673.37 L697.45,672.42 L697.46,671.47 L697.46,670.53 L697.46,669.58 L697.46,668.63 L697.46,667.69 L697.47,666.74 L697.47,665.79 L697.47,664.85 L697.47,663.90 L697.47,662.95 L697.47,662.01 L697.48,661.06 L697.48,660.11 L697.48,659.17 L697.48,658.22 L697.48,657.27 L697.48,656.33 L697.48,655.38 L697.48,654.43 L697.48,653.49 L697.49,652.54 L697.49,651.59 L697.49,650.65 L697.49,649.70 L697.49,648.75 L697.49,647.81 L697.49,646.86 L697.49,645.91 L697.49,644.97 L697.49,644.02 L697.49,643.07 L697.49,642.13 L697.49,641.18 L697.50,640.23 L697.50,639.29 L697.50,638.34 L697.50,637.39 L697.50,636.45 L697.50,635.50 L697.50,634.55 L697.50,633.60 L697.50,632.66 L697.50,631.71 L697.50,630.76 L697.50,629.82 L697.50,628.87 L697.50,627.92 L697.50,626.98 L697.50,626.03 L697.50,625.08 L697.50,624.14 L697.50,623.19 L697.50,622.24 L697.50,621.30 L697.50,620.35 L697.50,619.40 L697.50,618.46 L697.50,617.51 L697.50,616.56 L697.50,615.62 L697.50,614.67 L697.50,614.67 Z" fill="#2f7ed3" stroke="#2b3034" stroke-width="1.0" stroke-linejoin="round"/>
<path d="M697.50,698.93 L697.50,698.93 L697.51,697.98 L697.54,697.04 L697.60,696.25 L697.72,696.09 L699.50,695.48 L703.25,695.14 L707.50,694.72 L701.78,694.20 L699.50,693.95 L697.92,693.25 L697.60,692.80 L697.60,692.30 L697.59,691.36 L697.59,690.41 L697.59,689.46 L697.58,688.52 L697.58,687.57 L697.58,686.62 L697.58,685.68 L697.57,684.73 L697.57,683.78 L697.57,682.84 L697.56,681.89 L697.56,680.94 L697.56,680.00 L697.56,679.05 L697.55,678.10 L697.55,677.15 L697.55,676.21 L697.55,675.26 L697.55,674.31 L697.54,673.37 L697.54,672.42 L697.54,671.47 L697.54,670.53 L697.54,669.58 L697.53,668.63 L697.53,667.69 L697.53,666.74 L697.53,665.79 L697.53,664.85 L697.53,663.90 L697.52,662.95 L697.52,662.01 L697.52,661.06 L697.52,660.11 L697.52,659.17 L697.52,658.22 L697.52,657.27 L697.52,656.33 L697.51,655.38 L697.51,654.43 L697.51,653.49 L697.51,652.54 L697.51,651.59 L697.51,650.65 L697.51,649.70 L697.51,648.75 L697.51,647.81 L697.51,646.86 L697.51,645.91 L697.51,644.97 L697.51,644.02 L697.51,643.07 L697.50,642.13 L697.50,641.18 L697.50,640.23 L697.50,639.29 L697.50,638.34 L697.50,637.39 L697.50,636.45 L697.50,635.50 L697.50,634.55 L697.50,633.60 L697.50,632.66 L697.50,631.71 L697.50,630.76 L697.50,629.82 L697.50,628.87 L697.50,627.92 L697.50,626.98 L697.50,626.03 L697.50,625.08 L697.50,624.14 L697.50,623.19 L697.50,622.24 L697.50,621.30 L697.50,620.35 L697.50,619.40 L697.50,618.46 L697.50,617.51 L697.50,616.56 L697.50,615.62 L697.50,614.67 L697.50,614.67 Z" fill="#e8710a" stroke="#2b3034" stroke-width="1.0" stroke-linejoin="round"/>
<line x1="697.50" y1="707.40" x2="697.50" y2="710.00" stroke="#222" stroke-width="1.0"/>
<text transform="translate(697.50,721.90) rotate(45)" font-family="'Liberation Serif', 'Times New Roman', serif" font-size="10.2" text-anchor="middle" dominant-baseline="central" stroke="#000" stroke-width="0.28" stroke-opacity="0.55">M10</text>
<path d="M722.50,701.99 L722.50,701.99 L722.50,700.99 L722.49,699.98 L722.48,698.97 L722.46,697.97 L722.45,696.96 L722.42,695.95 L722.40,695.10 L722.39,694.95 L722.31,693.94 L722.16,692.93 L721.97,691.92 L721.77,690.92 L721.70,690.50 L721.60,689.91 L721.41,688.90 L721.22,687.90 L721.02,686.89 L720.81,685.88 L720.58,684.88 L720.35,683.87 L720.10,682.86 L720.10,682.84 L719.83,681.85 L719.50,680.85 L719.15,679.84 L718.80,678.83 L718.45,677.83 L718.12,676.82 L717.84,675.81 L717.70,675.18 L717.62,674.81 L717.40,673.80 L717.19,672.79 L716.98,671.78 L716.80,670.78 L716.65,669.77 L716.55,668.76 L716.50,667.76 L716.50,667.52 L716.51,666.75 L716.55,665.74 L716.62,664.74 L716.72,663.73 L716.83,662.72 L716.97,661.71 L717.11,660.71 L717.26,659.70 L717.41,658.69 L717.57,657.69 L717.70,656.80 L717.72,656.68 L717.88,655.67 L718.06,654.67 L718.26,653.66 L718.48,652.65 L718.70,651.64 L718.93,650.64 L719.16,649.63 L719.39,648.62 L719.62,647.62 L719.84,646.61 L720.04,645.60 L720.10,645.31 L720.24,644.60 L720.46,643.59 L720.68,642.58 L720.92,641.57 L721.15,640.57 L721.38,639.56 L721.60,638.55 L721.80,637.55 L721.98,636.54 L722.14,635.53 L722.26,634.53 L722.35,633.52 L722.40,632.51 L722.40,632.29 L722.41,631.50 L722.42,630.50 L722.43,629.49 L722.44,628.48 L722.44,627.48 L722.45,626.47 L722.46,625.46 L722.46,624.46 L722.47,623.45 L722.48,622.44 L722.48,621.43 L722.48,620.43 L722.49,619.42 L722.49,618.41 L722.49,617.41 L722.50,616.40 L722.50,615.39 L722.50,614.39 L722.50,613.38 L722.50,612.37 L722.50,612.37 Z" fill="#2f7ed3" stroke="#2b3034" stroke-width="1.0" stroke-linejoin="round"/>
<path d="M722.50,701.99 L722.50,701.99 L722.69,700.99 L723.15,699.98 L723.30,699.70 L723.91,698.97 L725.28,697.97 L726.83,696.96 L727.30,696.63 L728.40,695.95 L730.33,694.95 L732.04,693.94 L732.89,692.93 L732.90,692.80 L732.74,691.92 L732.23,690.92 L731.51,689.91 L730.72,688.90 L729.98,687.90 L729.70,687.44 L729.39,686.89 L728.83,685.88 L728.27,684.88 L727.73,683.87 L727.21,682.86 L726.74,681.85 L726.50,681.31 L726.30,680.85 L725.88,679.84 L725.47,678.83 L725.08,677.83 L724.71,676.82 L724.38,675.81 L724.08,674.81 L723.83,673.80 L723.80,673.65 L723.61,672.79 L723.39,671.78 L723.18,670.78 L722.99,669.77 L722.82,668.76 L722.70,667.76 L722.62,666.75 L722.60,665.99 L722.60,665.74 L722.59,664.74 L722.59,663.73 L722.58,662.72 L722.58,661.71 L722.58,660.71 L722.57,659.70 L722.57,658.69 L722.56,657.69 L722.56,656.68 L722.56,655.67 L722.55,654.67 L722.55,653.66 L722.55,652.65 L722.54,651.64 L722.54,650.64 L722.54,649.63 L722.54,648.62 L722.53,647.62 L722.53,646.61 L722.53,645.60 L722.53,644.60 L722.53,643.59 L722.52,642.58 L722.52,641.57 L722.52,640.57 L722.52,639.56 L722.52,638.55 L722.51,637.55 L722.51,636.54 L722.51,635.53 L722.51,634.53 L722.51,633.52 L722.51,632.51 L722.51,631.50 L722.51,630.50 L722.51,629.49 L722.51,628.48 L722.50,627.48 L722.50,626.47 L722.50,625.46 L722.50,624.46 L722.50,623.45 L722.50,622.44 L722.50,621.43 L722.50,620.43 L722.50,619.42 L722.50,618.41 L722.50,617.41 L722.50,616.40 L722.50,615.39 L722.50,614.39 L722.50,613.38 L722.50,612.37 L722.50,612.37 Z" fill="#e8710a" stroke="#2b3034" stroke-width="1.0" stroke-linejoin="round"/>
<line x1="722.50" y1="707.40" x2="722.50" y2="710.00" stroke="#222" stroke-width="1.0"/>
<text transform="translate(722.50,721.75) rotate(45)" font-family="'Liberation Serif', 'Times New Roman', serif" font-size="10.2" text-anchor="middle" dominant-baseline="central" stroke="#000" stroke-width="0.28" stroke-opacity="0.55">M11</text>
<path d="M747.50,702.76 L747.50,702.76 L747.49,701.73 L747.45,700.69 L747.40,699.66 L747.34,698.63 L747.27,697.60 L747.20,696.63 L747.19,696.56 L747.06,695.53 L746.88,694.50 L746.73,693.46 L746.70,692.80 L746.70,692.43 L746.75,691.40 L746.82,690.37 L746.90,689.33 L746.97,688.30 L747.00,687.44 L747.00,687.27 L747.02,686.24 L747.04,685.20 L747.05,684.17 L747.07,683.14 L747.08,682.10 L747.09,681.07 L747.11,680.04 L747.12,679.01 L747.13,677.97 L747.14,676.94 L747.16,675.91 L747.17,674.87 L747.18,673.84 L747.19,672.81 L747.20,671.78 L747.20,670.74 L747.21,669.71 L747.22,668.68 L747.23,667.64 L747.24,666.61 L747.24,665.58 L747.25,664.55 L747.26,663.51 L747.26,662.48 L747.27,661.45 L747.28,660.41 L747.28,659.38 L747.29,658.35 L747.29,657.32 L747.30,656.28 L747.30,655.25 L747.31,654.22 L747.31,653.19 L747.32,652.15 L747.32,651.12 L747.33,650.09 L747.33,649.05 L747.34,648.02 L747.34,646.99 L747.34,645.96 L747.35,644.92 L747.35,643.89 L747.36,642.86 L747.36,641.82 L747.37,640.79 L747.37,639.76 L747.38,638.73 L747.38,637.69 L747.39,636.66 L747.39,635.63 L747.40,634.59 L747.40,633.82 L747.40,633.56 L747.41,632.53 L747.41,631.50 L747.42,630.46 L747.42,629.43 L747.43,628.40 L747.43,627.36 L747.44,626.33 L747.44,625.30 L747.45,624.27 L747.45,623.23 L747.46,622.20 L747.46,621.17 L747.46,620.14 L747.47,619.10 L747.47,618.07 L747.48,617.04 L747.48,616.00 L747.49,614.97 L747.49,613.94 L747.49,612.91 L747.50,611.87 L747.50,610.84 L747.50,610.84 Z" fill="#2f7ed3" stroke="#2b3034" stroke-width="1.0" stroke-linejoin="round"/>
<path d="M747.50,702.76 L747.50,702.76 L747.50,701.73 L747.51,700.69 L747.53,699.66 L747.55,698.63 L747.59,697.60 L747.60,697.40 L748.27,696.56 L749.50,695.87 L750.92,695.53 L757.47,694.50 L757.70,694.33 L753.10,693.46 L749.50,692.80 L748.98,692.43 L747.92,691.40 L747.60,690.50 L747.60,690.37 L747.60,689.33 L747.59,688.30 L747.59,687.27 L747.59,686.24 L747.58,685.20 L747.58,684.17 L747.58,683.14 L747.57,682.10 L747.57,681.07 L747.57,680.04 L747.56,679.01 L747.56,677.97 L747.56,676.94 L747.56,675.91 L747.55,674.87 L747.55,673.84 L747.55,672.81 L747.55,671.78 L747.54,670.74 L747.54,669.71 L747.54,668.68 L747.54,667.64 L747.54,666.61 L747.53,665.58 L747.53,664.55 L747.53,663.51 L747.53,662.48 L747.53,661.45 L747.53,660.41 L747.52,659.38 L747.52,658.35 L747.52,657.32 L747.52,656.28 L747.52,655.25 L747.52,654.22 L747.52,653.19 L747.52,652.15 L747.51,651.12 L747.51,650.09 L747.51,649.05 L747.51,648.02 L747.51,646.99 L747.51,645.96 L747.51,644.92 L747.51,643.89 L747.51,642.86 L747.51,641.82 L747.51,640.79 L747.51,639.76 L747.51,638.73 L747.50,637.69 L747.50,636.66 L747.50,635.63 L747.50,634.59 L747.50,633.56 L747.50,632.53 L747.50,631.50 L747.50,630.46 L747.50,629.43 L747.50,628.40 L747.50,627.36 L747.50,626.33 L747.50,625.30 L747.50,624.27 L747.50,623.23 L747.50,622.20 L747.50,621.17 L747.50,620.14 L747.50,619.10 L747.50,618.07 L747.50,617.04 L747.50,616.00 L747.50,614.97 L747.50,613.94 L747.50,612.91 L747.50,611.87 L747.50,610.84 L747.50,610.84 Z" fill="#e8710a" stroke="#2b3034" stroke-width="1.0" stroke-linejoin="round"/>
<line x1="747.50" y1="707.40" x2="747.50" y2="710.00" stroke="#222" stroke-width="1.0"/>
<text transform="translate(747.50,721.90) rotate(45)" font-family="'Liberation Serif', 'Times New Roman', serif" font-size="10.2" text-anchor="middle" dominant-baseline="central" stroke="#000" stroke-width="0.28" stroke-opacity="0.55">M12</text>
<rect x="459.50" y="606.40" width="300.60" height="101.00" fill="none" stroke="#333" stroke-width="0.9"/>
<line x1="456.90" y1="695.10" x2="459.50" y2="695.10" stroke="#222" stroke-width="1.0"/>
<text x="456" y="698.4" font-size="9.5" text-anchor="end" font-weight="normal" font-family="'Liberation Serif', 'Times New Roman', serif" stroke="#000" stroke-width="0.28" stroke-opacity="0.55" >0.0</text>
<line x1="456.90" y1="656.80" x2="459.50" y2="656.80" stroke="#222" stroke-width="1.0"/>
<text x="456" y="660.1" font-size="9.5" text-anchor="end" font-weight="normal" font-family="'Liberation Serif', 'Times New Roman', serif" stroke="#000" stroke-width="0.28" stroke-opacity="0.55" >0.5</text>
<line x1="456.90" y1="618.50" x2="459.50" y2="618.50" stroke="#222" stroke-width="1.0"/>
<text x="456" y="621.8" font-size="9.5" text-anchor="end" font-weight="normal" font-family="'Liberation Serif', 'Times New Roman', serif" stroke="#000" stroke-width="0.28" stroke-opacity="0.55" >1.0</text>
<g transform="translate(439.00,657.80) rotate(-90)"><text x="-5" y="0" font-family="'DejaVu Sans', sans-serif" font-style="italic" font-size="13.7" text-anchor="middle" stroke="#000" stroke-width="0.45">S</text><text x="4.6" y="-5" font-family="'DejaVu Sans', sans-serif" font-style="italic" font-size="9" text-anchor="middle" stroke="#000" stroke-width="0.3">Mi</text><path d="M-7,-13.2 Q-6,-14.8 -3,-14.8 L8,-14.6 Q10.5,-14.4 12.6,-15.6" fill="none" stroke="#111" stroke-width="1.0"/></g>
<rect x="485.5" y="584.6" width="253.0" height="21.0" rx="2" fill="#fff" stroke="#d8d8d8" stroke-width="0.8"/>
<rect x="490.2" y="589.2" width="25.3" height="10" fill="#2f7ed3" stroke="#333" stroke-width="0.6"/>
<text x="524.8" y="598.8" font-size="12.5" text-anchor="start" font-weight="normal" font-family="'Liberation Serif', 'Times New Roman', serif" stroke="#000" stroke-width="0.28" stroke-opacity="0.55" >existent links</text>
<rect x="615.1" y="589.2" width="24.6" height="10" fill="#e8710a" stroke="#333" stroke-width="0.6"/>
<text x="650" y="598.8" font-size="12.5" text-anchor="start" font-weight="normal" font-family="'Liberation Serif', 'Times New Roman', serif" stroke="#000" stroke-width="0.28" stroke-opacity="0.55" >nonexistent links</text>
</svg></body></html>
